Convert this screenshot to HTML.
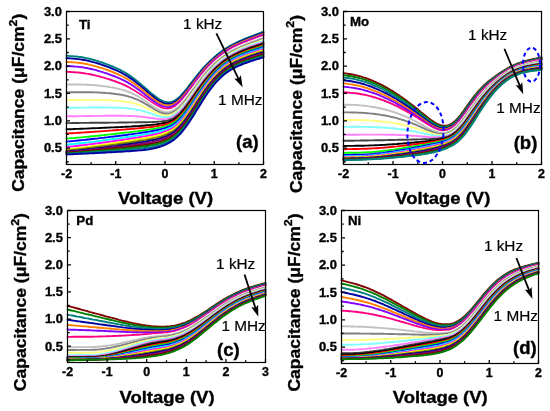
<!DOCTYPE html><html><head><meta charset="utf-8"><style>html,body{margin:0;padding:0;background:#fff;width:550px;height:411px;overflow:hidden}svg{display:block;filter:blur(0.3px)}text{font-family:"Liberation Sans",sans-serif;fill:#000;stroke:#000;stroke-width:0.35px}</style></head><body>
<svg width="550" height="411" viewBox="0 0 550 411">
<rect width="550" height="411" fill="#fff"/>
<g fill="none" stroke-width="1.9" stroke-linejoin="round" stroke-linecap="round">
<polyline points="66.5,55.8 68.5,55.9 70.4,56.1 72.4,56.2 74.4,56.4 76.3,56.5 78.3,56.8 80.3,57.0 82.3,57.3 84.2,57.7 86.2,58.1 88.2,58.5 90.1,59.0 92.1,59.5 94.1,60.0 96.1,60.6 98.0,61.2 100.0,61.8 102.0,62.5 103.9,63.2 105.9,63.9 107.9,64.6 109.8,65.4 111.8,66.2 113.8,67.0 115.8,67.9 117.7,68.8 119.7,69.7 121.7,70.7 123.6,71.8 125.6,72.9 127.6,74.1 129.5,75.4 131.5,76.8 133.5,78.2 135.4,79.7 137.4,81.3 139.4,82.9 141.4,84.6 143.3,86.3 145.3,88.0 147.3,89.7 149.2,91.4 151.2,93.1 153.2,94.8 155.2,96.3 157.1,97.7 159.1,99.0 161.1,100.2 163.0,101.1 165.0,101.8 167.0,102.1 168.9,102.2 170.9,101.9 172.9,101.3 174.9,100.3 176.8,99.0 178.8,97.4 180.8,95.6 182.7,93.5 184.7,91.2 186.7,88.8 188.6,86.2 190.6,83.7 192.6,81.1 194.6,78.5 196.5,76.0 198.5,73.5 200.5,71.2 202.4,68.9 204.4,66.7 206.4,64.6 208.3,62.6 210.3,60.7 212.3,58.9 214.2,57.1 216.2,55.4 218.2,53.8 220.2,52.3 222.1,50.9 224.1,49.5 226.1,48.2 228.0,47.0 230.0,45.9 232.0,44.8 233.9,43.8 235.9,42.8 237.9,41.8 239.9,40.9 241.8,40.1 243.8,39.2 245.8,38.4 247.7,37.6 249.7,36.8 251.7,36.1 253.7,35.3 255.6,34.6 257.6,33.8 259.6,33.1 261.5,32.4 263.5,31.7" stroke="#008080"/>
<polyline points="66.5,58.2 68.5,58.3 70.4,58.4 72.4,58.6 74.4,58.7 76.3,58.9 78.3,59.1 80.3,59.4 82.3,59.7 84.2,60.0 86.2,60.4 88.2,60.8 90.1,61.3 92.1,61.8 94.1,62.3 96.1,62.9 98.0,63.5 100.0,64.1 102.0,64.8 103.9,65.5 105.9,66.2 107.9,66.9 109.8,67.7 111.8,68.5 113.8,69.3 115.8,70.1 117.7,71.0 119.7,71.9 121.7,72.9 123.6,74.0 125.6,75.1 127.6,76.3 129.5,77.6 131.5,78.9 133.5,80.3 135.4,81.8 137.4,83.4 139.4,84.9 141.4,86.6 143.3,88.3 145.3,90.0 147.3,91.7 149.2,93.4 151.2,95.0 153.2,96.6 155.2,98.2 157.1,99.6 159.1,100.8 161.1,101.9 163.0,102.8 165.0,103.5 167.0,103.8 168.9,103.8 170.9,103.5 172.9,102.8 174.9,101.9 176.8,100.5 178.8,98.9 180.8,97.1 182.7,95.0 184.7,92.7 186.7,90.2 188.6,87.7 190.6,85.1 192.6,82.5 194.6,79.9 196.5,77.4 198.5,74.9 200.5,72.5 202.4,70.2 204.4,68.0 206.4,65.8 208.3,63.8 210.3,61.8 212.3,60.0 214.2,58.2 216.2,56.5 218.2,54.9 220.2,53.4 222.1,51.9 224.1,50.5 226.1,49.2 228.0,48.0 230.0,46.9 232.0,45.8 233.9,44.7 235.9,43.8 237.9,42.8 239.9,41.9 241.8,41.1 243.8,40.2 245.8,39.4 247.7,38.6 249.7,37.8 251.7,37.1 253.7,36.3 255.6,35.6 257.6,34.9 259.6,34.1 261.5,33.4 263.5,32.7" stroke="#0000A0"/>
<polyline points="66.5,61.9 68.5,62.0 70.4,62.1 72.4,62.3 74.4,62.4 76.3,62.6 78.3,62.8 80.3,63.0 82.3,63.3 84.2,63.6 86.2,64.0 88.2,64.4 90.1,64.9 92.1,65.3 94.1,65.8 96.1,66.4 98.0,67.0 100.0,67.6 102.0,68.2 103.9,68.9 105.9,69.5 107.9,70.2 109.8,71.0 111.8,71.7 113.8,72.5 115.8,73.3 117.7,74.2 119.7,75.1 121.7,76.0 123.6,77.0 125.6,78.1 127.6,79.2 129.5,80.5 131.5,81.8 133.5,83.1 135.4,84.5 137.4,86.0 139.4,87.5 141.4,89.1 143.3,90.7 145.3,92.4 147.3,94.0 149.2,95.6 151.2,97.2 153.2,98.7 155.2,100.2 157.1,101.5 159.1,102.7 161.1,103.8 163.0,104.6 165.0,105.2 167.0,105.5 168.9,105.5 170.9,105.1 172.9,104.4 174.9,103.4 176.8,102.1 178.8,100.5 180.8,98.6 182.7,96.5 184.7,94.2 186.7,91.7 188.6,89.2 190.6,86.6 192.6,84.0 194.6,81.3 196.5,78.8 198.5,76.3 200.5,73.8 202.4,71.5 204.4,69.2 206.4,67.0 208.3,65.0 210.3,63.0 212.3,61.1 214.2,59.3 216.2,57.6 218.2,55.9 220.2,54.4 222.1,52.9 224.1,51.5 226.1,50.2 228.0,49.0 230.0,47.8 232.0,46.7 233.9,45.7 235.9,44.7 237.9,43.8 239.9,42.9 241.8,42.0 243.8,41.2 245.8,40.4 247.7,39.6 249.7,38.8 251.7,38.1 253.7,37.3 255.6,36.6 257.6,35.9 259.6,35.1 261.5,34.4 263.5,33.7" stroke="#FF8000"/>
<polyline points="66.5,66.0 68.5,66.1 70.4,66.2 72.4,66.3 74.4,66.5 76.3,66.6 78.3,66.8 80.3,67.1 82.3,67.3 84.2,67.6 86.2,68.0 88.2,68.4 90.1,68.8 92.1,69.2 94.1,69.7 96.1,70.2 98.0,70.8 100.0,71.4 102.0,71.9 103.9,72.6 105.9,73.2 107.9,73.9 109.8,74.6 111.8,75.3 113.8,76.0 115.8,76.8 117.7,77.6 119.7,78.5 121.7,79.4 123.6,80.3 125.6,81.3 127.6,82.4 129.5,83.6 131.5,84.8 133.5,86.1 135.4,87.5 137.4,88.9 139.4,90.3 141.4,91.8 143.3,93.3 145.3,94.9 147.3,96.4 149.2,98.0 151.2,99.5 153.2,100.9 155.2,102.3 157.1,103.5 159.1,104.7 161.1,105.6 163.0,106.4 165.0,106.9 167.0,107.1 168.9,107.1 170.9,106.7 172.9,106.0 174.9,104.9 176.8,103.6 178.8,102.0 180.8,100.1 182.7,98.0 184.7,95.6 186.7,93.2 188.6,90.7 190.6,88.0 192.6,85.4 194.6,82.8 196.5,80.2 198.5,77.6 200.5,75.1 202.4,72.8 204.4,70.5 206.4,68.3 208.3,66.2 210.3,64.1 212.3,62.2 214.2,60.4 216.2,58.6 218.2,57.0 220.2,55.4 222.1,53.9 224.1,52.5 226.1,51.2 228.0,50.0 230.0,48.8 232.0,47.7 233.9,46.7 235.9,45.7 237.9,44.8 239.9,43.9 241.8,43.0 243.8,42.2 245.8,41.4 247.7,40.6 249.7,39.8 251.7,39.1 253.7,38.3 255.6,37.6 257.6,36.9 259.6,36.2 261.5,35.4 263.5,34.7" stroke="#8000FF"/>
<polyline points="66.5,71.8 68.5,71.9 70.4,72.0 72.4,72.1 74.4,72.2 76.3,72.4 78.3,72.5 80.3,72.7 82.3,73.0 84.2,73.2 86.2,73.6 88.2,73.9 90.1,74.3 92.1,74.7 94.1,75.1 96.1,75.6 98.0,76.1 100.0,76.6 102.0,77.2 103.9,77.7 105.9,78.3 107.9,78.9 109.8,79.5 111.8,80.2 113.8,80.8 115.8,81.5 117.7,82.3 119.7,83.0 121.7,83.9 123.6,84.7 125.6,85.7 127.6,86.7 129.5,87.7 131.5,88.8 133.5,90.0 135.4,91.2 137.4,92.5 139.4,93.8 141.4,95.1 143.3,96.5 145.3,97.9 147.3,99.3 149.2,100.7 151.2,102.1 153.2,103.3 155.2,104.6 157.1,105.7 159.1,106.7 161.1,107.6 163.0,108.2 165.0,108.6 167.0,108.8 168.9,108.7 170.9,108.3 172.9,107.5 174.9,106.5 176.8,105.1 178.8,103.5 180.8,101.6 182.7,99.5 184.7,97.1 186.7,94.7 188.6,92.1 190.6,89.5 192.6,86.8 194.6,84.2 196.5,81.5 198.5,79.0 200.5,76.5 202.4,74.0 204.4,71.7 206.4,69.5 208.3,67.3 210.3,65.3 212.3,63.3 214.2,61.5 216.2,59.7 218.2,58.0 220.2,56.5 222.1,55.0 224.1,53.6 226.1,52.2 228.0,51.0 230.0,49.8 232.0,48.7 233.9,47.7 235.9,46.7 237.9,45.7 239.9,44.8 241.8,44.0 243.8,43.2 245.8,42.4 247.7,41.6 249.7,40.8 251.7,40.1 253.7,39.3 255.6,38.6 257.6,37.9 259.6,37.2 261.5,36.5 263.5,35.8" stroke="#FF0080"/>
<polyline points="66.5,78.0 68.5,78.0 70.4,78.1 72.4,78.1 74.4,78.1 76.3,78.2 78.3,78.3 80.3,78.4 82.3,78.5 84.2,78.7 86.2,78.9 88.2,79.1 90.1,79.4 92.1,79.6 94.1,79.9 96.1,80.3 98.0,80.6 100.0,81.0 102.0,81.4 103.9,81.8 105.9,82.3 107.9,82.7 109.8,83.2 111.8,83.7 113.8,84.3 115.8,84.9 117.7,85.5 119.7,86.1 121.7,86.8 123.6,87.6 125.6,88.4 127.6,89.2 129.5,90.2 131.5,91.2 133.5,92.2 135.4,93.4 137.4,94.5 139.4,95.8 141.4,97.0 143.3,98.4 145.3,99.7 147.3,101.1 149.2,102.4 151.2,103.8 153.2,105.1 155.2,106.3 157.1,107.4 159.1,108.4 161.1,109.3 163.0,109.9 165.0,110.3 167.0,110.5 168.9,110.3 170.9,109.9 172.9,109.1 174.9,108.0 176.8,106.7 178.8,105.0 180.8,103.1 182.7,101.0 184.7,98.6 186.7,96.2 188.6,93.6 190.6,90.9 192.6,88.3 194.6,85.6 196.5,82.9 198.5,80.3 200.5,77.8 202.4,75.3 204.4,73.0 206.4,70.7 208.3,68.5 210.3,66.4 212.3,64.5 214.2,62.6 216.2,60.8 218.2,59.1 220.2,57.5 222.1,56.0 224.1,54.6 226.1,53.2 228.0,52.0 230.0,50.8 232.0,49.7 233.9,48.6 235.9,47.6 237.9,46.7 239.9,45.8 241.8,45.0 243.8,44.1 245.8,43.3 247.7,42.6 249.7,41.8 251.7,41.1 253.7,40.3 255.6,39.6 257.6,38.9 259.6,38.2 261.5,37.5 263.5,36.8" stroke="#FFFFFF"/>
<polyline points="66.5,84.5 68.5,84.5 70.4,84.5 72.4,84.5 74.4,84.5 76.3,84.5 78.3,84.5 80.3,84.5 82.3,84.6 84.2,84.6 86.2,84.7 88.2,84.8 90.1,84.9 92.1,85.0 94.1,85.1 96.1,85.3 98.0,85.5 100.0,85.7 102.0,85.9 103.9,86.2 105.9,86.4 107.9,86.7 109.8,87.1 111.8,87.4 113.8,87.8 115.8,88.2 117.7,88.6 119.7,89.1 121.7,89.6 123.6,90.2 125.6,90.8 127.6,91.5 129.5,92.3 131.5,93.1 133.5,94.1 135.4,95.0 137.4,96.1 139.4,97.2 141.4,98.4 143.3,99.7 145.3,101.0 147.3,102.3 149.2,103.7 151.2,105.1 153.2,106.4 155.2,107.7 157.1,108.8 159.1,109.9 161.1,110.8 163.0,111.5 165.0,112.0 167.0,112.1 168.9,112.0 170.9,111.5 172.9,110.7 174.9,109.6 176.8,108.2 178.8,106.5 180.8,104.6 182.7,102.5 184.7,100.1 186.7,97.6 188.6,95.1 190.6,92.4 192.6,89.7 194.6,87.0 196.5,84.3 198.5,81.7 200.5,79.1 202.4,76.6 204.4,74.2 206.4,71.9 208.3,69.7 210.3,67.6 212.3,65.6 214.2,63.7 216.2,61.9 218.2,60.1 220.2,58.5 222.1,57.0 224.1,55.6 226.1,54.2 228.0,52.9 230.0,51.8 232.0,50.6 233.9,49.6 235.9,48.6 237.9,47.7 239.9,46.8 241.8,45.9 243.8,45.1 245.8,44.3 247.7,43.5 249.7,42.8 251.7,42.0 253.7,41.3 255.6,40.6 257.6,39.9 259.6,39.2 261.5,38.5 263.5,37.8" stroke="#C0C0C0"/>
<polyline points="66.5,92.3 68.5,92.3 70.4,92.3 72.4,92.2 74.4,92.2 76.3,92.2 78.3,92.2 80.3,92.2 82.3,92.2 84.2,92.2 86.2,92.2 88.2,92.2 90.1,92.3 92.1,92.3 94.1,92.4 96.1,92.4 98.0,92.5 100.0,92.6 102.0,92.7 103.9,92.8 105.9,93.0 107.9,93.1 109.8,93.3 111.8,93.5 113.8,93.7 115.8,94.0 117.7,94.2 119.7,94.5 121.7,94.9 123.6,95.3 125.6,95.7 127.6,96.2 129.5,96.8 131.5,97.4 133.5,98.1 135.4,98.9 137.4,99.7 139.4,100.6 141.4,101.6 143.3,102.6 145.3,103.8 147.3,104.9 149.2,106.1 151.2,107.3 153.2,108.5 155.2,109.7 157.1,110.8 159.1,111.8 161.1,112.6 163.0,113.3 165.0,113.7 167.0,113.8 168.9,113.6 170.9,113.1 172.9,112.2 174.9,111.1 176.8,109.7 178.8,108.0 180.8,106.1 182.7,104.0 184.7,101.6 186.7,99.1 188.6,96.5 190.6,93.9 192.6,91.1 194.6,88.4 196.5,85.7 198.5,83.0 200.5,80.4 202.4,77.9 204.4,75.5 206.4,73.1 208.3,70.9 210.3,68.7 212.3,66.7 214.2,64.8 216.2,62.9 218.2,61.2 220.2,59.6 222.1,58.0 224.1,56.6 226.1,55.2 228.0,53.9 230.0,52.7 232.0,51.6 233.9,50.6 235.9,49.6 237.9,48.7 239.9,47.8 241.8,46.9 243.8,46.1 245.8,45.3 247.7,44.5 249.7,43.8 251.7,43.0 253.7,42.3 255.6,41.6 257.6,40.9 259.6,40.2 261.5,39.5 263.5,38.8" stroke="#808080"/>
<polyline points="66.5,100.1 68.5,100.1 70.4,100.1 72.4,100.0 74.4,100.0 76.3,100.0 78.3,100.0 80.3,100.0 82.3,99.9 84.2,99.9 86.2,99.9 88.2,99.9 90.1,99.9 92.1,99.9 94.1,99.9 96.1,99.9 98.0,100.0 100.0,100.0 102.0,100.0 103.9,100.1 105.9,100.1 107.9,100.2 109.8,100.3 111.8,100.4 113.8,100.5 115.8,100.6 117.7,100.8 119.7,101.0 121.7,101.2 123.6,101.4 125.6,101.7 127.6,102.0 129.5,102.3 131.5,102.7 133.5,103.2 135.4,103.7 137.4,104.3 139.4,105.0 141.4,105.7 143.3,106.5 145.3,107.4 147.3,108.3 149.2,109.3 151.2,110.2 153.2,111.2 155.2,112.2 157.1,113.1 159.1,113.9 161.1,114.6 163.0,115.1 165.0,115.4 167.0,115.5 168.9,115.2 170.9,114.7 172.9,113.8 174.9,112.7 176.8,111.3 178.8,109.6 180.8,107.6 182.7,105.5 184.7,103.1 186.7,100.6 188.6,98.0 190.6,95.3 192.6,92.6 194.6,89.8 196.5,87.1 198.5,84.4 200.5,81.7 202.4,79.2 204.4,76.7 206.4,74.3 208.3,72.1 210.3,69.9 212.3,67.8 214.2,65.9 216.2,64.0 218.2,62.2 220.2,60.6 222.1,59.0 224.1,57.6 226.1,56.2 228.0,54.9 230.0,53.7 232.0,52.6 233.9,51.5 235.9,50.6 237.9,49.6 239.9,48.7 241.8,47.9 243.8,47.1 245.8,46.3 247.7,45.5 249.7,44.8 251.7,44.0 253.7,43.3 255.6,42.6 257.6,41.9 259.6,41.2 261.5,40.5 263.5,39.9" stroke="#FFFF80"/>
<polyline points="66.5,107.8 68.5,107.8 70.4,107.8 72.4,107.7 74.4,107.7 76.3,107.7 78.3,107.7 80.3,107.6 82.3,107.6 84.2,107.6 86.2,107.6 88.2,107.6 90.1,107.5 92.1,107.5 94.1,107.5 96.1,107.5 98.0,107.5 100.0,107.5 102.0,107.5 103.9,107.5 105.9,107.5 107.9,107.5 109.8,107.6 111.8,107.6 113.8,107.6 115.8,107.7 117.7,107.7 119.7,107.8 121.7,107.9 123.6,108.0 125.6,108.2 127.6,108.3 129.5,108.5 131.5,108.8 133.5,109.0 135.4,109.4 137.4,109.7 139.4,110.1 141.4,110.6 143.3,111.1 145.3,111.7 147.3,112.3 149.2,113.0 151.2,113.7 153.2,114.3 155.2,115.0 157.1,115.7 159.1,116.3 161.1,116.7 163.0,117.1 165.0,117.2 167.0,117.2 168.9,116.8 170.9,116.3 172.9,115.4 174.9,114.2 176.8,112.8 178.8,111.1 180.8,109.1 182.7,107.0 184.7,104.6 186.7,102.1 188.6,99.5 190.6,96.8 192.6,94.0 194.6,91.2 196.5,88.5 198.5,85.7 200.5,83.1 202.4,80.5 204.4,78.0 206.4,75.5 208.3,73.2 210.3,71.0 212.3,68.9 214.2,66.9 216.2,65.1 218.2,63.3 220.2,61.6 222.1,60.1 224.1,58.6 226.1,57.2 228.0,55.9 230.0,54.7 232.0,53.6 233.9,52.5 235.9,51.5 237.9,50.6 239.9,49.7 241.8,48.9 243.8,48.1 245.8,47.3 247.7,46.5 249.7,45.8 251.7,45.0 253.7,44.3 255.6,43.6 257.6,42.9 259.6,42.2 261.5,41.6 263.5,40.9" stroke="#80FFFF"/>
<polyline points="66.5,116.3 68.5,116.3 70.4,116.2 72.4,116.2 74.4,116.2 76.3,116.2 78.3,116.1 80.3,116.1 82.3,116.1 84.2,116.1 86.2,116.0 88.2,116.0 90.1,116.0 92.1,116.0 94.1,115.9 96.1,115.9 98.0,115.9 100.0,115.9 102.0,115.9 103.9,115.8 105.9,115.8 107.9,115.8 109.8,115.8 111.8,115.8 113.8,115.8 115.8,115.8 117.7,115.8 119.7,115.8 121.7,115.8 123.6,115.8 125.6,115.9 127.6,115.9 129.5,116.0 131.5,116.0 133.5,116.1 135.4,116.2 137.4,116.4 139.4,116.5 141.4,116.7 143.3,116.9 145.3,117.2 147.3,117.4 149.2,117.7 151.2,118.0 153.2,118.2 155.2,118.5 157.1,118.8 159.1,119.0 161.1,119.1 163.0,119.2 165.0,119.1 167.0,118.9 168.9,118.5 170.9,117.8 172.9,116.9 174.9,115.8 176.8,114.3 178.8,112.6 180.8,110.6 182.7,108.5 184.7,106.1 186.7,103.6 188.6,100.9 190.6,98.2 192.6,95.4 194.6,92.6 196.5,89.8 198.5,87.1 200.5,84.4 202.4,81.7 204.4,79.2 206.4,76.8 208.3,74.4 210.3,72.2 212.3,70.1 214.2,68.0 216.2,66.1 218.2,64.3 220.2,62.7 222.1,61.1 224.1,59.6 226.1,58.2 228.0,56.9 230.0,55.7 232.0,54.5 233.9,53.5 235.9,52.5 237.9,51.6 239.9,50.7 241.8,49.8 243.8,49.0 245.8,48.3 247.7,47.5 249.7,46.7 251.7,46.0 253.7,45.3 255.6,44.6 257.6,43.9 259.6,43.3 261.5,42.6 263.5,41.9" stroke="#FF80FF"/>
<polyline points="66.5,123.1 68.5,123.1 70.4,123.1 72.4,123.0 74.4,123.0 76.3,123.0 78.3,123.0 80.3,122.9 82.3,122.9 84.2,122.9 86.2,122.9 88.2,122.9 90.1,122.8 92.1,122.8 94.1,122.8 96.1,122.8 98.0,122.8 100.0,122.7 102.0,122.7 103.9,122.7 105.9,122.7 107.9,122.7 109.8,122.6 111.8,122.6 113.8,122.6 115.8,122.6 117.7,122.6 119.7,122.5 121.7,122.5 123.6,122.5 125.6,122.5 127.6,122.5 129.5,122.4 131.5,122.4 133.5,122.4 135.4,122.4 137.4,122.3 139.4,122.3 141.4,122.3 143.3,122.2 145.3,122.2 147.3,122.2 149.2,122.1 151.2,122.1 153.2,122.0 155.2,121.9 157.1,121.8 159.1,121.6 161.1,121.5 163.0,121.2 165.0,120.9 167.0,120.6 168.9,120.1 170.9,119.4 172.9,118.5 174.9,117.3 176.8,115.8 178.8,114.1 180.8,112.1 182.7,110.0 184.7,107.6 186.7,105.1 188.6,102.4 190.6,99.7 192.6,96.9 194.6,94.1 196.5,91.2 198.5,88.4 200.5,85.7 202.4,83.0 204.4,80.5 206.4,78.0 208.3,75.6 210.3,73.3 212.3,71.2 214.2,69.1 216.2,67.2 218.2,65.4 220.2,63.7 222.1,62.1 224.1,60.6 226.1,59.2 228.0,57.9 230.0,56.7 232.0,55.5 233.9,54.5 235.9,53.5 237.9,52.5 239.9,51.7 241.8,50.8 243.8,50.0 245.8,49.2 247.7,48.5 249.7,47.7 251.7,47.0 253.7,46.3 255.6,45.6 257.6,44.9 259.6,44.3 261.5,43.6 263.5,42.9" stroke="#404040"/>
<polyline points="66.5,129.3 68.5,129.2 70.4,129.2 72.4,129.1 74.4,129.0 76.3,128.9 78.3,128.9 80.3,128.8 82.3,128.7 84.2,128.6 86.2,128.6 88.2,128.5 90.1,128.4 92.1,128.3 94.1,128.2 96.1,128.1 98.0,128.1 100.0,128.0 102.0,127.9 103.9,127.8 105.9,127.7 107.9,127.6 109.8,127.5 111.8,127.4 113.8,127.4 115.8,127.3 117.7,127.2 119.7,127.1 121.7,127.0 123.6,126.9 125.6,126.8 127.6,126.7 129.5,126.6 131.5,126.5 133.5,126.3 135.4,126.2 137.4,126.1 139.4,126.0 141.4,125.8 143.3,125.7 145.3,125.5 147.3,125.3 149.2,125.1 151.2,124.9 153.2,124.7 155.2,124.5 157.1,124.2 159.1,123.9 161.1,123.6 163.0,123.2 165.0,122.8 167.0,122.3 168.9,121.8 170.9,121.0 172.9,120.1 174.9,118.9 176.8,117.4 178.8,115.6 180.8,113.6 182.7,111.5 184.7,109.1 186.7,106.5 188.6,103.9 190.6,101.1 192.6,98.3 194.6,95.5 196.5,92.6 198.5,89.8 200.5,87.0 202.4,84.3 204.4,81.7 206.4,79.2 208.3,76.8 210.3,74.5 212.3,72.3 214.2,70.2 216.2,68.3 218.2,66.4 220.2,64.7 222.1,63.1 224.1,61.6 226.1,60.2 228.0,58.9 230.0,57.6 232.0,56.5 233.9,55.4 235.9,54.4 237.9,53.5 239.9,52.6 241.8,51.8 243.8,51.0 245.8,50.2 247.7,49.5 249.7,48.7 251.7,48.0 253.7,47.3 255.6,46.6 257.6,46.0 259.6,45.3 261.5,44.6 263.5,44.0" stroke="#000000"/>
<polyline points="66.5,133.5 68.5,133.4 70.4,133.3 72.4,133.2 74.4,133.1 76.3,132.9 78.3,132.8 80.3,132.7 82.3,132.6 84.2,132.4 86.2,132.3 88.2,132.2 90.1,132.0 92.1,131.9 94.1,131.8 96.1,131.6 98.0,131.5 100.0,131.4 102.0,131.2 103.9,131.1 105.9,130.9 107.9,130.8 109.8,130.6 111.8,130.5 113.8,130.3 115.8,130.2 117.7,130.0 119.7,129.9 121.7,129.7 123.6,129.6 125.6,129.4 127.6,129.2 129.5,129.1 131.5,128.9 133.5,128.7 135.4,128.6 137.4,128.4 139.4,128.2 141.4,128.0 143.3,127.8 145.3,127.6 147.3,127.4 149.2,127.2 151.2,127.0 153.2,126.7 155.2,126.4 157.1,126.1 159.1,125.8 161.1,125.4 163.0,125.0 165.0,124.6 167.0,124.0 168.9,123.4 170.9,122.6 172.9,121.6 174.9,120.4 176.8,118.9 178.8,117.1 180.8,115.2 182.7,113.0 184.7,110.6 186.7,108.0 188.6,105.4 190.6,102.6 192.6,99.8 194.6,96.9 196.5,94.0 198.5,91.2 200.5,88.3 202.4,85.6 204.4,82.9 206.4,80.4 208.3,78.0 210.3,75.6 212.3,73.4 214.2,71.3 216.2,69.4 218.2,67.5 220.2,65.8 222.1,64.1 224.1,62.6 226.1,61.2 228.0,59.8 230.0,58.6 232.0,57.5 233.9,56.4 235.9,55.4 237.9,54.5 239.9,53.6 241.8,52.8 243.8,52.0 245.8,51.2 247.7,50.4 249.7,49.7 251.7,49.0 253.7,48.3 255.6,47.6 257.6,47.0 259.6,46.3 261.5,45.6 263.5,45.0" stroke="#FF0000"/>
<polyline points="66.5,138.6 68.5,138.4 70.4,138.3 72.4,138.1 74.4,138.0 76.3,137.8 78.3,137.6 80.3,137.4 82.3,137.3 84.2,137.1 86.2,136.9 88.2,136.7 90.1,136.5 92.1,136.3 94.1,136.1 96.1,135.9 98.0,135.7 100.0,135.5 102.0,135.3 103.9,135.1 105.9,134.8 107.9,134.6 109.8,134.4 111.8,134.2 113.8,134.0 115.8,133.7 117.7,133.5 119.7,133.3 121.7,133.1 123.6,132.8 125.6,132.6 127.6,132.4 129.5,132.2 131.5,131.9 133.5,131.7 135.4,131.4 137.4,131.2 139.4,130.9 141.4,130.7 143.3,130.4 145.3,130.2 147.3,129.9 149.2,129.6 151.2,129.3 153.2,129.0 155.2,128.6 157.1,128.2 159.1,127.8 161.1,127.4 163.0,126.9 165.0,126.4 167.0,125.8 168.9,125.1 170.9,124.2 172.9,123.2 174.9,121.9 176.8,120.4 178.8,118.7 180.8,116.7 182.7,114.5 184.7,112.1 186.7,109.5 188.6,106.8 190.6,104.0 192.6,101.2 194.6,98.3 196.5,95.4 198.5,92.5 200.5,89.7 202.4,86.9 204.4,84.2 206.4,81.6 208.3,79.1 210.3,76.8 212.3,74.5 214.2,72.4 216.2,70.4 218.2,68.5 220.2,66.8 222.1,65.1 224.1,63.6 226.1,62.2 228.0,60.8 230.0,59.6 232.0,58.4 233.9,57.4 235.9,56.4 237.9,55.5 239.9,54.6 241.8,53.7 243.8,52.9 245.8,52.2 247.7,51.4 249.7,50.7 251.7,50.0 253.7,49.3 255.6,48.6 257.6,48.0 259.6,47.3 261.5,46.7 263.5,46.0" stroke="#00FF00"/>
<polyline points="66.5,141.6 68.5,141.4 70.4,141.3 72.4,141.1 74.4,140.9 76.3,140.7 78.3,140.5 80.3,140.3 82.3,140.1 84.2,139.9 86.2,139.7 88.2,139.5 90.1,139.3 92.1,139.0 94.1,138.8 96.1,138.6 98.0,138.4 100.0,138.1 102.0,137.9 103.9,137.7 105.9,137.4 107.9,137.2 109.8,136.9 111.8,136.7 113.8,136.5 115.8,136.2 117.7,136.0 119.7,135.7 121.7,135.5 123.6,135.2 125.6,135.0 127.6,134.7 129.5,134.4 131.5,134.2 133.5,133.9 135.4,133.6 137.4,133.4 139.4,133.1 141.4,132.8 143.3,132.5 145.3,132.2 147.3,131.9 149.2,131.6 151.2,131.3 153.2,130.9 155.2,130.5 157.1,130.1 159.1,129.7 161.1,129.2 163.0,128.7 165.0,128.1 167.0,127.4 168.9,126.7 170.9,125.8 172.9,124.8 174.9,123.5 176.8,122.0 178.8,120.2 180.8,118.2 182.7,116.0 184.7,113.6 186.7,111.0 188.6,108.3 190.6,105.5 192.6,102.6 194.6,99.7 196.5,96.8 198.5,93.9 200.5,91.0 202.4,88.2 204.4,85.4 206.4,82.8 208.3,80.3 210.3,77.9 212.3,75.7 214.2,73.5 216.2,71.5 218.2,69.6 220.2,67.8 222.1,66.2 224.1,64.6 226.1,63.2 228.0,61.8 230.0,60.6 232.0,59.4 233.9,58.4 235.9,57.4 237.9,56.4 239.9,55.6 241.8,54.7 243.8,53.9 245.8,53.2 247.7,52.4 249.7,51.7 251.7,51.0 253.7,50.3 255.6,49.6 257.6,49.0 259.6,48.3 261.5,47.7 263.5,47.0" stroke="#0000FF"/>
<polyline points="66.5,144.7 68.5,144.5 70.4,144.3 72.4,144.1 74.4,143.9 76.3,143.7 78.3,143.5 80.3,143.3 82.3,143.1 84.2,142.8 86.2,142.6 88.2,142.4 90.1,142.1 92.1,141.9 94.1,141.6 96.1,141.4 98.0,141.1 100.0,140.9 102.0,140.6 103.9,140.3 105.9,140.1 107.9,139.8 109.8,139.5 111.8,139.3 113.8,139.0 115.8,138.7 117.7,138.4 119.7,138.2 121.7,137.9 123.6,137.6 125.6,137.3 127.6,137.0 129.5,136.8 131.5,136.5 133.5,136.2 135.4,135.9 137.4,135.6 139.4,135.3 141.4,135.0 143.3,134.6 145.3,134.3 147.3,134.0 149.2,133.6 151.2,133.3 153.2,132.9 155.2,132.5 157.1,132.0 159.1,131.6 161.1,131.0 163.0,130.5 165.0,129.8 167.0,129.1 168.9,128.3 170.9,127.4 172.9,126.3 174.9,125.0 176.8,123.5 178.8,121.7 180.8,119.7 182.7,117.5 184.7,115.0 186.7,112.5 188.6,109.8 190.6,107.0 192.6,104.1 194.6,101.1 196.5,98.2 198.5,95.2 200.5,92.3 202.4,89.5 204.4,86.7 206.4,84.0 208.3,81.5 210.3,79.1 212.3,76.8 214.2,74.6 216.2,72.6 218.2,70.6 220.2,68.9 222.1,67.2 224.1,65.6 226.1,64.2 228.0,62.8 230.0,61.6 232.0,60.4 233.9,59.3 235.9,58.3 237.9,57.4 239.9,56.5 241.8,55.7 243.8,54.9 245.8,54.1 247.7,53.4 249.7,52.7 251.7,52.0 253.7,51.3 255.6,50.6 257.6,50.0 259.6,49.3 261.5,48.7 263.5,48.1" stroke="#00FFFF"/>
<polyline points="66.5,147.0 68.5,146.8 70.4,146.6 72.4,146.4 74.4,146.2 76.3,146.0 78.3,145.8 80.3,145.5 82.3,145.3 84.2,145.1 86.2,144.8 88.2,144.6 90.1,144.3 92.1,144.1 94.1,143.8 96.1,143.5 98.0,143.3 100.0,143.0 102.0,142.8 103.9,142.5 105.9,142.2 107.9,141.9 109.8,141.7 111.8,141.4 113.8,141.1 115.8,140.8 117.7,140.5 119.7,140.2 121.7,140.0 123.6,139.7 125.6,139.4 127.6,139.1 129.5,138.8 131.5,138.5 133.5,138.2 135.4,137.9 137.4,137.6 139.4,137.2 141.4,136.9 143.3,136.6 145.3,136.3 147.3,135.9 149.2,135.5 151.2,135.2 153.2,134.7 155.2,134.3 157.1,133.8 159.1,133.3 161.1,132.8 163.0,132.2 165.0,131.5 167.0,130.8 168.9,130.0 170.9,129.0 172.9,127.9 174.9,126.6 176.8,125.0 178.8,123.2 180.8,121.2 182.7,119.0 184.7,116.5 186.7,114.0 188.6,111.2 190.6,108.4 192.6,105.5 194.6,102.5 196.5,99.5 198.5,96.6 200.5,93.6 202.4,90.7 204.4,87.9 206.4,85.2 208.3,82.7 210.3,80.2 212.3,77.9 214.2,75.7 216.2,73.6 218.2,71.7 220.2,69.9 222.1,68.2 224.1,66.6 226.1,65.1 228.0,63.8 230.0,62.5 232.0,61.4 233.9,60.3 235.9,59.3 237.9,58.4 239.9,57.5 241.8,56.7 243.8,55.9 245.8,55.1 247.7,54.4 249.7,53.7 251.7,53.0 253.7,52.3 255.6,51.7 257.6,51.0 259.6,50.4 261.5,49.7 263.5,49.1" stroke="#FF00FF"/>
<polyline points="66.5,149.3 68.5,149.1 70.4,148.9 72.4,148.7 74.4,148.5 76.3,148.2 78.3,148.0 80.3,147.8 82.3,147.5 84.2,147.3 86.2,147.0 88.2,146.8 90.1,146.5 92.1,146.3 94.1,146.0 96.1,145.7 98.0,145.5 100.0,145.2 102.0,144.9 103.9,144.6 105.9,144.3 107.9,144.1 109.8,143.8 111.8,143.5 113.8,143.2 115.8,142.9 117.7,142.6 119.7,142.3 121.7,142.0 123.6,141.7 125.6,141.4 127.6,141.1 129.5,140.8 131.5,140.5 133.5,140.2 135.4,139.9 137.4,139.5 139.4,139.2 141.4,138.9 143.3,138.5 145.3,138.2 147.3,137.8 149.2,137.4 151.2,137.0 153.2,136.6 155.2,136.2 157.1,135.7 159.1,135.1 161.1,134.6 163.0,133.9 165.0,133.2 167.0,132.5 168.9,131.6 170.9,130.6 172.9,129.5 174.9,128.1 176.8,126.5 178.8,124.7 180.8,122.7 182.7,120.5 184.7,118.0 186.7,115.4 188.6,112.7 190.6,109.9 192.6,106.9 194.6,103.9 196.5,100.9 198.5,97.9 200.5,94.9 202.4,92.0 204.4,89.2 206.4,86.5 208.3,83.9 210.3,81.4 212.3,79.0 214.2,76.8 216.2,74.7 218.2,72.7 220.2,70.9 222.1,69.2 224.1,67.6 226.1,66.1 228.0,64.8 230.0,63.5 232.0,62.4 233.9,61.3 235.9,60.3 237.9,59.3 239.9,58.5 241.8,57.6 243.8,56.9 245.8,56.1 247.7,55.4 249.7,54.7 251.7,54.0 253.7,53.3 255.6,52.7 257.6,52.0 259.6,51.4 261.5,50.7 263.5,50.1" stroke="#FFFF00"/>
<polyline points="66.5,150.4 68.5,150.2 70.4,150.0 72.4,149.8 74.4,149.6 76.3,149.4 78.3,149.2 80.3,149.0 82.3,148.7 84.2,148.5 86.2,148.3 88.2,148.0 90.1,147.8 92.1,147.5 94.1,147.3 96.1,147.0 98.0,146.8 100.0,146.5 102.0,146.2 103.9,146.0 105.9,145.7 107.9,145.5 109.8,145.2 111.8,144.9 113.8,144.6 115.8,144.4 117.7,144.1 119.7,143.8 121.7,143.5 123.6,143.2 125.6,143.0 127.6,142.7 129.5,142.4 131.5,142.1 133.5,141.8 135.4,141.5 137.4,141.2 139.4,140.8 141.4,140.5 143.3,140.2 145.3,139.9 147.3,139.5 149.2,139.1 151.2,138.7 153.2,138.3 155.2,137.9 157.1,137.4 159.1,136.8 161.1,136.3 163.0,135.6 165.0,134.9 167.0,134.1 168.9,133.2 170.9,132.2 172.9,131.0 174.9,129.7 176.8,128.1 178.8,126.2 180.8,124.2 182.7,122.0 184.7,119.5 186.7,116.9 188.6,114.2 190.6,111.3 192.6,108.4 194.6,105.4 196.5,102.3 198.5,99.3 200.5,96.3 202.4,93.3 204.4,90.4 206.4,87.7 208.3,85.0 210.3,82.5 212.3,80.1 214.2,77.9 216.2,75.8 218.2,73.8 220.2,71.9 222.1,70.2 224.1,68.6 226.1,67.1 228.0,65.8 230.0,64.5 232.0,63.3 233.9,62.3 235.9,61.3 237.9,60.3 239.9,59.4 241.8,58.6 243.8,57.8 245.8,57.1 247.7,56.4 249.7,55.7 251.7,55.0 253.7,54.3 255.6,53.7 257.6,53.0 259.6,52.4 261.5,51.8 263.5,51.1" stroke="#808000"/>
<polyline points="66.5,151.6 68.5,151.4 70.4,151.2 72.4,151.0 74.4,150.8 76.3,150.6 78.3,150.4 80.3,150.2 82.3,150.0 84.2,149.8 86.2,149.6 88.2,149.3 90.1,149.1 92.1,148.9 94.1,148.6 96.1,148.4 98.0,148.1 100.0,147.9 102.0,147.7 103.9,147.4 105.9,147.2 107.9,146.9 109.8,146.7 111.8,146.4 113.8,146.1 115.8,145.9 117.7,145.6 119.7,145.3 121.7,145.1 123.6,144.8 125.6,144.5 127.6,144.3 129.5,144.0 131.5,143.7 133.5,143.4 135.4,143.1 137.4,142.8 139.4,142.5 141.4,142.2 143.3,141.9 145.3,141.6 147.3,141.2 149.2,140.8 151.2,140.4 153.2,140.0 155.2,139.6 157.1,139.1 159.1,138.6 161.1,138.0 163.0,137.3 165.0,136.6 167.0,135.8 168.9,134.8 170.9,133.8 172.9,132.6 174.9,131.2 176.8,129.6 178.8,127.8 180.8,125.7 182.7,123.5 184.7,121.0 186.7,118.4 188.6,115.6 190.6,112.8 192.6,109.8 194.6,106.8 196.5,103.7 198.5,100.6 200.5,97.6 202.4,94.6 204.4,91.7 206.4,88.9 208.3,86.2 210.3,83.7 212.3,81.3 214.2,79.0 216.2,76.8 218.2,74.8 220.2,73.0 222.1,71.2 224.1,69.6 226.1,68.1 228.0,66.7 230.0,65.5 232.0,64.3 233.9,63.2 235.9,62.2 237.9,61.3 239.9,60.4 241.8,59.6 243.8,58.8 245.8,58.1 247.7,57.3 249.7,56.7 251.7,56.0 253.7,55.3 255.6,54.7 257.6,54.0 259.6,53.4 261.5,52.8 263.5,52.2" stroke="#000080"/>
<polyline points="66.5,152.2 68.5,152.0 70.4,151.9 72.4,151.7 74.4,151.5 76.3,151.3 78.3,151.1 80.3,151.0 82.3,150.8 84.2,150.6 86.2,150.4 88.2,150.2 90.1,149.9 92.1,149.7 94.1,149.5 96.1,149.3 98.0,149.1 100.0,148.9 102.0,148.7 103.9,148.4 105.9,148.2 107.9,148.0 109.8,147.8 111.8,147.5 113.8,147.3 115.8,147.1 117.7,146.8 119.7,146.6 121.7,146.4 123.6,146.1 125.6,145.9 127.6,145.6 129.5,145.4 131.5,145.1 133.5,144.8 135.4,144.6 137.4,144.3 139.4,144.0 141.4,143.7 143.3,143.4 145.3,143.1 147.3,142.8 149.2,142.4 151.2,142.1 153.2,141.7 155.2,141.2 157.1,140.7 159.1,140.2 161.1,139.6 163.0,139.0 165.0,138.2 167.0,137.4 168.9,136.4 170.9,135.4 172.9,134.2 174.9,132.8 176.8,131.1 178.8,129.3 180.8,127.2 182.7,125.0 184.7,122.5 186.7,119.9 188.6,117.1 190.6,114.2 192.6,111.2 194.6,108.2 196.5,105.1 198.5,102.0 200.5,98.9 202.4,95.9 204.4,92.9 206.4,90.1 208.3,87.4 210.3,84.8 212.3,82.4 214.2,80.1 216.2,77.9 218.2,75.9 220.2,74.0 222.1,72.3 224.1,70.6 226.1,69.1 228.0,67.7 230.0,66.5 232.0,65.3 233.9,64.2 235.9,63.2 237.9,62.3 239.9,61.4 241.8,60.6 243.8,59.8 245.8,59.1 247.7,58.3 249.7,57.6 251.7,57.0 253.7,56.3 255.6,55.7 257.6,55.0 259.6,54.4 261.5,53.8 263.5,53.2" stroke="#800080"/>
<polyline points="66.5,152.7 68.5,152.6 70.4,152.4 72.4,152.2 74.4,152.1 76.3,151.9 78.3,151.8 80.3,151.6 82.3,151.4 84.2,151.3 86.2,151.1 88.2,150.9 90.1,150.7 92.1,150.5 94.1,150.4 96.1,150.2 98.0,150.0 100.0,149.8 102.0,149.6 103.9,149.4 105.9,149.2 107.9,149.0 109.8,148.8 111.8,148.6 113.8,148.4 115.8,148.2 117.7,148.0 119.7,147.8 121.7,147.6 123.6,147.4 125.6,147.2 127.6,146.9 129.5,146.7 131.5,146.5 133.5,146.3 135.4,146.0 137.4,145.8 139.4,145.5 141.4,145.2 143.3,145.0 145.3,144.7 147.3,144.4 149.2,144.0 151.2,143.7 153.2,143.3 155.2,142.9 157.1,142.4 159.1,141.9 161.1,141.3 163.0,140.6 165.0,139.9 167.0,139.0 168.9,138.1 170.9,137.0 172.9,135.7 174.9,134.3 176.8,132.7 178.8,130.8 180.8,128.7 182.7,126.5 184.7,124.0 186.7,121.4 188.6,118.6 190.6,115.7 192.6,112.7 194.6,109.6 196.5,106.5 198.5,103.3 200.5,100.2 202.4,97.2 204.4,94.2 206.4,91.3 208.3,88.6 210.3,86.0 212.3,83.5 214.2,81.2 216.2,79.0 218.2,76.9 220.2,75.0 222.1,73.3 224.1,71.6 226.1,70.1 228.0,68.7 230.0,67.4 232.0,66.3 233.9,65.2 235.9,64.2 237.9,63.2 239.9,62.4 241.8,61.6 243.8,60.8 245.8,60.0 247.7,59.3 249.7,58.6 251.7,58.0 253.7,57.3 255.6,56.7 257.6,56.1 259.6,55.4 261.5,54.8 263.5,54.2" stroke="#800000"/>
<polyline points="66.5,153.3 68.5,153.2 70.4,153.0 72.4,152.9 74.4,152.8 76.3,152.6 78.3,152.5 80.3,152.3 82.3,152.2 84.2,152.0 86.2,151.9 88.2,151.7 90.1,151.6 92.1,151.4 94.1,151.3 96.1,151.1 98.0,150.9 100.0,150.8 102.0,150.6 103.9,150.4 105.9,150.3 107.9,150.1 109.8,149.9 111.8,149.8 113.8,149.6 115.8,149.4 117.7,149.2 119.7,149.1 121.7,148.9 123.6,148.7 125.6,148.5 127.6,148.3 129.5,148.1 131.5,147.9 133.5,147.7 135.4,147.5 137.4,147.3 139.4,147.0 141.4,146.8 143.3,146.5 145.3,146.3 147.3,146.0 149.2,145.7 151.2,145.3 153.2,144.9 155.2,144.5 157.1,144.0 159.1,143.5 161.1,142.9 163.0,142.3 165.0,141.5 167.0,140.7 168.9,139.7 170.9,138.6 172.9,137.3 174.9,135.8 176.8,134.2 178.8,132.3 180.8,130.2 182.7,128.0 184.7,125.5 186.7,122.8 188.6,120.1 190.6,117.1 192.6,114.1 194.6,111.0 196.5,107.9 198.5,104.7 200.5,101.6 202.4,98.5 204.4,95.4 206.4,92.5 208.3,89.7 210.3,87.1 212.3,84.6 214.2,82.3 216.2,80.1 218.2,78.0 220.2,76.1 222.1,74.3 224.1,72.6 226.1,71.1 228.0,69.7 230.0,68.4 232.0,67.2 233.9,66.1 235.9,65.1 237.9,64.2 239.9,63.3 241.8,62.5 243.8,61.8 245.8,61.0 247.7,60.3 249.7,59.6 251.7,59.0 253.7,58.3 255.6,57.7 257.6,57.1 259.6,56.5 261.5,55.8 263.5,55.2" stroke="#008000"/>
<polyline points="66.5,153.9 68.5,153.8 70.4,153.7 72.4,153.6 74.4,153.4 76.3,153.3 78.3,153.2 80.3,153.1 82.3,153.0 84.2,152.8 86.2,152.7 88.2,152.6 90.1,152.5 92.1,152.3 94.1,152.2 96.1,152.1 98.0,151.9 100.0,151.8 102.0,151.7 103.9,151.6 105.9,151.4 107.9,151.3 109.8,151.1 111.8,151.0 113.8,150.9 115.8,150.7 117.7,150.6 119.7,150.4 121.7,150.3 123.6,150.1 125.6,150.0 127.6,149.8 129.5,149.6 131.5,149.5 133.5,149.3 135.4,149.1 137.4,148.9 139.4,148.7 141.4,148.5 143.3,148.3 145.3,148.0 147.3,147.7 149.2,147.4 151.2,147.1 153.2,146.7 155.2,146.3 157.1,145.8 159.1,145.3 161.1,144.6 163.0,144.0 165.0,143.2 167.0,142.3 168.9,141.3 170.9,140.2 172.9,138.9 174.9,137.4 176.8,135.7 178.8,133.8 180.8,131.7 182.7,129.5 184.7,127.0 186.7,124.3 188.6,121.5 190.6,118.6 192.6,115.5 194.6,112.4 196.5,109.2 198.5,106.1 200.5,102.9 202.4,99.7 204.4,96.7 206.4,93.7 208.3,90.9 210.3,88.3 212.3,85.7 214.2,83.4 216.2,81.1 218.2,79.0 220.2,77.1 222.1,75.3 224.1,73.6 226.1,72.1 228.0,70.7 230.0,69.4 232.0,68.2 233.9,67.1 235.9,66.1 237.9,65.2 239.9,64.3 241.8,63.5 243.8,62.7 245.8,62.0 247.7,61.3 249.7,60.6 251.7,60.0 253.7,59.3 255.6,58.7 257.6,58.1 259.6,57.5 261.5,56.9 263.5,56.3" stroke="#008080"/>
<polyline points="66.5,154.5 68.5,154.4 70.4,154.3 72.4,154.2 74.4,154.1 76.3,154.0 78.3,153.9 80.3,153.8 82.3,153.7 84.2,153.6 86.2,153.6 88.2,153.5 90.1,153.4 92.1,153.3 94.1,153.2 96.1,153.1 98.0,153.0 100.0,152.9 102.0,152.8 103.9,152.7 105.9,152.5 107.9,152.4 109.8,152.3 111.8,152.2 113.8,152.1 115.8,152.0 117.7,151.9 119.7,151.8 121.7,151.7 123.6,151.6 125.6,151.4 127.6,151.3 129.5,151.2 131.5,151.0 133.5,150.9 135.4,150.7 137.4,150.5 139.4,150.4 141.4,150.2 143.3,150.0 145.3,149.7 147.3,149.5 149.2,149.2 151.2,148.8 153.2,148.5 155.2,148.0 157.1,147.5 159.1,147.0 161.1,146.4 163.0,145.6 165.0,144.8 167.0,143.9 168.9,142.9 170.9,141.8 172.9,140.4 174.9,138.9 176.8,137.2 178.8,135.4 180.8,133.3 182.7,131.0 184.7,128.5 186.7,125.8 188.6,123.0 190.6,120.0 192.6,117.0 194.6,113.8 196.5,110.6 198.5,107.4 200.5,104.2 202.4,101.0 204.4,97.9 206.4,95.0 208.3,92.1 210.3,89.4 212.3,86.9 214.2,84.5 216.2,82.2 218.2,80.1 220.2,78.1 222.1,76.3 224.1,74.6 226.1,73.1 228.0,71.7 230.0,70.4 232.0,69.2 233.9,68.1 235.9,67.1 237.9,66.2 239.9,65.3 241.8,64.5 243.8,63.7 245.8,63.0 247.7,62.3 249.7,61.6 251.7,60.9 253.7,60.3 255.6,59.7 257.6,59.1 259.6,58.5 261.5,57.9 263.5,57.3" stroke="#0000A0"/>
</g>
<rect x="66.5" y="11.5" width="197.0" height="153.0" fill="none" stroke="#000" stroke-width="1.2"/>
<path d="M66.50,164.5v-3.5 M91.12,164.5v-2.2 M115.75,164.5v-3.5 M140.38,164.5v-2.2 M165.00,164.5v-3.5 M189.62,164.5v-2.2 M214.25,164.5v-3.5 M238.88,164.5v-2.2 M263.50,164.5v-3.5 M66.5,161.77h2.2 M66.5,148.11h3.5 M66.5,134.45h2.2 M66.5,120.79h3.5 M66.5,107.12h2.2 M66.5,93.46h3.5 M66.5,79.80h2.2 M66.5,66.14h3.5 M66.5,52.48h2.2 M66.5,38.82h3.5 M66.5,25.16h2.2 M66.5,11.50h3.5" stroke="#000" stroke-width="1.3" fill="none"/>
<text transform="translate(66.50,177.90) scale(1.03,1)" font-size="12" font-weight="bold" text-anchor="middle">-2</text>
<text transform="translate(115.75,177.90) scale(1.03,1)" font-size="12" font-weight="bold" text-anchor="middle">-1</text>
<text transform="translate(165.00,177.90) scale(1.03,1)" font-size="12" font-weight="bold" text-anchor="middle">0</text>
<text transform="translate(214.25,177.90) scale(1.03,1)" font-size="12" font-weight="bold" text-anchor="middle">1</text>
<text transform="translate(263.50,177.90) scale(1.03,1)" font-size="12" font-weight="bold" text-anchor="middle">2</text>
<text transform="translate(61.90,152.41) scale(1.08,1)" font-size="12" font-weight="bold" text-anchor="end">0.5</text>
<text transform="translate(61.90,125.09) scale(1.08,1)" font-size="12" font-weight="bold" text-anchor="end">1.0</text>
<text transform="translate(61.90,97.76) scale(1.08,1)" font-size="12" font-weight="bold" text-anchor="end">1.5</text>
<text transform="translate(61.90,70.44) scale(1.08,1)" font-size="12" font-weight="bold" text-anchor="end">2.0</text>
<text transform="translate(61.90,43.12) scale(1.08,1)" font-size="12" font-weight="bold" text-anchor="end">2.5</text>
<text transform="translate(61.90,15.80) scale(1.08,1)" font-size="12" font-weight="bold" text-anchor="end">3.0</text>
<g fill="none" stroke-width="1.9" stroke-linejoin="round" stroke-linecap="round">
<polyline points="343.5,73.1 345.5,73.4 347.5,73.7 349.4,74.0 351.4,74.3 353.4,74.7 355.4,75.1 357.4,75.6 359.3,76.1 361.3,76.6 363.3,77.3 365.3,77.9 367.3,78.6 369.2,79.4 371.2,80.2 373.2,81.0 375.2,81.9 377.2,82.8 379.1,83.7 381.1,84.7 383.1,85.7 385.1,86.8 387.1,87.9 389.0,89.0 391.0,90.2 393.0,91.4 395.0,92.7 397.0,94.0 398.9,95.3 400.9,96.7 402.9,98.1 404.9,99.5 406.9,100.9 408.8,102.4 410.8,103.9 412.8,105.4 414.8,107.0 416.8,108.6 418.7,110.2 420.7,111.9 422.7,113.5 424.7,115.1 426.7,116.7 428.6,118.3 430.6,119.8 432.6,121.1 434.6,122.4 436.6,123.5 438.5,124.4 440.5,125.1 442.5,125.6 444.5,125.7 446.5,125.6 448.4,125.1 450.4,124.3 452.4,123.1 454.4,121.6 456.4,119.8 458.3,117.7 460.3,115.3 462.3,112.7 464.3,109.9 466.3,107.1 468.2,104.3 470.2,101.5 472.2,98.8 474.2,96.2 476.2,93.8 478.1,91.4 480.1,89.3 482.1,87.2 484.1,85.3 486.1,83.5 488.0,81.8 490.0,80.2 492.0,78.7 494.0,77.2 496.0,75.8 497.9,74.4 499.9,73.1 501.9,71.8 503.9,70.5 505.9,69.3 507.8,68.1 509.8,67.1 511.8,66.1 513.8,65.2 515.8,64.3 517.7,63.5 519.7,62.8 521.7,62.2 523.7,61.5 525.7,61.0 527.6,60.4 529.6,59.9 531.6,59.5 533.6,59.0 535.6,58.6 537.5,58.2 539.5,57.7 541.5,57.3" stroke="#800000"/>
<polyline points="343.5,75.1 345.5,75.4 347.5,75.7 349.4,76.0 351.4,76.3 353.4,76.7 355.4,77.1 357.4,77.5 359.3,78.0 361.3,78.6 363.3,79.2 365.3,79.8 367.3,80.5 369.2,81.3 371.2,82.1 373.2,82.9 375.2,83.7 377.2,84.6 379.1,85.5 381.1,86.5 383.1,87.5 385.1,88.6 387.1,89.6 389.0,90.8 391.0,91.9 393.0,93.1 395.0,94.3 397.0,95.6 398.9,96.9 400.9,98.2 402.9,99.6 404.9,101.0 406.9,102.4 408.8,103.9 410.8,105.3 412.8,106.9 414.8,108.4 416.8,110.0 418.7,111.5 420.7,113.2 422.7,114.8 424.7,116.4 426.7,117.9 428.6,119.4 430.6,120.9 432.6,122.2 434.6,123.4 436.6,124.5 438.5,125.4 440.5,126.1 442.5,126.5 444.5,126.6 446.5,126.4 448.4,126.0 450.4,125.1 452.4,124.0 454.4,122.5 456.4,120.7 458.3,118.6 460.3,116.2 462.3,113.6 464.3,110.9 466.3,108.1 468.2,105.3 470.2,102.5 472.2,99.8 474.2,97.2 476.2,94.7 478.1,92.3 480.1,90.1 482.1,88.0 484.1,86.1 486.1,84.2 488.0,82.5 490.0,80.9 492.0,79.3 494.0,77.8 496.0,76.4 497.9,75.0 499.9,73.6 501.9,72.2 503.9,71.0 505.9,69.7 507.8,68.6 509.8,67.5 511.8,66.5 513.8,65.6 515.8,64.7 517.7,64.0 519.7,63.2 521.7,62.6 523.7,62.0 525.7,61.4 527.6,60.9 529.6,60.4 531.6,59.9 533.6,59.5 535.6,59.0 537.5,58.6 539.5,58.2 541.5,57.8" stroke="#008000"/>
<polyline points="343.5,77.4 345.5,77.7 347.5,78.0 349.4,78.3 351.4,78.6 353.4,78.9 355.4,79.3 357.4,79.8 359.3,80.3 361.3,80.8 363.3,81.4 365.3,82.0 367.3,82.7 369.2,83.4 371.2,84.2 373.2,85.0 375.2,85.8 377.2,86.7 379.1,87.6 381.1,88.5 383.1,89.5 385.1,90.5 387.1,91.6 389.0,92.7 391.0,93.8 393.0,95.0 395.0,96.2 397.0,97.4 398.9,98.7 400.9,100.0 402.9,101.3 404.9,102.7 406.9,104.0 408.8,105.5 410.8,106.9 412.8,108.4 414.8,109.9 416.8,111.4 418.7,113.0 420.7,114.5 422.7,116.1 424.7,117.7 426.7,119.2 428.6,120.7 430.6,122.0 432.6,123.3 434.6,124.5 436.6,125.6 438.5,126.4 440.5,127.0 442.5,127.4 444.5,127.5 446.5,127.3 448.4,126.8 450.4,126.0 452.4,124.8 454.4,123.4 456.4,121.6 458.3,119.5 460.3,117.1 462.3,114.6 464.3,111.9 466.3,109.1 468.2,106.3 470.2,103.5 472.2,100.8 474.2,98.1 476.2,95.6 478.1,93.2 480.1,91.0 482.1,88.9 484.1,86.9 486.1,85.0 488.0,83.2 490.0,81.5 492.0,79.9 494.0,78.4 496.0,76.9 497.9,75.5 499.9,74.1 501.9,72.7 503.9,71.4 505.9,70.2 507.8,69.0 509.8,67.9 511.8,66.9 513.8,66.0 515.8,65.2 517.7,64.4 519.7,63.7 521.7,63.0 523.7,62.4 525.7,61.8 527.6,61.3 529.6,60.8 531.6,60.3 533.6,59.9 535.6,59.5 537.5,59.1 539.5,58.7 541.5,58.3" stroke="#008080"/>
<polyline points="343.5,80.2 345.5,80.5 347.5,80.7 349.4,81.0 351.4,81.3 353.4,81.7 355.4,82.1 357.4,82.5 359.3,82.9 361.3,83.5 363.3,84.0 365.3,84.7 367.3,85.3 369.2,86.0 371.2,86.7 373.2,87.5 375.2,88.3 377.2,89.2 379.1,90.0 381.1,91.0 383.1,91.9 385.1,92.9 387.1,93.9 389.0,94.9 391.0,96.0 393.0,97.2 395.0,98.3 397.0,99.5 398.9,100.7 400.9,102.0 402.9,103.3 404.9,104.6 406.9,105.9 408.8,107.3 410.8,108.7 412.8,110.1 414.8,111.5 416.8,113.0 418.7,114.5 420.7,116.0 422.7,117.5 424.7,119.0 426.7,120.5 428.6,121.9 430.6,123.3 432.6,124.5 434.6,125.6 436.6,126.6 438.5,127.4 440.5,128.0 442.5,128.4 444.5,128.4 446.5,128.2 448.4,127.7 450.4,126.8 452.4,125.7 454.4,124.2 456.4,122.5 458.3,120.4 460.3,118.1 462.3,115.5 464.3,112.8 466.3,110.1 468.2,107.3 470.2,104.5 472.2,101.7 474.2,99.1 476.2,96.5 478.1,94.1 480.1,91.8 482.1,89.7 484.1,87.6 486.1,85.7 488.0,83.9 490.0,82.2 492.0,80.6 494.0,79.0 496.0,77.5 497.9,76.0 499.9,74.6 501.9,73.2 503.9,71.9 505.9,70.6 507.8,69.5 509.8,68.4 511.8,67.4 513.8,66.4 515.8,65.6 517.7,64.8 519.7,64.1 521.7,63.4 523.7,62.8 525.7,62.2 527.6,61.7 529.6,61.2 531.6,60.8 533.6,60.4 535.6,59.9 537.5,59.5 539.5,59.2 541.5,58.8" stroke="#0000A0"/>
<polyline points="343.5,83.3 345.5,83.6 347.5,83.8 349.4,84.1 351.4,84.4 353.4,84.7 355.4,85.1 357.4,85.5 359.3,85.9 361.3,86.4 363.3,87.0 365.3,87.6 367.3,88.2 369.2,88.9 371.2,89.6 373.2,90.3 375.2,91.1 377.2,91.9 379.1,92.7 381.1,93.6 383.1,94.5 385.1,95.4 387.1,96.4 389.0,97.4 391.0,98.5 393.0,99.5 395.0,100.7 397.0,101.8 398.9,103.0 400.9,104.2 402.9,105.4 404.9,106.7 406.9,107.9 408.8,109.2 410.8,110.6 412.8,111.9 414.8,113.3 416.8,114.7 418.7,116.2 420.7,117.6 422.7,119.1 424.7,120.5 426.7,121.9 428.6,123.2 430.6,124.5 432.6,125.7 434.6,126.8 436.6,127.7 438.5,128.4 440.5,129.0 442.5,129.3 444.5,129.3 446.5,129.1 448.4,128.5 450.4,127.7 452.4,126.5 454.4,125.1 456.4,123.3 458.3,121.3 460.3,119.0 462.3,116.5 464.3,113.8 466.3,111.0 468.2,108.2 470.2,105.5 472.2,102.7 474.2,100.0 476.2,97.5 478.1,95.0 480.1,92.7 482.1,90.5 484.1,88.4 486.1,86.5 488.0,84.6 490.0,82.8 492.0,81.2 494.0,79.6 496.0,78.0 497.9,76.5 499.9,75.1 501.9,73.7 503.9,72.4 505.9,71.1 507.8,69.9 509.8,68.8 511.8,67.8 513.8,66.9 515.8,66.0 517.7,65.2 519.7,64.5 521.7,63.8 523.7,63.2 525.7,62.7 527.6,62.2 529.6,61.7 531.6,61.2 533.6,60.8 535.6,60.4 537.5,60.0 539.5,59.6 541.5,59.3" stroke="#FF8000"/>
<polyline points="343.5,86.7 345.5,86.9 347.5,87.1 349.4,87.4 351.4,87.6 353.4,87.9 355.4,88.2 357.4,88.6 359.3,89.0 361.3,89.4 363.3,89.9 365.3,90.5 367.3,91.0 369.2,91.6 371.2,92.3 373.2,93.0 375.2,93.7 377.2,94.4 379.1,95.2 381.1,96.0 383.1,96.9 385.1,97.8 387.1,98.7 389.0,99.6 391.0,100.6 393.0,101.6 395.0,102.7 397.0,103.8 398.9,104.9 400.9,106.0 402.9,107.2 404.9,108.4 406.9,109.6 408.8,110.9 410.8,112.2 412.8,113.5 414.8,114.8 416.8,116.2 418.7,117.5 420.7,119.0 422.7,120.4 424.7,121.7 426.7,123.1 428.6,124.4 430.6,125.6 432.6,126.8 434.6,127.8 436.6,128.7 438.5,129.4 440.5,129.9 442.5,130.2 444.5,130.2 446.5,130.0 448.4,129.4 450.4,128.5 452.4,127.4 454.4,126.0 456.4,124.2 458.3,122.2 460.3,119.9 462.3,117.4 464.3,114.8 466.3,112.0 468.2,109.2 470.2,106.4 472.2,103.7 474.2,101.0 476.2,98.4 478.1,95.9 480.1,93.5 482.1,91.3 484.1,89.2 486.1,87.2 488.0,85.3 490.0,83.5 492.0,81.8 494.0,80.2 496.0,78.6 497.9,77.1 499.9,75.6 501.9,74.2 503.9,72.8 505.9,71.6 507.8,70.4 509.8,69.2 511.8,68.2 513.8,67.3 515.8,66.4 517.7,65.6 519.7,64.9 521.7,64.3 523.7,63.7 525.7,63.1 527.6,62.6 529.6,62.1 531.6,61.7 533.6,61.3 535.6,60.9 537.5,60.5 539.5,60.1 541.5,59.7" stroke="#8000FF"/>
<polyline points="343.5,92.3 345.5,92.4 347.5,92.5 349.4,92.7 351.4,92.9 353.4,93.1 355.4,93.3 357.4,93.5 359.3,93.8 361.3,94.2 363.3,94.5 365.3,94.9 367.3,95.4 369.2,95.9 371.2,96.4 373.2,97.0 375.2,97.5 377.2,98.2 379.1,98.8 381.1,99.5 383.1,100.2 385.1,101.0 387.1,101.8 389.0,102.6 391.0,103.4 393.0,104.3 395.0,105.3 397.0,106.2 398.9,107.2 400.9,108.3 402.9,109.3 404.9,110.4 406.9,111.6 408.8,112.7 410.8,113.9 412.8,115.2 414.8,116.4 416.8,117.7 418.7,119.0 420.7,120.3 422.7,121.7 424.7,123.0 426.7,124.3 428.6,125.6 430.6,126.8 432.6,127.9 434.6,128.9 436.6,129.7 438.5,130.4 440.5,130.9 442.5,131.2 444.5,131.1 446.5,130.8 448.4,130.3 450.4,129.4 452.4,128.3 454.4,126.8 456.4,125.1 458.3,123.1 460.3,120.8 462.3,118.4 464.3,115.7 466.3,113.0 468.2,110.2 470.2,107.4 472.2,104.6 474.2,101.9 476.2,99.3 478.1,96.8 480.1,94.4 482.1,92.1 484.1,90.0 486.1,87.9 488.0,86.0 490.0,84.2 492.0,82.4 494.0,80.7 496.0,79.1 497.9,77.6 499.9,76.1 501.9,74.7 503.9,73.3 505.9,72.0 507.8,70.8 509.8,69.7 511.8,68.7 513.8,67.7 515.8,66.8 517.7,66.1 519.7,65.3 521.7,64.7 523.7,64.1 525.7,63.5 527.6,63.0 529.6,62.6 531.6,62.1 533.6,61.7 535.6,61.3 537.5,60.9 539.5,60.6 541.5,60.2" stroke="#FF0080"/>
<polyline points="343.5,98.0 345.5,98.1 347.5,98.1 349.4,98.2 351.4,98.3 353.4,98.4 355.4,98.6 357.4,98.8 359.3,99.0 361.3,99.2 363.3,99.5 365.3,99.8 367.3,100.1 369.2,100.5 371.2,100.9 373.2,101.4 375.2,101.8 377.2,102.3 379.1,102.9 381.1,103.4 383.1,104.0 385.1,104.7 387.1,105.3 389.0,106.0 391.0,106.8 393.0,107.5 395.0,108.3 397.0,109.2 398.9,110.1 400.9,111.0 402.9,111.9 404.9,112.9 406.9,113.9 408.8,115.0 410.8,116.1 412.8,117.2 414.8,118.3 416.8,119.5 418.7,120.7 420.7,122.0 422.7,123.2 424.7,124.5 426.7,125.7 428.6,126.9 430.6,128.0 432.6,129.1 434.6,130.0 436.6,130.8 438.5,131.4 440.5,131.9 442.5,132.1 444.5,132.0 446.5,131.7 448.4,131.1 450.4,130.3 452.4,129.1 454.4,127.7 456.4,126.0 458.3,124.0 460.3,121.8 462.3,119.3 464.3,116.7 466.3,114.0 468.2,111.2 470.2,108.4 472.2,105.6 474.2,102.9 476.2,100.2 478.1,97.7 480.1,95.3 482.1,92.9 484.1,90.7 486.1,88.7 488.0,86.7 490.0,84.8 492.0,83.0 494.0,81.3 496.0,79.7 497.9,78.1 499.9,76.6 501.9,75.1 503.9,73.8 505.9,72.5 507.8,71.2 509.8,70.1 511.8,69.1 513.8,68.1 515.8,67.3 517.7,66.5 519.7,65.8 521.7,65.1 523.7,64.5 525.7,64.0 527.6,63.5 529.6,63.0 531.6,62.6 533.6,62.2 535.6,61.8 537.5,61.4 539.5,61.1 541.5,60.7" stroke="#FFFFFF"/>
<polyline points="343.5,104.7 345.5,104.7 347.5,104.8 349.4,104.8 351.4,104.9 353.4,104.9 355.4,105.0 357.4,105.1 359.3,105.3 361.3,105.4 363.3,105.6 365.3,105.8 367.3,106.1 369.2,106.4 371.2,106.7 373.2,107.0 375.2,107.3 377.2,107.7 379.1,108.1 381.1,108.5 383.1,109.0 385.1,109.5 387.1,110.0 389.0,110.6 391.0,111.2 393.0,111.8 395.0,112.5 397.0,113.2 398.9,113.9 400.9,114.7 402.9,115.5 404.9,116.3 406.9,117.2 408.8,118.1 410.8,119.0 412.8,120.0 414.8,121.0 416.8,122.0 418.7,123.0 420.7,124.1 422.7,125.2 424.7,126.3 426.7,127.4 428.6,128.5 430.6,129.5 432.6,130.4 434.6,131.2 436.6,131.9 438.5,132.5 440.5,132.9 442.5,133.0 444.5,132.9 446.5,132.6 448.4,132.0 450.4,131.1 452.4,130.0 454.4,128.6 456.4,126.9 458.3,124.9 460.3,122.7 462.3,120.3 464.3,117.7 466.3,115.0 468.2,112.2 470.2,109.4 472.2,106.6 474.2,103.8 476.2,101.2 478.1,98.6 480.1,96.1 482.1,93.8 484.1,91.5 486.1,89.4 488.0,87.4 490.0,85.5 492.0,83.7 494.0,81.9 496.0,80.2 497.9,78.6 499.9,77.1 501.9,75.6 503.9,74.2 505.9,72.9 507.8,71.7 509.8,70.6 511.8,69.5 513.8,68.6 515.8,67.7 517.7,66.9 519.7,66.2 521.7,65.5 523.7,64.9 525.7,64.4 527.6,63.9 529.6,63.4 531.6,63.0 533.6,62.6 535.6,62.2 537.5,61.9 539.5,61.5 541.5,61.2" stroke="#C0C0C0"/>
<polyline points="343.5,112.4 345.5,112.4 347.5,112.4 349.4,112.4 351.4,112.5 353.4,112.5 355.4,112.5 357.4,112.6 359.3,112.7 361.3,112.8 363.3,112.9 365.3,113.0 367.3,113.2 369.2,113.4 371.2,113.6 373.2,113.8 375.2,114.0 377.2,114.3 379.1,114.5 381.1,114.9 383.1,115.2 385.1,115.5 387.1,115.9 389.0,116.3 391.0,116.8 393.0,117.2 395.0,117.7 397.0,118.2 398.9,118.8 400.9,119.4 402.9,120.0 404.9,120.6 406.9,121.3 408.8,122.0 410.8,122.8 412.8,123.5 414.8,124.3 416.8,125.1 418.7,126.0 420.7,126.9 422.7,127.8 424.7,128.7 426.7,129.6 428.6,130.4 430.6,131.2 432.6,132.0 434.6,132.6 436.6,133.2 438.5,133.6 440.5,133.9 442.5,134.0 444.5,133.8 446.5,133.5 448.4,132.8 450.4,132.0 452.4,130.8 454.4,129.4 456.4,127.8 458.3,125.8 460.3,123.6 462.3,121.2 464.3,118.6 466.3,115.9 468.2,113.2 470.2,110.3 472.2,107.5 474.2,104.8 476.2,102.1 478.1,99.5 480.1,97.0 482.1,94.6 484.1,92.3 486.1,90.1 488.0,88.1 490.0,86.1 492.0,84.3 494.0,82.5 496.0,80.8 497.9,79.2 499.9,77.6 501.9,76.1 503.9,74.7 505.9,73.4 507.8,72.1 509.8,71.0 511.8,69.9 513.8,69.0 515.8,68.1 517.7,67.3 519.7,66.6 521.7,65.9 523.7,65.4 525.7,64.8 527.6,64.3 529.6,63.9 531.6,63.4 533.6,63.1 535.6,62.7 537.5,62.3 539.5,62.0 541.5,61.7" stroke="#808080"/>
<polyline points="343.5,120.0 345.5,120.0 347.5,120.0 349.4,120.0 351.4,120.0 353.4,120.0 355.4,120.0 357.4,120.0 359.3,120.1 361.3,120.1 363.3,120.2 365.3,120.3 367.3,120.3 369.2,120.4 371.2,120.6 373.2,120.7 375.2,120.8 377.2,121.0 379.1,121.2 381.1,121.4 383.1,121.6 385.1,121.8 387.1,122.0 389.0,122.3 391.0,122.6 393.0,122.9 395.0,123.2 397.0,123.6 398.9,124.0 400.9,124.4 402.9,124.8 404.9,125.3 406.9,125.8 408.8,126.3 410.8,126.8 412.8,127.4 414.8,128.0 416.8,128.6 418.7,129.2 420.7,129.8 422.7,130.5 424.7,131.2 426.7,131.8 428.6,132.5 430.6,133.1 432.6,133.6 434.6,134.1 436.6,134.5 438.5,134.8 440.5,134.9 442.5,134.9 444.5,134.7 446.5,134.3 448.4,133.7 450.4,132.8 452.4,131.7 454.4,130.3 456.4,128.7 458.3,126.7 460.3,124.6 462.3,122.2 464.3,119.6 466.3,116.9 468.2,114.1 470.2,111.3 472.2,108.5 474.2,105.7 476.2,103.0 478.1,100.4 480.1,97.8 482.1,95.4 484.1,93.1 486.1,90.9 488.0,88.8 490.0,86.8 492.0,84.9 494.0,83.1 496.0,81.4 497.9,79.7 499.9,78.1 501.9,76.6 503.9,75.2 505.9,73.8 507.8,72.6 509.8,71.4 511.8,70.4 513.8,69.4 515.8,68.5 517.7,67.7 519.7,67.0 521.7,66.4 523.7,65.8 525.7,65.2 527.6,64.7 529.6,64.3 531.6,63.9 533.6,63.5 535.6,63.1 537.5,62.8 539.5,62.5 541.5,62.2" stroke="#FFFF80"/>
<polyline points="343.5,126.9 345.5,126.9 347.5,126.9 349.4,126.9 351.4,126.8 353.4,126.8 355.4,126.8 357.4,126.8 359.3,126.8 361.3,126.9 363.3,126.9 365.3,126.9 367.3,126.9 369.2,127.0 371.2,127.0 373.2,127.1 375.2,127.2 377.2,127.2 379.1,127.3 381.1,127.4 383.1,127.6 385.1,127.7 387.1,127.8 389.0,128.0 391.0,128.1 393.0,128.3 395.0,128.5 397.0,128.7 398.9,129.0 400.9,129.2 402.9,129.5 404.9,129.8 406.9,130.1 408.8,130.4 410.8,130.8 412.8,131.1 414.8,131.5 416.8,131.9 418.7,132.3 420.7,132.8 422.7,133.2 424.7,133.7 426.7,134.1 428.6,134.5 430.6,134.9 432.6,135.3 434.6,135.6 436.6,135.8 438.5,136.0 440.5,136.0 442.5,135.9 444.5,135.6 446.5,135.2 448.4,134.6 450.4,133.7 452.4,132.6 454.4,131.2 456.4,129.6 458.3,127.6 460.3,125.5 462.3,123.1 464.3,120.6 466.3,117.9 468.2,115.1 470.2,112.3 472.2,109.5 474.2,106.7 476.2,103.9 478.1,101.3 480.1,98.7 482.1,96.2 484.1,93.9 486.1,91.6 488.0,89.5 490.0,87.4 492.0,85.5 494.0,83.7 496.0,81.9 497.9,80.2 499.9,78.6 501.9,77.1 503.9,75.6 505.9,74.3 507.8,73.0 509.8,71.9 511.8,70.8 513.8,69.8 515.8,69.0 517.7,68.2 519.7,67.4 521.7,66.8 523.7,66.2 525.7,65.7 527.6,65.2 529.6,64.7 531.6,64.3 533.6,64.0 535.6,63.6 537.5,63.3 539.5,63.0 541.5,62.6" stroke="#80FFFF"/>
<polyline points="343.5,134.8 345.5,134.8 347.5,134.8 349.4,134.7 351.4,134.7 353.4,134.7 355.4,134.7 357.4,134.7 359.3,134.6 361.3,134.6 363.3,134.6 365.3,134.6 367.3,134.6 369.2,134.6 371.2,134.6 373.2,134.6 375.2,134.6 377.2,134.6 379.1,134.6 381.1,134.6 383.1,134.6 385.1,134.7 387.1,134.7 389.0,134.7 391.0,134.7 393.0,134.8 395.0,134.8 397.0,134.9 398.9,135.0 400.9,135.0 402.9,135.1 404.9,135.2 406.9,135.3 408.8,135.5 410.8,135.6 412.8,135.7 414.8,135.9 416.8,136.0 418.7,136.2 420.7,136.3 422.7,136.5 424.7,136.7 426.7,136.8 428.6,137.0 430.6,137.1 432.6,137.2 434.6,137.2 436.6,137.2 438.5,137.2 440.5,137.1 442.5,136.9 444.5,136.6 446.5,136.1 448.4,135.4 450.4,134.5 452.4,133.4 454.4,132.1 456.4,130.4 458.3,128.6 460.3,126.4 462.3,124.1 464.3,121.5 466.3,118.9 468.2,116.1 470.2,113.3 472.2,110.4 474.2,107.6 476.2,104.8 478.1,102.2 480.1,99.5 482.1,97.0 484.1,94.6 486.1,92.3 488.0,90.2 490.0,88.1 492.0,86.1 494.0,84.3 496.0,82.5 497.9,80.8 499.9,79.1 501.9,77.6 503.9,76.1 505.9,74.7 507.8,73.5 509.8,72.3 511.8,71.2 513.8,70.3 515.8,69.4 517.7,68.6 519.7,67.9 521.7,67.2 523.7,66.6 525.7,66.1 527.6,65.6 529.6,65.2 531.6,64.8 533.6,64.4 535.6,64.1 537.5,63.7 539.5,63.4 541.5,63.1" stroke="#FF80FF"/>
<polyline points="343.5,140.8 345.5,140.8 347.5,140.7 349.4,140.7 351.4,140.7 353.4,140.7 355.4,140.6 357.4,140.6 359.3,140.6 361.3,140.5 363.3,140.5 365.3,140.5 367.3,140.5 369.2,140.4 371.2,140.4 373.2,140.4 375.2,140.3 377.2,140.3 379.1,140.3 381.1,140.2 383.1,140.2 385.1,140.1 387.1,140.1 389.0,140.0 391.0,140.0 393.0,140.0 395.0,139.9 397.0,139.9 398.9,139.8 400.9,139.8 402.9,139.7 404.9,139.7 406.9,139.7 408.8,139.6 410.8,139.6 412.8,139.5 414.8,139.5 416.8,139.5 418.7,139.4 420.7,139.4 422.7,139.3 424.7,139.3 426.7,139.2 428.6,139.1 430.6,139.0 432.6,138.9 434.6,138.7 436.6,138.6 438.5,138.4 440.5,138.1 442.5,137.8 444.5,137.4 446.5,137.0 448.4,136.3 450.4,135.4 452.4,134.3 454.4,132.9 456.4,131.3 458.3,129.5 460.3,127.3 462.3,125.0 464.3,122.5 466.3,119.8 468.2,117.1 470.2,114.2 472.2,111.4 474.2,108.6 476.2,105.8 478.1,103.0 480.1,100.4 482.1,97.9 484.1,95.4 486.1,93.1 488.0,90.9 490.0,88.8 492.0,86.8 494.0,84.8 496.0,83.0 497.9,81.3 499.9,79.6 501.9,78.1 503.9,76.6 505.9,75.2 507.8,73.9 509.8,72.7 511.8,71.7 513.8,70.7 515.8,69.8 517.7,69.0 519.7,68.3 521.7,67.6 523.7,67.0 525.7,66.5 527.6,66.0 529.6,65.6 531.6,65.2 533.6,64.9 535.6,64.5 537.5,64.2 539.5,63.9 541.5,63.6" stroke="#404040"/>
<polyline points="343.5,146.0 345.5,146.0 347.5,145.9 349.4,145.9 351.4,145.9 353.4,145.9 355.4,145.8 357.4,145.8 359.3,145.7 361.3,145.7 363.3,145.7 365.3,145.6 367.3,145.6 369.2,145.5 371.2,145.4 373.2,145.4 375.2,145.3 377.2,145.2 379.1,145.1 381.1,145.0 383.1,144.9 385.1,144.8 387.1,144.6 389.0,144.5 391.0,144.4 393.0,144.2 395.0,144.1 397.0,144.0 398.9,143.8 400.9,143.6 402.9,143.5 404.9,143.3 406.9,143.2 408.8,143.0 410.8,142.8 412.8,142.7 414.8,142.5 416.8,142.3 418.7,142.1 420.7,141.9 422.7,141.7 424.7,141.5 426.7,141.2 428.6,141.0 430.6,140.7 432.6,140.5 434.6,140.2 436.6,139.9 438.5,139.5 440.5,139.2 442.5,138.8 444.5,138.4 446.5,137.9 448.4,137.2 450.4,136.3 452.4,135.1 454.4,133.8 456.4,132.2 458.3,130.4 460.3,128.3 462.3,126.0 464.3,123.5 466.3,120.8 468.2,118.1 470.2,115.2 472.2,112.4 474.2,109.5 476.2,106.7 478.1,103.9 480.1,101.3 482.1,98.7 484.1,96.2 486.1,93.8 488.0,91.6 490.0,89.4 492.0,87.4 494.0,85.4 496.0,83.6 497.9,81.8 499.9,80.1 501.9,78.5 503.9,77.0 505.9,75.6 507.8,74.3 509.8,73.2 511.8,72.1 513.8,71.1 515.8,70.2 517.7,69.4 519.7,68.7 521.7,68.1 523.7,67.5 525.7,67.0 527.6,66.5 529.6,66.1 531.6,65.7 533.6,65.3 535.6,65.0 537.5,64.7 539.5,64.4 541.5,64.1" stroke="#000000"/>
<polyline points="343.5,149.2 345.5,149.2 347.5,149.1 349.4,149.1 351.4,149.1 353.4,149.0 355.4,149.0 357.4,149.0 359.3,148.9 361.3,148.9 363.3,148.8 365.3,148.8 367.3,148.7 369.2,148.6 371.2,148.5 373.2,148.4 375.2,148.3 377.2,148.2 379.1,148.0 381.1,147.9 383.1,147.7 385.1,147.5 387.1,147.4 389.0,147.2 391.0,147.0 393.0,146.8 395.0,146.6 397.0,146.4 398.9,146.1 400.9,145.9 402.9,145.7 404.9,145.5 406.9,145.2 408.8,145.0 410.8,144.8 412.8,144.5 414.8,144.3 416.8,144.0 418.7,143.8 420.7,143.5 422.7,143.2 424.7,143.0 426.7,142.7 428.6,142.4 430.6,142.1 432.6,141.7 434.6,141.4 436.6,141.0 438.5,140.7 440.5,140.3 442.5,139.8 444.5,139.3 446.5,138.8 448.4,138.0 450.4,137.1 452.4,136.0 454.4,134.7 456.4,133.1 458.3,131.3 460.3,129.2 462.3,126.9 464.3,124.4 466.3,121.8 468.2,119.0 470.2,116.2 472.2,113.3 474.2,110.5 476.2,107.6 478.1,104.8 480.1,102.1 482.1,99.5 484.1,97.0 486.1,94.6 488.0,92.3 490.0,90.1 492.0,88.0 494.0,86.0 496.0,84.1 497.9,82.3 499.9,80.6 501.9,79.0 503.9,77.5 505.9,76.1 507.8,74.8 509.8,73.6 511.8,72.5 513.8,71.5 515.8,70.6 517.7,69.8 519.7,69.1 521.7,68.5 523.7,67.9 525.7,67.4 527.6,66.9 529.6,66.5 531.6,66.1 533.6,65.8 535.6,65.4 537.5,65.1 539.5,64.8 541.5,64.6" stroke="#FF0000"/>
<polyline points="343.5,152.9 345.5,152.9 347.5,152.8 349.4,152.8 351.4,152.8 353.4,152.7 355.4,152.7 357.4,152.7 359.3,152.6 361.3,152.6 363.3,152.5 365.3,152.4 367.3,152.3 369.2,152.2 371.2,152.1 373.2,151.9 375.2,151.8 377.2,151.6 379.1,151.4 381.1,151.2 383.1,150.9 385.1,150.7 387.1,150.5 389.0,150.2 391.0,149.9 393.0,149.6 395.0,149.4 397.0,149.1 398.9,148.8 400.9,148.5 402.9,148.2 404.9,147.8 406.9,147.5 408.8,147.2 410.8,146.9 412.8,146.6 414.8,146.2 416.8,145.9 418.7,145.6 420.7,145.2 422.7,144.9 424.7,144.6 426.7,144.2 428.6,143.8 430.6,143.5 432.6,143.1 434.6,142.7 436.6,142.2 438.5,141.8 440.5,141.3 442.5,140.8 444.5,140.3 446.5,139.7 448.4,138.9 450.4,138.0 452.4,136.9 454.4,135.5 456.4,134.0 458.3,132.2 460.3,130.1 462.3,127.9 464.3,125.4 466.3,122.8 468.2,120.0 470.2,117.2 472.2,114.3 474.2,111.4 476.2,108.5 478.1,105.7 480.1,103.0 482.1,100.3 484.1,97.7 486.1,95.3 488.0,93.0 490.0,90.7 492.0,88.6 494.0,86.6 496.0,84.7 497.9,82.9 499.9,81.1 501.9,79.5 503.9,78.0 505.9,76.6 507.8,75.2 509.8,74.0 511.8,72.9 513.8,72.0 515.8,71.1 517.7,70.3 519.7,69.5 521.7,68.9 523.7,68.3 525.7,67.8 527.6,67.3 529.6,66.9 531.6,66.6 533.6,66.2 535.6,65.9 537.5,65.6 539.5,65.3 541.5,65.0" stroke="#00FF00"/>
<polyline points="343.5,155.0 345.5,155.0 347.5,154.9 349.4,154.9 351.4,154.9 353.4,154.8 355.4,154.8 357.4,154.7 359.3,154.7 361.3,154.7 363.3,154.6 365.3,154.5 367.3,154.4 369.2,154.3 371.2,154.1 373.2,153.9 375.2,153.7 377.2,153.5 379.1,153.3 381.1,153.1 383.1,152.9 385.1,152.6 387.1,152.3 389.0,152.0 391.0,151.7 393.0,151.4 395.0,151.1 397.0,150.8 398.9,150.5 400.9,150.1 402.9,149.8 404.9,149.4 406.9,149.1 408.8,148.7 410.8,148.4 412.8,148.0 414.8,147.7 416.8,147.3 418.7,146.9 420.7,146.6 422.7,146.2 424.7,145.8 426.7,145.4 428.6,145.0 430.6,144.6 432.6,144.2 434.6,143.8 436.6,143.3 438.5,142.8 440.5,142.3 442.5,141.8 444.5,141.2 446.5,140.6 448.4,139.8 450.4,138.8 452.4,137.7 454.4,136.4 456.4,134.9 458.3,133.1 460.3,131.1 462.3,128.8 464.3,126.4 466.3,123.7 468.2,121.0 470.2,118.2 472.2,115.3 474.2,112.4 476.2,109.5 478.1,106.6 480.1,103.8 482.1,101.1 484.1,98.5 486.1,96.0 488.0,93.6 490.0,91.4 492.0,89.2 494.0,87.2 496.0,85.2 497.9,83.4 499.9,81.6 501.9,80.0 503.9,78.4 505.9,77.0 507.8,75.7 509.8,74.5 511.8,73.4 513.8,72.4 515.8,71.5 517.7,70.7 519.7,70.0 521.7,69.3 523.7,68.7 525.7,68.2 527.6,67.8 529.6,67.4 531.6,67.0 533.6,66.7 535.6,66.4 537.5,66.1 539.5,65.8 541.5,65.5" stroke="#0000FF"/>
<polyline points="343.5,156.3 345.5,156.3 347.5,156.2 349.4,156.2 351.4,156.1 353.4,156.1 355.4,156.1 357.4,156.0 359.3,156.0 361.3,155.9 363.3,155.9 365.3,155.8 367.3,155.7 369.2,155.5 371.2,155.4 373.2,155.2 375.2,155.0 377.2,154.8 379.1,154.6 381.1,154.3 383.1,154.1 385.1,153.8 387.1,153.5 389.0,153.3 391.0,152.9 393.0,152.6 395.0,152.3 397.0,152.0 398.9,151.6 400.9,151.3 402.9,151.0 404.9,150.6 406.9,150.3 408.8,149.9 410.8,149.5 412.8,149.2 414.8,148.8 416.8,148.4 418.7,148.1 420.7,147.7 422.7,147.3 424.7,146.9 426.7,146.5 428.6,146.1 430.6,145.7 432.6,145.2 434.6,144.8 436.6,144.3 438.5,143.8 440.5,143.3 442.5,142.7 444.5,142.1 446.5,141.5 448.4,140.6 450.4,139.7 452.4,138.6 454.4,137.3 456.4,135.8 458.3,134.0 460.3,132.0 462.3,129.8 464.3,127.3 466.3,124.7 468.2,122.0 470.2,119.1 472.2,116.2 474.2,113.3 476.2,110.4 478.1,107.5 480.1,104.7 482.1,101.9 484.1,99.3 486.1,96.8 488.0,94.3 490.0,92.0 492.0,89.8 494.0,87.8 496.0,85.8 497.9,83.9 499.9,82.1 501.9,80.5 503.9,78.9 505.9,77.5 507.8,76.1 509.8,74.9 511.8,73.8 513.8,72.8 515.8,71.9 517.7,71.1 519.7,70.4 521.7,69.7 523.7,69.2 525.7,68.7 527.6,68.2 529.6,67.8 531.6,67.4 533.6,67.1 535.6,66.8 537.5,66.5 539.5,66.3 541.5,66.0" stroke="#00FFFF"/>
<polyline points="343.5,157.0 345.5,157.0 347.5,156.9 349.4,156.9 351.4,156.8 353.4,156.8 355.4,156.8 357.4,156.7 359.3,156.7 361.3,156.6 363.3,156.5 365.3,156.5 367.3,156.3 369.2,156.2 371.2,156.1 373.2,155.9 375.2,155.7 377.2,155.5 379.1,155.3 381.1,155.1 383.1,154.8 385.1,154.6 387.1,154.3 389.0,154.0 391.0,153.7 393.0,153.4 395.0,153.1 397.0,152.8 398.9,152.5 400.9,152.1 402.9,151.8 404.9,151.5 406.9,151.1 408.8,150.8 410.8,150.4 412.8,150.1 414.8,149.7 416.8,149.4 418.7,149.0 420.7,148.6 422.7,148.2 424.7,147.8 426.7,147.5 428.6,147.0 430.6,146.6 432.6,146.2 434.6,145.7 436.6,145.2 438.5,144.7 440.5,144.2 442.5,143.6 444.5,143.0 446.5,142.3 448.4,141.5 450.4,140.5 452.4,139.4 454.4,138.1 456.4,136.6 458.3,134.9 460.3,132.9 462.3,130.7 464.3,128.3 466.3,125.7 468.2,123.0 470.2,120.1 472.2,117.2 474.2,114.2 476.2,111.3 478.1,108.4 480.1,105.5 482.1,102.8 484.1,100.1 486.1,97.5 488.0,95.0 490.0,92.7 492.0,90.5 494.0,88.4 496.0,86.3 497.9,84.4 499.9,82.6 501.9,81.0 503.9,79.4 505.9,77.9 507.8,76.6 509.8,75.3 511.8,74.2 513.8,73.2 515.8,72.3 517.7,71.5 519.7,70.8 521.7,70.2 523.7,69.6 525.7,69.1 527.6,68.6 529.6,68.2 531.6,67.9 533.6,67.6 535.6,67.3 537.5,67.0 539.5,66.7 541.5,66.5" stroke="#FF00FF"/>
<polyline points="343.5,157.6 345.5,157.6 347.5,157.5 349.4,157.5 351.4,157.4 353.4,157.4 355.4,157.3 357.4,157.3 359.3,157.2 361.3,157.2 363.3,157.1 365.3,157.0 367.3,156.9 369.2,156.8 371.2,156.6 373.2,156.5 375.2,156.3 377.2,156.1 379.1,155.9 381.1,155.7 383.1,155.5 385.1,155.2 387.1,155.0 389.0,154.7 391.0,154.4 393.0,154.1 395.0,153.8 397.0,153.5 398.9,153.2 400.9,152.9 402.9,152.6 404.9,152.3 406.9,151.9 408.8,151.6 410.8,151.3 412.8,150.9 414.8,150.6 416.8,150.2 418.7,149.9 420.7,149.5 422.7,149.2 424.7,148.8 426.7,148.4 428.6,148.0 430.6,147.6 432.6,147.1 434.6,146.7 436.6,146.2 438.5,145.7 440.5,145.1 442.5,144.5 444.5,143.9 446.5,143.2 448.4,142.4 450.4,141.4 452.4,140.3 454.4,139.0 456.4,137.5 458.3,135.8 460.3,133.8 462.3,131.7 464.3,129.3 466.3,126.7 468.2,123.9 470.2,121.1 472.2,118.2 474.2,115.2 476.2,112.2 478.1,109.3 480.1,106.4 482.1,103.6 484.1,100.8 486.1,98.2 488.0,95.7 490.0,93.4 492.0,91.1 494.0,88.9 496.0,86.9 497.9,85.0 499.9,83.1 501.9,81.4 503.9,79.8 505.9,78.4 507.8,77.0 509.8,75.8 511.8,74.7 513.8,73.7 515.8,72.7 517.7,71.9 519.7,71.2 521.7,70.6 523.7,70.0 525.7,69.5 527.6,69.1 529.6,68.7 531.6,68.3 533.6,68.0 535.6,67.7 537.5,67.5 539.5,67.2 541.5,67.0" stroke="#FFFF00"/>
<polyline points="343.5,158.2 345.5,158.2 347.5,158.1 349.4,158.1 351.4,158.0 353.4,158.0 355.4,157.9 357.4,157.9 359.3,157.8 361.3,157.8 363.3,157.7 365.3,157.6 367.3,157.5 369.2,157.4 371.2,157.2 373.2,157.1 375.2,156.9 377.2,156.8 379.1,156.6 381.1,156.4 383.1,156.1 385.1,155.9 387.1,155.7 389.0,155.4 391.0,155.1 393.0,154.9 395.0,154.6 397.0,154.3 398.9,154.0 400.9,153.7 402.9,153.4 404.9,153.1 406.9,152.8 408.8,152.5 410.8,152.1 412.8,151.8 414.8,151.5 416.8,151.1 418.7,150.8 420.7,150.4 422.7,150.1 424.7,149.7 426.7,149.3 428.6,148.9 430.6,148.5 432.6,148.1 434.6,147.6 436.6,147.1 438.5,146.6 440.5,146.0 442.5,145.4 444.5,144.8 446.5,144.1 448.4,143.2 450.4,142.3 452.4,141.2 454.4,139.9 456.4,138.4 458.3,136.7 460.3,134.8 462.3,132.6 464.3,130.2 466.3,127.7 468.2,124.9 470.2,122.1 472.2,119.1 474.2,116.1 476.2,113.2 478.1,110.2 480.1,107.3 482.1,104.4 484.1,101.6 486.1,99.0 488.0,96.4 490.0,94.0 492.0,91.7 494.0,89.5 496.0,87.4 497.9,85.5 499.9,83.6 501.9,81.9 503.9,80.3 505.9,78.8 507.8,77.5 509.8,76.2 511.8,75.1 513.8,74.1 515.8,73.2 517.7,72.4 519.7,71.6 521.7,71.0 523.7,70.4 525.7,69.9 527.6,69.5 529.6,69.1 531.6,68.8 533.6,68.5 535.6,68.2 537.5,67.9 539.5,67.7 541.5,67.5" stroke="#808000"/>
<polyline points="343.5,158.7 345.5,158.7 347.5,158.6 349.4,158.6 351.4,158.5 353.4,158.5 355.4,158.4 357.4,158.4 359.3,158.3 361.3,158.2 363.3,158.2 365.3,158.1 367.3,158.0 369.2,157.9 371.2,157.7 373.2,157.6 375.2,157.5 377.2,157.3 379.1,157.1 381.1,156.9 383.1,156.7 385.1,156.5 387.1,156.3 389.0,156.0 391.0,155.8 393.0,155.5 395.0,155.3 397.0,155.0 398.9,154.7 400.9,154.5 402.9,154.2 404.9,153.9 406.9,153.6 408.8,153.3 410.8,153.0 412.8,152.7 414.8,152.4 416.8,152.0 418.7,151.7 420.7,151.4 422.7,151.0 424.7,150.7 426.7,150.3 428.6,149.9 430.6,149.5 432.6,149.0 434.6,148.5 436.6,148.0 438.5,147.5 440.5,146.9 442.5,146.3 444.5,145.7 446.5,144.9 448.4,144.1 450.4,143.1 452.4,142.0 454.4,140.8 456.4,139.3 458.3,137.6 460.3,135.7 462.3,133.6 464.3,131.2 466.3,128.6 468.2,125.9 470.2,123.0 472.2,120.1 474.2,117.1 476.2,114.1 478.1,111.1 480.1,108.1 482.1,105.2 484.1,102.4 486.1,99.7 488.0,97.1 490.0,94.7 492.0,92.3 494.0,90.1 496.0,88.0 497.9,86.0 499.9,84.2 501.9,82.4 503.9,80.8 505.9,79.3 507.8,77.9 509.8,76.6 511.8,75.5 513.8,74.5 515.8,73.6 517.7,72.8 519.7,72.1 521.7,71.4 523.7,70.9 525.7,70.4 527.6,69.9 529.6,69.6 531.6,69.2 533.6,68.9 535.6,68.6 537.5,68.4 539.5,68.2 541.5,67.9" stroke="#000080"/>
<polyline points="343.5,159.1 345.5,159.1 347.5,159.0 349.4,159.0 351.4,158.9 353.4,158.9 355.4,158.8 357.4,158.7 359.3,158.7 361.3,158.6 363.3,158.6 365.3,158.5 367.3,158.4 369.2,158.3 371.2,158.2 373.2,158.0 375.2,157.9 377.2,157.7 379.1,157.6 381.1,157.4 383.1,157.2 385.1,157.0 387.1,156.8 389.0,156.6 391.0,156.4 393.0,156.2 395.0,155.9 397.0,155.7 398.9,155.4 400.9,155.2 402.9,154.9 404.9,154.6 406.9,154.4 408.8,154.1 410.8,153.8 412.8,153.5 414.8,153.2 416.8,152.9 418.7,152.6 420.7,152.3 422.7,151.9 424.7,151.6 426.7,151.2 428.6,150.8 430.6,150.4 432.6,149.9 434.6,149.5 436.6,149.0 438.5,148.4 440.5,147.8 442.5,147.2 444.5,146.5 446.5,145.8 448.4,144.9 450.4,144.0 452.4,142.9 454.4,141.6 456.4,140.2 458.3,138.5 460.3,136.6 462.3,134.5 464.3,132.2 466.3,129.6 468.2,126.9 470.2,124.0 472.2,121.1 474.2,118.0 476.2,115.0 478.1,112.0 480.1,109.0 482.1,106.0 484.1,103.2 486.1,100.4 488.0,97.8 490.0,95.3 492.0,92.9 494.0,90.7 496.0,88.6 497.9,86.5 499.9,84.7 501.9,82.9 503.9,81.2 505.9,79.7 507.8,78.3 509.8,77.1 511.8,75.9 513.8,74.9 515.8,74.0 517.7,73.2 519.7,72.5 521.7,71.8 523.7,71.3 525.7,70.8 527.6,70.4 529.6,70.0 531.6,69.7 533.6,69.4 535.6,69.1 537.5,68.9 539.5,68.6 541.5,68.4" stroke="#800080"/>
<polyline points="343.5,159.5 345.5,159.5 347.5,159.4 349.4,159.4 351.4,159.3 353.4,159.2 355.4,159.2 357.4,159.1 359.3,159.1 361.3,159.0 363.3,158.9 365.3,158.9 367.3,158.8 369.2,158.7 371.2,158.6 373.2,158.4 375.2,158.3 377.2,158.2 379.1,158.0 381.1,157.9 383.1,157.7 385.1,157.5 387.1,157.4 389.0,157.2 391.0,157.0 393.0,156.7 395.0,156.5 397.0,156.3 398.9,156.1 400.9,155.8 402.9,155.6 404.9,155.4 406.9,155.1 408.8,154.9 410.8,154.6 412.8,154.3 414.8,154.1 416.8,153.8 418.7,153.5 420.7,153.2 422.7,152.8 424.7,152.5 426.7,152.1 428.6,151.7 430.6,151.3 432.6,150.9 434.6,150.4 436.6,149.9 438.5,149.3 440.5,148.7 442.5,148.1 444.5,147.4 446.5,146.6 448.4,145.8 450.4,144.8 452.4,143.7 454.4,142.5 456.4,141.1 458.3,139.4 460.3,137.6 462.3,135.4 464.3,133.1 466.3,130.6 468.2,127.9 470.2,125.0 472.2,122.0 474.2,119.0 476.2,115.9 478.1,112.9 480.1,109.8 482.1,106.8 484.1,104.0 486.1,101.2 488.0,98.5 490.0,96.0 492.0,93.6 494.0,91.3 496.0,89.1 497.9,87.1 499.9,85.2 501.9,83.4 503.9,81.7 505.9,80.2 507.8,78.8 509.8,77.5 511.8,76.4 513.8,75.3 515.8,74.4 517.7,73.6 519.7,72.9 521.7,72.3 523.7,71.7 525.7,71.2 527.6,70.8 529.6,70.4 531.6,70.1 533.6,69.8 535.6,69.6 537.5,69.3 539.5,69.1 541.5,68.9" stroke="#800000"/>
<polyline points="343.5,159.9 345.5,159.8 347.5,159.8 349.4,159.7 351.4,159.7 353.4,159.6 355.4,159.6 357.4,159.5 359.3,159.5 361.3,159.4 363.3,159.3 365.3,159.2 367.3,159.2 369.2,159.1 371.2,159.0 373.2,158.9 375.2,158.7 377.2,158.6 379.1,158.5 381.1,158.3 383.1,158.2 385.1,158.0 387.1,157.9 389.0,157.7 391.0,157.5 393.0,157.3 395.0,157.1 397.0,156.9 398.9,156.7 400.9,156.5 402.9,156.2 404.9,156.0 406.9,155.8 408.8,155.6 410.8,155.3 412.8,155.1 414.8,154.8 416.8,154.6 418.7,154.3 420.7,154.0 422.7,153.7 424.7,153.3 426.7,153.0 428.6,152.6 430.6,152.2 432.6,151.8 434.6,151.3 436.6,150.8 438.5,150.2 440.5,149.6 442.5,149.0 444.5,148.3 446.5,147.5 448.4,146.6 450.4,145.7 452.4,144.6 454.4,143.4 456.4,142.0 458.3,140.3 460.3,138.5 462.3,136.4 464.3,134.1 466.3,131.6 468.2,128.8 470.2,126.0 472.2,123.0 474.2,119.9 476.2,116.8 478.1,113.8 480.1,110.7 482.1,107.7 484.1,104.7 486.1,101.9 488.0,99.2 490.0,96.6 492.0,94.2 494.0,91.9 496.0,89.7 497.9,87.6 499.9,85.7 501.9,83.9 503.9,82.2 505.9,80.6 507.8,79.2 509.8,78.0 511.8,76.8 513.8,75.8 515.8,74.9 517.7,74.0 519.7,73.3 521.7,72.7 523.7,72.1 525.7,71.7 527.6,71.2 529.6,70.9 531.6,70.5 533.6,70.3 535.6,70.0 537.5,69.8 539.5,69.6 541.5,69.4" stroke="#008000"/>
<polyline points="343.5,160.2 345.5,160.1 347.5,160.1 349.4,160.0 351.4,160.0 353.4,159.9 355.4,159.9 357.4,159.8 359.3,159.7 361.3,159.7 363.3,159.6 365.3,159.5 367.3,159.4 369.2,159.3 371.2,159.3 373.2,159.1 375.2,159.0 377.2,158.9 379.1,158.8 381.1,158.7 383.1,158.5 385.1,158.4 387.1,158.2 389.0,158.1 391.0,157.9 393.0,157.7 395.0,157.5 397.0,157.3 398.9,157.1 400.9,157.0 402.9,156.8 404.9,156.5 406.9,156.3 408.8,156.1 410.8,155.9 412.8,155.7 414.8,155.5 416.8,155.2 418.7,155.0 420.7,154.7 422.7,154.4 424.7,154.1 426.7,153.8 428.6,153.4 430.6,153.1 432.6,152.6 434.6,152.2 436.6,151.7 438.5,151.1 440.5,150.6 442.5,149.9 444.5,149.2 446.5,148.4 448.4,147.5 450.4,146.5 452.4,145.4 454.4,144.2 456.4,142.8 458.3,141.2 460.3,139.4 462.3,137.3 464.3,135.1 466.3,132.5 468.2,129.8 470.2,127.0 472.2,124.0 474.2,120.9 476.2,117.8 478.1,114.6 480.1,111.5 482.1,108.5 484.1,105.5 486.1,102.7 488.0,99.9 490.0,97.3 492.0,94.8 494.0,92.4 496.0,90.2 497.9,88.1 499.9,86.2 501.9,84.3 503.9,82.7 505.9,81.1 507.8,79.7 509.8,78.4 511.8,77.2 513.8,76.2 515.8,75.3 517.7,74.5 519.7,73.7 521.7,73.1 523.7,72.6 525.7,72.1 527.6,71.7 529.6,71.3 531.6,71.0 533.6,70.7 535.6,70.5 537.5,70.3 539.5,70.1 541.5,69.9" stroke="#008080"/>
</g>
<rect x="343.5" y="11.5" width="198.0" height="153.0" fill="none" stroke="#000" stroke-width="1.2"/>
<path d="M343.50,164.5v-3.5 M368.25,164.5v-2.2 M393.00,164.5v-3.5 M417.75,164.5v-2.2 M442.50,164.5v-3.5 M467.25,164.5v-2.2 M492.00,164.5v-3.5 M516.75,164.5v-2.2 M541.50,164.5v-3.5 M343.5,161.77h2.2 M343.5,148.11h3.5 M343.5,134.45h2.2 M343.5,120.79h3.5 M343.5,107.12h2.2 M343.5,93.46h3.5 M343.5,79.80h2.2 M343.5,66.14h3.5 M343.5,52.48h2.2 M343.5,38.82h3.5 M343.5,25.16h2.2 M343.5,11.50h3.5" stroke="#000" stroke-width="1.3" fill="none"/>
<text transform="translate(343.50,177.90) scale(1.03,1)" font-size="12" font-weight="bold" text-anchor="middle">-2</text>
<text transform="translate(393.00,177.90) scale(1.03,1)" font-size="12" font-weight="bold" text-anchor="middle">-1</text>
<text transform="translate(442.50,177.90) scale(1.03,1)" font-size="12" font-weight="bold" text-anchor="middle">0</text>
<text transform="translate(492.00,177.90) scale(1.03,1)" font-size="12" font-weight="bold" text-anchor="middle">1</text>
<text transform="translate(541.50,177.90) scale(1.03,1)" font-size="12" font-weight="bold" text-anchor="middle">2</text>
<text transform="translate(338.90,152.41) scale(1.08,1)" font-size="12" font-weight="bold" text-anchor="end">0.5</text>
<text transform="translate(338.90,125.09) scale(1.08,1)" font-size="12" font-weight="bold" text-anchor="end">1.0</text>
<text transform="translate(338.90,97.76) scale(1.08,1)" font-size="12" font-weight="bold" text-anchor="end">1.5</text>
<text transform="translate(338.90,70.44) scale(1.08,1)" font-size="12" font-weight="bold" text-anchor="end">2.0</text>
<text transform="translate(338.90,43.12) scale(1.08,1)" font-size="12" font-weight="bold" text-anchor="end">2.5</text>
<text transform="translate(338.90,15.80) scale(1.08,1)" font-size="12" font-weight="bold" text-anchor="end">3.0</text>
<g fill="none" stroke-width="1.9" stroke-linejoin="round" stroke-linecap="round">
<polyline points="67.5,305.8 69.5,306.3 71.5,306.9 73.4,307.4 75.4,308.0 77.4,308.5 79.4,309.0 81.4,309.6 83.3,310.1 85.3,310.7 87.3,311.2 89.3,311.8 91.3,312.3 93.2,312.8 95.2,313.4 97.2,313.9 99.2,314.4 101.2,315.0 103.1,315.5 105.1,316.1 107.1,316.6 109.1,317.1 111.1,317.7 113.0,318.2 115.0,318.7 117.0,319.2 119.0,319.8 121.0,320.3 122.9,320.8 124.9,321.3 126.9,321.7 128.9,322.2 130.9,322.6 132.8,323.1 134.8,323.5 136.8,323.9 138.8,324.3 140.8,324.6 142.7,325.0 144.7,325.3 146.7,325.6 148.7,325.8 150.7,326.1 152.6,326.3 154.6,326.4 156.6,326.5 158.6,326.6 160.6,326.7 162.5,326.7 164.5,326.6 166.5,326.5 168.5,326.4 170.5,326.2 172.4,325.9 174.4,325.6 176.4,325.2 178.4,324.7 180.4,324.2 182.3,323.5 184.3,322.8 186.3,322.1 188.3,321.2 190.3,320.3 192.2,319.3 194.2,318.2 196.2,317.1 198.2,316.0 200.2,314.8 202.1,313.5 204.1,312.3 206.1,311.0 208.1,309.7 210.1,308.3 212.0,307.0 214.0,305.7 216.0,304.4 218.0,303.1 220.0,301.8 221.9,300.6 223.9,299.4 225.9,298.2 227.9,297.1 229.9,296.0 231.8,295.0 233.8,294.0 235.8,293.0 237.8,292.1 239.8,291.3 241.7,290.5 243.7,289.7 245.7,288.9 247.7,288.2 249.7,287.5 251.6,286.9 253.6,286.3 255.6,285.7 257.6,285.1 259.6,284.6 261.5,284.0 263.5,283.5 265.5,282.9" stroke="#800000"/>
<polyline points="67.5,309.5 69.5,310.0 71.5,310.5 73.4,310.9 75.4,311.4 77.4,311.9 79.4,312.4 81.4,312.8 83.3,313.3 85.3,313.8 87.3,314.3 89.3,314.7 91.3,315.2 93.2,315.7 95.2,316.2 97.2,316.6 99.2,317.1 101.2,317.6 103.1,318.1 105.1,318.5 107.1,319.0 109.1,319.5 111.1,320.0 113.0,320.4 115.0,320.9 117.0,321.4 119.0,321.8 121.0,322.3 122.9,322.7 124.9,323.1 126.9,323.6 128.9,324.0 130.9,324.4 132.8,324.7 134.8,325.1 136.8,325.4 138.8,325.8 140.8,326.1 142.7,326.4 144.7,326.6 146.7,326.9 148.7,327.1 150.7,327.3 152.6,327.5 154.6,327.6 156.6,327.7 158.6,327.8 160.6,327.8 162.5,327.8 164.5,327.7 166.5,327.6 168.5,327.5 170.5,327.2 172.4,326.9 174.4,326.6 176.4,326.2 178.4,325.7 180.4,325.1 182.3,324.5 184.3,323.8 186.3,323.0 188.3,322.1 190.3,321.2 192.2,320.2 194.2,319.1 196.2,318.0 198.2,316.8 200.2,315.6 202.1,314.3 204.1,313.0 206.1,311.7 208.1,310.4 210.1,309.1 212.0,307.7 214.0,306.4 216.0,305.1 218.0,303.8 220.0,302.5 221.9,301.3 223.9,300.0 225.9,298.9 227.9,297.7 229.9,296.6 231.8,295.6 233.8,294.6 235.8,293.6 237.8,292.7 239.8,291.9 241.7,291.0 243.7,290.2 245.7,289.5 247.7,288.8 249.7,288.1 251.6,287.5 253.6,286.8 255.6,286.2 257.6,285.7 259.6,285.1 261.5,284.5 263.5,284.0 265.5,283.5" stroke="#008000"/>
<polyline points="67.5,314.7 69.5,315.1 71.5,315.4 73.4,315.8 75.4,316.2 77.4,316.6 79.4,316.9 81.4,317.3 83.3,317.7 85.3,318.1 87.3,318.4 89.3,318.8 91.3,319.2 93.2,319.6 95.2,319.9 97.2,320.3 99.2,320.7 101.2,321.0 103.1,321.4 105.1,321.8 107.1,322.2 109.1,322.5 111.1,322.9 113.0,323.3 115.0,323.6 117.0,324.0 119.0,324.4 121.0,324.7 122.9,325.1 124.9,325.4 126.9,325.7 128.9,326.0 130.9,326.4 132.8,326.6 134.8,326.9 136.8,327.2 138.8,327.5 140.8,327.7 142.7,327.9 144.7,328.1 146.7,328.3 148.7,328.5 150.7,328.6 152.6,328.7 154.6,328.8 156.6,328.9 158.6,328.9 160.6,328.9 162.5,328.9 164.5,328.8 166.5,328.7 168.5,328.5 170.5,328.3 172.4,328.0 174.4,327.6 176.4,327.2 178.4,326.7 180.4,326.1 182.3,325.5 184.3,324.7 186.3,323.9 188.3,323.0 190.3,322.1 192.2,321.1 194.2,320.0 196.2,318.8 198.2,317.6 200.2,316.4 202.1,315.1 204.1,313.8 206.1,312.5 208.1,311.2 210.1,309.8 212.0,308.5 214.0,307.1 216.0,305.8 218.0,304.5 220.0,303.2 221.9,301.9 223.9,300.7 225.9,299.5 227.9,298.4 229.9,297.3 231.8,296.2 233.8,295.2 235.8,294.3 237.8,293.3 239.8,292.5 241.7,291.6 243.7,290.8 245.7,290.1 247.7,289.3 249.7,288.7 251.6,288.0 253.6,287.4 255.6,286.8 257.6,286.2 259.6,285.6 261.5,285.1 263.5,284.5 265.5,284.0" stroke="#008080"/>
<polyline points="67.5,319.8 69.5,320.1 71.5,320.3 73.4,320.6 75.4,320.9 77.4,321.2 79.4,321.4 81.4,321.7 83.3,322.0 85.3,322.3 87.3,322.5 89.3,322.8 91.3,323.1 93.2,323.3 95.2,323.6 97.2,323.9 99.2,324.2 101.2,324.4 103.1,324.7 105.1,325.0 107.1,325.3 109.1,325.5 111.1,325.8 113.0,326.1 115.0,326.3 117.0,326.6 119.0,326.9 121.0,327.1 122.9,327.4 124.9,327.6 126.9,327.9 128.9,328.1 130.9,328.3 132.8,328.6 134.8,328.8 136.8,328.9 138.8,329.1 140.8,329.3 142.7,329.5 144.7,329.6 146.7,329.7 148.7,329.8 150.7,329.9 152.6,330.0 154.6,330.1 156.6,330.1 158.6,330.1 160.6,330.1 162.5,330.0 164.5,329.9 166.5,329.8 168.5,329.6 170.5,329.3 172.4,329.0 174.4,328.6 176.4,328.2 178.4,327.7 180.4,327.1 182.3,326.4 184.3,325.7 186.3,324.8 188.3,323.9 190.3,323.0 192.2,321.9 194.2,320.8 196.2,319.7 198.2,318.5 200.2,317.2 202.1,315.9 204.1,314.6 206.1,313.3 208.1,311.9 210.1,310.6 212.0,309.2 214.0,307.8 216.0,306.5 218.0,305.2 220.0,303.9 221.9,302.6 223.9,301.4 225.9,300.2 227.9,299.0 229.9,297.9 231.8,296.8 233.8,295.8 235.8,294.9 237.8,293.9 239.8,293.0 241.7,292.2 243.7,291.4 245.7,290.6 247.7,289.9 249.7,289.2 251.6,288.6 253.6,287.9 255.6,287.3 257.6,286.7 259.6,286.2 261.5,285.6 263.5,285.0 265.5,284.5" stroke="#0000A0"/>
<polyline points="67.5,324.9 69.5,325.1 71.5,325.2 73.4,325.4 75.4,325.6 77.4,325.8 79.4,325.9 81.4,326.1 83.3,326.3 85.3,326.4 87.3,326.6 89.3,326.8 91.3,327.0 93.2,327.1 95.2,327.3 97.2,327.5 99.2,327.7 101.2,327.8 103.1,328.0 105.1,328.2 107.1,328.4 109.1,328.5 111.1,328.7 113.0,328.9 115.0,329.1 117.0,329.2 119.0,329.4 121.0,329.6 122.9,329.7 124.9,329.9 126.9,330.0 128.9,330.2 130.9,330.3 132.8,330.5 134.8,330.6 136.8,330.7 138.8,330.8 140.8,330.9 142.7,331.0 144.7,331.1 146.7,331.1 148.7,331.2 150.7,331.2 152.6,331.3 154.6,331.3 156.6,331.3 158.6,331.2 160.6,331.2 162.5,331.1 164.5,331.0 166.5,330.9 168.5,330.7 170.5,330.4 172.4,330.0 174.4,329.6 176.4,329.2 178.4,328.6 180.4,328.0 182.3,327.4 184.3,326.6 186.3,325.8 188.3,324.9 190.3,323.9 192.2,322.8 194.2,321.7 196.2,320.5 198.2,319.3 200.2,318.0 202.1,316.7 204.1,315.4 206.1,314.0 208.1,312.7 210.1,311.3 212.0,309.9 214.0,308.6 216.0,307.2 218.0,305.9 220.0,304.6 221.9,303.3 223.9,302.0 225.9,300.8 227.9,299.7 229.9,298.5 231.8,297.5 233.8,296.4 235.8,295.5 237.8,294.5 239.8,293.6 241.7,292.8 243.7,292.0 245.7,291.2 247.7,290.5 249.7,289.8 251.6,289.1 253.6,288.5 255.6,287.9 257.6,287.3 259.6,286.7 261.5,286.1 263.5,285.6 265.5,285.0" stroke="#FF8000"/>
<polyline points="67.5,329.5 69.5,329.6 71.5,329.7 73.4,329.7 75.4,329.8 77.4,329.9 79.4,330.0 81.4,330.0 83.3,330.1 85.3,330.2 87.3,330.3 89.3,330.3 91.3,330.4 93.2,330.5 95.2,330.6 97.2,330.7 99.2,330.7 101.2,330.8 103.1,330.9 105.1,331.0 107.1,331.1 109.1,331.2 111.1,331.3 113.0,331.4 115.0,331.5 117.0,331.6 119.0,331.6 121.0,331.7 122.9,331.8 124.9,331.9 126.9,332.0 128.9,332.1 130.9,332.1 132.8,332.2 134.8,332.3 136.8,332.3 138.8,332.4 140.8,332.4 142.7,332.5 144.7,332.5 146.7,332.5 148.7,332.5 150.7,332.5 152.6,332.5 154.6,332.5 156.6,332.4 158.6,332.4 160.6,332.3 162.5,332.2 164.5,332.1 166.5,332.0 168.5,331.7 170.5,331.4 172.4,331.1 174.4,330.7 176.4,330.2 178.4,329.6 180.4,329.0 182.3,328.3 184.3,327.5 186.3,326.7 188.3,325.8 190.3,324.8 192.2,323.7 194.2,322.5 196.2,321.3 198.2,320.1 200.2,318.8 202.1,317.5 204.1,316.2 206.1,314.8 208.1,313.4 210.1,312.0 212.0,310.7 214.0,309.3 216.0,307.9 218.0,306.6 220.0,305.2 221.9,303.9 223.9,302.7 225.9,301.5 227.9,300.3 229.9,299.2 231.8,298.1 233.8,297.1 235.8,296.1 237.8,295.1 239.8,294.2 241.7,293.4 243.7,292.5 245.7,291.8 247.7,291.0 249.7,290.3 251.6,289.7 253.6,289.0 255.6,288.4 257.6,287.8 259.6,287.2 261.5,286.6 263.5,286.1 265.5,285.5" stroke="#8000FF"/>
<polyline points="67.5,336.9 69.5,336.9 71.5,336.9 73.4,336.8 75.4,336.8 77.4,336.8 79.4,336.8 81.4,336.8 83.3,336.8 85.3,336.7 87.3,336.7 89.3,336.7 91.3,336.7 93.2,336.7 95.2,336.6 97.2,336.6 99.2,336.5 101.2,336.5 103.1,336.4 105.1,336.4 107.1,336.3 109.1,336.2 111.1,336.1 113.0,336.0 115.0,336.0 117.0,335.9 119.0,335.8 121.0,335.7 122.9,335.6 124.9,335.5 126.9,335.4 128.9,335.2 130.9,335.1 132.8,335.0 134.8,334.9 136.8,334.8 138.8,334.7 140.8,334.6 142.7,334.5 144.7,334.3 146.7,334.2 148.7,334.1 150.7,334.0 152.6,333.9 154.6,333.8 156.6,333.7 158.6,333.6 160.6,333.5 162.5,333.4 164.5,333.2 166.5,333.0 168.5,332.8 170.5,332.5 172.4,332.1 174.4,331.7 176.4,331.2 178.4,330.6 180.4,330.0 182.3,329.3 184.3,328.5 186.3,327.6 188.3,326.7 190.3,325.6 192.2,324.6 194.2,323.4 196.2,322.2 198.2,320.9 200.2,319.6 202.1,318.3 204.1,316.9 206.1,315.6 208.1,314.2 210.1,312.8 212.0,311.4 214.0,310.0 216.0,308.6 218.0,307.3 220.0,305.9 221.9,304.6 223.9,303.3 225.9,302.1 227.9,300.9 229.9,299.8 231.8,298.7 233.8,297.7 235.8,296.7 237.8,295.7 239.8,294.8 241.7,293.9 243.7,293.1 245.7,292.3 247.7,291.6 249.7,290.9 251.6,290.2 253.6,289.6 255.6,288.9 257.6,288.3 259.6,287.7 261.5,287.2 263.5,286.6 265.5,286.0" stroke="#FF0080"/>
<polyline points="67.5,342.0 69.5,342.0 71.5,342.0 73.4,342.0 75.4,342.0 77.4,342.0 79.4,341.9 81.4,341.9 83.3,341.9 85.3,341.9 87.3,341.9 89.3,341.9 91.3,341.9 93.2,341.9 95.2,341.8 97.2,341.7 99.2,341.7 101.2,341.5 103.1,341.4 105.1,341.2 107.1,341.1 109.1,340.9 111.1,340.7 113.0,340.4 115.0,340.2 117.0,340.0 119.0,339.7 121.0,339.4 122.9,339.2 124.9,338.9 126.9,338.6 128.9,338.4 130.9,338.1 132.8,337.8 134.8,337.5 136.8,337.2 138.8,337.0 140.8,336.7 142.7,336.5 144.7,336.2 146.7,336.0 148.7,335.7 150.7,335.5 152.6,335.3 154.6,335.1 156.6,334.9 158.6,334.8 160.6,334.6 162.5,334.5 164.5,334.3 166.5,334.1 168.5,333.9 170.5,333.5 172.4,333.1 174.4,332.7 176.4,332.2 178.4,331.6 180.4,331.0 182.3,330.2 184.3,329.4 186.3,328.5 188.3,327.6 190.3,326.5 192.2,325.4 194.2,324.3 196.2,323.0 198.2,321.8 200.2,320.4 202.1,319.1 204.1,317.7 206.1,316.3 208.1,314.9 210.1,313.5 212.0,312.1 214.0,310.7 216.0,309.3 218.0,307.9 220.0,306.6 221.9,305.3 223.9,304.0 225.9,302.8 227.9,301.6 229.9,300.4 231.8,299.3 233.8,298.3 235.8,297.3 237.8,296.3 239.8,295.4 241.7,294.5 243.7,293.7 245.7,292.9 247.7,292.2 249.7,291.4 251.6,290.8 253.6,290.1 255.6,289.5 257.6,288.9 259.6,288.3 261.5,287.7 263.5,287.1 265.5,286.6" stroke="#FFFFFF"/>
<polyline points="67.5,347.2 69.5,347.2 71.5,347.2 73.4,347.2 75.4,347.2 77.4,347.1 79.4,347.1 81.4,347.1 83.3,347.1 85.3,347.1 87.3,347.1 89.3,347.1 91.3,347.1 93.2,347.0 95.2,347.0 97.2,346.8 99.2,346.7 101.2,346.5 103.1,346.3 105.1,346.0 107.1,345.7 109.1,345.4 111.1,345.1 113.0,344.7 115.0,344.4 117.0,344.0 119.0,343.6 121.0,343.1 122.9,342.7 124.9,342.3 126.9,341.8 128.9,341.4 130.9,341.0 132.8,340.5 134.8,340.1 136.8,339.7 138.8,339.2 140.8,338.8 142.7,338.4 144.7,338.0 146.7,337.7 148.7,337.3 150.7,337.0 152.6,336.7 154.6,336.4 156.6,336.2 158.6,336.0 160.6,335.8 162.5,335.6 164.5,335.4 166.5,335.2 168.5,334.9 170.5,334.6 172.4,334.2 174.4,333.7 176.4,333.2 178.4,332.6 180.4,331.9 182.3,331.2 184.3,330.4 186.3,329.5 188.3,328.5 190.3,327.4 192.2,326.3 194.2,325.1 196.2,323.9 198.2,322.6 200.2,321.3 202.1,319.9 204.1,318.5 206.1,317.1 208.1,315.7 210.1,314.3 212.0,312.8 214.0,311.4 216.0,310.0 218.0,308.6 220.0,307.3 221.9,305.9 223.9,304.7 225.9,303.4 227.9,302.2 229.9,301.1 231.8,300.0 233.8,298.9 235.8,297.9 237.8,296.9 239.8,296.0 241.7,295.1 243.7,294.3 245.7,293.5 247.7,292.7 249.7,292.0 251.6,291.3 253.6,290.7 255.6,290.0 257.6,289.4 259.6,288.8 261.5,288.2 263.5,287.7 265.5,287.1" stroke="#C0C0C0"/>
<polyline points="67.5,350.0 69.5,350.0 71.5,350.0 73.4,350.0 75.4,350.0 77.4,349.9 79.4,349.9 81.4,349.9 83.3,349.9 85.3,349.9 87.3,349.9 89.3,349.9 91.3,349.9 93.2,349.8 95.2,349.7 97.2,349.6 99.2,349.4 101.2,349.2 103.1,348.9 105.1,348.6 107.1,348.3 109.1,348.0 111.1,347.6 113.0,347.2 115.0,346.7 117.0,346.3 119.0,345.8 121.0,345.4 122.9,344.9 124.9,344.4 126.9,343.9 128.9,343.4 130.9,342.8 132.8,342.3 134.8,341.8 136.8,341.3 138.8,340.9 140.8,340.4 142.7,339.9 144.7,339.5 146.7,339.1 148.7,338.7 150.7,338.3 152.6,338.0 154.6,337.7 156.6,337.4 158.6,337.1 160.6,336.9 162.5,336.7 164.5,336.5 166.5,336.3 168.5,336.0 170.5,335.6 172.4,335.2 174.4,334.7 176.4,334.2 178.4,333.6 180.4,332.9 182.3,332.1 184.3,331.3 186.3,330.4 188.3,329.4 190.3,328.3 192.2,327.2 194.2,326.0 196.2,324.7 198.2,323.4 200.2,322.1 202.1,320.7 204.1,319.3 206.1,317.9 208.1,316.4 210.1,315.0 212.0,313.6 214.0,312.1 216.0,310.7 218.0,309.3 220.0,308.0 221.9,306.6 223.9,305.3 225.9,304.1 227.9,302.8 229.9,301.7 231.8,300.6 233.8,299.5 235.8,298.5 237.8,297.5 239.8,296.6 241.7,295.7 243.7,294.8 245.7,294.0 247.7,293.3 249.7,292.6 251.6,291.9 253.6,291.2 255.6,290.6 257.6,289.9 259.6,289.3 261.5,288.8 263.5,288.2 265.5,287.6" stroke="#808080"/>
<polyline points="67.5,352.8 69.5,352.8 71.5,352.8 73.4,352.8 75.4,352.7 77.4,352.7 79.4,352.7 81.4,352.7 83.3,352.7 85.3,352.7 87.3,352.7 89.3,352.7 91.3,352.6 93.2,352.6 95.2,352.5 97.2,352.4 99.2,352.2 101.2,351.9 103.1,351.6 105.1,351.3 107.1,350.9 109.1,350.5 111.1,350.1 113.0,349.6 115.0,349.1 117.0,348.6 119.0,348.1 121.0,347.6 122.9,347.0 124.9,346.4 126.9,345.9 128.9,345.3 130.9,344.7 132.8,344.2 134.8,343.6 136.8,343.0 138.8,342.5 140.8,342.0 142.7,341.4 144.7,341.0 146.7,340.5 148.7,340.0 150.7,339.6 152.6,339.2 154.6,338.9 156.6,338.6 158.6,338.3 160.6,338.0 162.5,337.8 164.5,337.6 166.5,337.4 168.5,337.1 170.5,336.7 172.4,336.3 174.4,335.8 176.4,335.2 178.4,334.6 180.4,333.9 182.3,333.1 184.3,332.3 186.3,331.3 188.3,330.3 190.3,329.2 192.2,328.1 194.2,326.8 196.2,325.6 198.2,324.2 200.2,322.9 202.1,321.5 204.1,320.1 206.1,318.6 208.1,317.2 210.1,315.7 212.0,314.3 214.0,312.9 216.0,311.4 218.0,310.0 220.0,308.6 221.9,307.3 223.9,306.0 225.9,304.7 227.9,303.5 229.9,302.3 231.8,301.2 233.8,300.1 235.8,299.1 237.8,298.1 239.8,297.2 241.7,296.3 243.7,295.4 245.7,294.6 247.7,293.8 249.7,293.1 251.6,292.4 253.6,291.7 255.6,291.1 257.6,290.5 259.6,289.9 261.5,289.3 263.5,288.7 265.5,288.1" stroke="#FFFF80"/>
<polyline points="67.5,355.1 69.5,355.1 71.5,355.1 73.4,355.1 75.4,355.0 77.4,355.0 79.4,355.0 81.4,355.0 83.3,355.0 85.3,355.0 87.3,355.0 89.3,355.0 91.3,354.9 93.2,354.9 95.2,354.8 97.2,354.6 99.2,354.4 101.2,354.1 103.1,353.8 105.1,353.5 107.1,353.1 109.1,352.6 111.1,352.2 113.0,351.7 115.0,351.1 117.0,350.6 119.0,350.0 121.0,349.5 122.9,348.9 124.9,348.3 126.9,347.6 128.9,347.0 130.9,346.4 132.8,345.8 134.8,345.2 136.8,344.6 138.8,344.0 140.8,343.4 142.7,342.9 144.7,342.3 146.7,341.8 148.7,341.3 150.7,340.9 152.6,340.5 154.6,340.1 156.6,339.8 158.6,339.4 160.6,339.2 162.5,339.0 164.5,338.7 166.5,338.4 168.5,338.1 170.5,337.7 172.4,337.3 174.4,336.8 176.4,336.2 178.4,335.6 180.4,334.8 182.3,334.1 184.3,333.2 186.3,332.2 188.3,331.2 190.3,330.1 192.2,328.9 194.2,327.7 196.2,326.4 198.2,325.1 200.2,323.7 202.1,322.3 204.1,320.9 206.1,319.4 208.1,317.9 210.1,316.5 212.0,315.0 214.0,313.6 216.0,312.1 218.0,310.7 220.0,309.3 221.9,308.0 223.9,306.6 225.9,305.4 227.9,304.1 229.9,302.9 231.8,301.8 233.8,300.7 235.8,299.7 237.8,298.7 239.8,297.8 241.7,296.9 243.7,296.0 245.7,295.2 247.7,294.4 249.7,293.7 251.6,293.0 253.6,292.3 255.6,291.6 257.6,291.0 259.6,290.4 261.5,289.8 263.5,289.2 265.5,288.6" stroke="#80FFFF"/>
<polyline points="67.5,356.3 69.5,356.3 71.5,356.3 73.4,356.3 75.4,356.2 77.4,356.2 79.4,356.2 81.4,356.2 83.3,356.2 85.3,356.2 87.3,356.2 89.3,356.1 91.3,356.1 93.2,356.1 95.2,356.0 97.2,355.8 99.2,355.6 101.2,355.3 103.1,355.0 105.1,354.6 107.1,354.3 109.1,353.8 111.1,353.4 113.0,352.9 115.0,352.3 117.0,351.8 119.0,351.2 121.0,350.7 122.9,350.1 124.9,349.5 126.9,348.9 128.9,348.2 130.9,347.6 132.8,347.0 134.8,346.4 136.8,345.8 138.8,345.2 140.8,344.6 142.7,344.1 144.7,343.5 146.7,343.0 148.7,342.5 150.7,342.1 152.6,341.7 154.6,341.3 156.6,340.9 158.6,340.6 160.6,340.3 162.5,340.1 164.5,339.8 166.5,339.5 168.5,339.2 170.5,338.8 172.4,338.3 174.4,337.8 176.4,337.2 178.4,336.5 180.4,335.8 182.3,335.0 184.3,334.1 186.3,333.2 188.3,332.1 190.3,331.0 192.2,329.8 194.2,328.6 196.2,327.3 198.2,325.9 200.2,324.5 202.1,323.1 204.1,321.6 206.1,320.2 208.1,318.7 210.1,317.2 212.0,315.7 214.0,314.3 216.0,312.8 218.0,311.4 220.0,310.0 221.9,308.6 223.9,307.3 225.9,306.0 227.9,304.8 229.9,303.6 231.8,302.4 233.8,301.3 235.8,300.3 237.8,299.3 239.8,298.3 241.7,297.4 243.7,296.6 245.7,295.7 247.7,295.0 249.7,294.2 251.6,293.5 253.6,292.8 255.6,292.2 257.6,291.6 259.6,290.9 261.5,290.3 263.5,289.7 265.5,289.2" stroke="#FF80FF"/>
<polyline points="67.5,357.0 69.5,357.0 71.5,357.0 73.4,356.9 75.4,356.9 77.4,356.9 79.4,356.9 81.4,356.9 83.3,356.9 85.3,356.9 87.3,356.8 89.3,356.8 91.3,356.8 93.2,356.8 95.2,356.7 97.2,356.5 99.2,356.3 101.2,356.0 103.1,355.7 105.1,355.4 107.1,355.0 109.1,354.6 111.1,354.1 113.0,353.7 115.0,353.2 117.0,352.7 119.0,352.1 121.0,351.6 122.9,351.0 124.9,350.4 126.9,349.8 128.9,349.2 130.9,348.6 132.8,348.0 134.8,347.5 136.8,346.9 138.8,346.3 140.8,345.7 142.7,345.2 144.7,344.7 146.7,344.2 148.7,343.7 150.7,343.2 152.6,342.8 154.6,342.4 156.6,342.1 158.6,341.7 160.6,341.4 162.5,341.2 164.5,340.9 166.5,340.6 168.5,340.3 170.5,339.8 172.4,339.4 174.4,338.8 176.4,338.2 178.4,337.5 180.4,336.8 182.3,336.0 184.3,335.1 186.3,334.1 188.3,333.0 190.3,331.9 192.2,330.7 194.2,329.4 196.2,328.1 198.2,326.7 200.2,325.3 202.1,323.9 204.1,322.4 206.1,320.9 208.1,319.5 210.1,318.0 212.0,316.5 214.0,315.0 216.0,313.5 218.0,312.1 220.0,310.7 221.9,309.3 223.9,308.0 225.9,306.7 227.9,305.4 229.9,304.2 231.8,303.1 233.8,302.0 235.8,300.9 237.8,299.9 239.8,298.9 241.7,298.0 243.7,297.1 245.7,296.3 247.7,295.5 249.7,294.8 251.6,294.1 253.6,293.4 255.6,292.7 257.6,292.1 259.6,291.5 261.5,290.9 263.5,290.3 265.5,289.7" stroke="#404040"/>
<polyline points="67.5,357.5 69.5,357.5 71.5,357.5 73.4,357.4 75.4,357.4 77.4,357.4 79.4,357.4 81.4,357.4 83.3,357.4 85.3,357.3 87.3,357.3 89.3,357.3 91.3,357.3 93.2,357.2 95.2,357.1 97.2,357.0 99.2,356.8 101.2,356.6 103.1,356.3 105.1,355.9 107.1,355.6 109.1,355.2 111.1,354.8 113.0,354.3 115.0,353.9 117.0,353.4 119.0,352.9 121.0,352.3 122.9,351.8 124.9,351.2 126.9,350.7 128.9,350.1 130.9,349.6 132.8,349.0 134.8,348.4 136.8,347.9 138.8,347.3 140.8,346.8 142.7,346.3 144.7,345.8 146.7,345.3 148.7,344.8 150.7,344.4 152.6,344.0 154.6,343.6 156.6,343.2 158.6,342.9 160.6,342.6 162.5,342.3 164.5,342.0 166.5,341.7 168.5,341.3 170.5,340.9 172.4,340.4 174.4,339.8 176.4,339.2 178.4,338.5 180.4,337.8 182.3,336.9 184.3,336.0 186.3,335.0 188.3,333.9 190.3,332.8 192.2,331.6 194.2,330.3 196.2,328.9 198.2,327.6 200.2,326.1 202.1,324.7 204.1,323.2 206.1,321.7 208.1,320.2 210.1,318.7 212.0,317.2 214.0,315.7 216.0,314.2 218.0,312.8 220.0,311.4 221.9,310.0 223.9,308.6 225.9,307.3 227.9,306.0 229.9,304.8 231.8,303.7 233.8,302.6 235.8,301.5 237.8,300.5 239.8,299.5 241.7,298.6 243.7,297.7 245.7,296.9 247.7,296.1 249.7,295.3 251.6,294.6 253.6,293.9 255.6,293.3 257.6,292.6 259.6,292.0 261.5,291.4 263.5,290.8 265.5,290.2" stroke="#000000"/>
<polyline points="67.5,358.0 69.5,358.0 71.5,358.0 73.4,357.9 75.4,357.9 77.4,357.9 79.4,357.9 81.4,357.9 83.3,357.8 85.3,357.8 87.3,357.8 89.3,357.8 91.3,357.8 93.2,357.7 95.2,357.6 97.2,357.5 99.2,357.3 101.2,357.1 103.1,356.8 105.1,356.5 107.1,356.2 109.1,355.8 111.1,355.4 113.0,355.0 115.0,354.5 117.0,354.1 119.0,353.6 121.0,353.1 122.9,352.6 124.9,352.1 126.9,351.6 128.9,351.0 130.9,350.5 132.8,349.9 134.8,349.4 136.8,348.9 138.8,348.4 140.8,347.9 142.7,347.4 144.7,346.9 146.7,346.4 148.7,345.9 150.7,345.5 152.6,345.1 154.6,344.7 156.6,344.4 158.6,344.0 160.6,343.7 162.5,343.4 164.5,343.1 166.5,342.8 168.5,342.4 170.5,341.9 172.4,341.4 174.4,340.9 176.4,340.2 178.4,339.5 180.4,338.7 182.3,337.9 184.3,337.0 186.3,335.9 188.3,334.8 190.3,333.7 192.2,332.4 194.2,331.1 196.2,329.8 198.2,328.4 200.2,326.9 202.1,325.5 204.1,324.0 206.1,322.5 208.1,321.0 210.1,319.4 212.0,317.9 214.0,316.4 216.0,314.9 218.0,313.5 220.0,312.0 221.9,310.6 223.9,309.3 225.9,308.0 227.9,306.7 229.9,305.5 231.8,304.3 233.8,303.2 235.8,302.1 237.8,301.1 239.8,300.1 241.7,299.2 243.7,298.3 245.7,297.5 247.7,296.7 249.7,295.9 251.6,295.2 253.6,294.5 255.6,293.8 257.6,293.2 259.6,292.5 261.5,291.9 263.5,291.3 265.5,290.7" stroke="#FF0000"/>
<polyline points="67.5,358.4 69.5,358.4 71.5,358.4 73.4,358.3 75.4,358.3 77.4,358.3 79.4,358.3 81.4,358.3 83.3,358.2 85.3,358.2 87.3,358.2 89.3,358.2 91.3,358.2 93.2,358.1 95.2,358.0 97.2,357.9 99.2,357.7 101.2,357.5 103.1,357.3 105.1,357.0 107.1,356.7 109.1,356.3 111.1,356.0 113.0,355.6 115.0,355.2 117.0,354.7 119.0,354.3 121.0,353.8 122.9,353.3 124.9,352.9 126.9,352.4 128.9,351.9 130.9,351.4 132.8,350.9 134.8,350.4 136.8,349.9 138.8,349.4 140.8,348.9 142.7,348.4 144.7,347.9 146.7,347.5 148.7,347.1 150.7,346.6 152.6,346.2 154.6,345.9 156.6,345.5 158.6,345.2 160.6,344.8 162.5,344.5 164.5,344.2 166.5,343.9 168.5,343.5 170.5,343.0 172.4,342.5 174.4,341.9 176.4,341.2 178.4,340.5 180.4,339.7 182.3,338.8 184.3,337.9 186.3,336.9 188.3,335.8 190.3,334.6 192.2,333.3 194.2,332.0 196.2,330.6 198.2,329.2 200.2,327.8 202.1,326.3 204.1,324.8 206.1,323.2 208.1,321.7 210.1,320.2 212.0,318.7 214.0,317.1 216.0,315.6 218.0,314.2 220.0,312.7 221.9,311.3 223.9,309.9 225.9,308.6 227.9,307.3 229.9,306.1 231.8,304.9 233.8,303.8 235.8,302.7 237.8,301.7 239.8,300.7 241.7,299.8 243.7,298.9 245.7,298.0 247.7,297.2 249.7,296.4 251.6,295.7 253.6,295.0 255.6,294.3 257.6,293.7 259.6,293.1 261.5,292.4 263.5,291.8 265.5,291.2" stroke="#00FF00"/>
<polyline points="67.5,358.7 69.5,358.7 71.5,358.7 73.4,358.6 75.4,358.6 77.4,358.6 79.4,358.6 81.4,358.5 83.3,358.5 85.3,358.5 87.3,358.5 89.3,358.5 91.3,358.5 93.2,358.4 95.2,358.3 97.2,358.2 99.2,358.0 101.2,357.8 103.1,357.6 105.1,357.4 107.1,357.1 109.1,356.8 111.1,356.4 113.0,356.1 115.0,355.7 117.0,355.3 119.0,354.9 121.0,354.5 122.9,354.0 124.9,353.6 126.9,353.1 128.9,352.7 130.9,352.2 132.8,351.7 134.8,351.3 136.8,350.8 138.8,350.4 140.8,349.9 142.7,349.5 144.7,349.0 146.7,348.6 148.7,348.2 150.7,347.8 152.6,347.4 154.6,347.0 156.6,346.6 158.6,346.3 160.6,346.0 162.5,345.6 164.5,345.3 166.5,344.9 168.5,344.5 170.5,344.0 172.4,343.5 174.4,342.9 176.4,342.2 178.4,341.5 180.4,340.7 182.3,339.8 184.3,338.8 186.3,337.8 188.3,336.7 190.3,335.5 192.2,334.2 194.2,332.9 196.2,331.5 198.2,330.0 200.2,328.6 202.1,327.1 204.1,325.6 206.1,324.0 208.1,322.5 210.1,320.9 212.0,319.4 214.0,317.9 216.0,316.3 218.0,314.9 220.0,313.4 221.9,312.0 223.9,310.6 225.9,309.3 227.9,308.0 229.9,306.7 231.8,305.5 233.8,304.4 235.8,303.3 237.8,302.3 239.8,301.3 241.7,300.3 243.7,299.4 245.7,298.6 247.7,297.8 249.7,297.0 251.6,296.3 253.6,295.6 255.6,294.9 257.6,294.2 259.6,293.6 261.5,293.0 263.5,292.4 265.5,291.7" stroke="#0000FF"/>
<polyline points="67.5,359.0 69.5,359.0 71.5,359.0 73.4,358.9 75.4,358.9 77.4,358.9 79.4,358.9 81.4,358.8 83.3,358.8 85.3,358.8 87.3,358.8 89.3,358.8 91.3,358.7 93.2,358.7 95.2,358.6 97.2,358.5 99.2,358.4 101.2,358.2 103.1,358.0 105.1,357.7 107.1,357.5 109.1,357.2 111.1,356.9 113.0,356.6 115.0,356.2 117.0,355.9 119.0,355.5 121.0,355.1 122.9,354.7 124.9,354.3 126.9,353.9 128.9,353.5 130.9,353.1 132.8,352.6 134.8,352.2 136.8,351.8 138.8,351.3 140.8,350.9 142.7,350.5 144.7,350.1 146.7,349.7 148.7,349.3 150.7,348.9 152.6,348.5 154.6,348.1 156.6,347.8 158.6,347.4 160.6,347.1 162.5,346.8 164.5,346.4 166.5,346.0 168.5,345.6 170.5,345.1 172.4,344.5 174.4,343.9 176.4,343.2 178.4,342.5 180.4,341.7 182.3,340.8 184.3,339.8 186.3,338.7 188.3,337.6 190.3,336.4 192.2,335.1 194.2,333.7 196.2,332.3 198.2,330.9 200.2,329.4 202.1,327.9 204.1,326.3 206.1,324.8 208.1,323.2 210.1,321.7 212.0,320.1 214.0,318.6 216.0,317.1 218.0,315.6 220.0,314.1 221.9,312.6 223.9,311.3 225.9,309.9 227.9,308.6 229.9,307.4 231.8,306.2 233.8,305.0 235.8,303.9 237.8,302.9 239.8,301.9 241.7,300.9 243.7,300.0 245.7,299.2 247.7,298.3 249.7,297.6 251.6,296.8 253.6,296.1 255.6,295.4 257.6,294.8 259.6,294.1 261.5,293.5 263.5,292.9 265.5,292.3" stroke="#00FFFF"/>
<polyline points="67.5,359.2 69.5,359.2 71.5,359.1 73.4,359.1 75.4,359.1 77.4,359.1 79.4,359.1 81.4,359.0 83.3,359.0 85.3,359.0 87.3,359.0 89.3,359.0 91.3,358.9 93.2,358.9 95.2,358.8 97.2,358.7 99.2,358.6 101.2,358.4 103.1,358.2 105.1,358.0 107.1,357.8 109.1,357.5 111.1,357.3 113.0,357.0 115.0,356.7 117.0,356.4 119.0,356.0 121.0,355.7 122.9,355.3 124.9,355.0 126.9,354.6 128.9,354.2 130.9,353.9 132.8,353.5 134.8,353.1 136.8,352.7 138.8,352.3 140.8,351.9 142.7,351.5 144.7,351.1 146.7,350.7 148.7,350.4 150.7,350.0 152.6,349.6 154.6,349.3 156.6,348.9 158.6,348.6 160.6,348.2 162.5,347.9 164.5,347.5 166.5,347.1 168.5,346.6 170.5,346.1 172.4,345.6 174.4,344.9 176.4,344.2 178.4,343.5 180.4,342.6 182.3,341.7 184.3,340.7 186.3,339.6 188.3,338.5 190.3,337.2 192.2,335.9 194.2,334.6 196.2,333.2 198.2,331.7 200.2,330.2 202.1,328.7 204.1,327.1 206.1,325.6 208.1,324.0 210.1,322.4 212.0,320.8 214.0,319.3 216.0,317.8 218.0,316.2 220.0,314.8 221.9,313.3 223.9,311.9 225.9,310.6 227.9,309.2 229.9,308.0 231.8,306.8 233.8,305.6 235.8,304.5 237.8,303.5 239.8,302.5 241.7,301.5 243.7,300.6 245.7,299.7 247.7,298.9 249.7,298.1 251.6,297.4 253.6,296.7 255.6,296.0 257.6,295.3 259.6,294.7 261.5,294.0 263.5,293.4 265.5,292.8" stroke="#FF00FF"/>
<polyline points="67.5,359.4 69.5,359.4 71.5,359.3 73.4,359.3 75.4,359.3 77.4,359.3 79.4,359.2 81.4,359.2 83.3,359.2 85.3,359.2 87.3,359.2 89.3,359.1 91.3,359.1 93.2,359.1 95.2,359.0 97.2,358.9 99.2,358.8 101.2,358.7 103.1,358.5 105.1,358.3 107.1,358.1 109.1,357.9 111.1,357.7 113.0,357.4 115.0,357.1 117.0,356.9 119.0,356.6 121.0,356.3 122.9,356.0 124.9,355.7 126.9,355.3 128.9,355.0 130.9,354.7 132.8,354.3 134.8,354.0 136.8,353.6 138.8,353.2 140.8,352.9 142.7,352.5 144.7,352.2 146.7,351.8 148.7,351.5 150.7,351.1 152.6,350.8 154.6,350.4 156.6,350.1 158.6,349.7 160.6,349.4 162.5,349.0 164.5,348.6 166.5,348.2 168.5,347.7 170.5,347.2 172.4,346.6 174.4,345.9 176.4,345.2 178.4,344.4 180.4,343.6 182.3,342.7 184.3,341.7 186.3,340.6 188.3,339.4 190.3,338.1 192.2,336.8 194.2,335.4 196.2,334.0 198.2,332.5 200.2,331.0 202.1,329.5 204.1,327.9 206.1,326.3 208.1,324.7 210.1,323.1 212.0,321.6 214.0,320.0 216.0,318.5 218.0,316.9 220.0,315.4 221.9,314.0 223.9,312.6 225.9,311.2 227.9,309.9 229.9,308.6 231.8,307.4 233.8,306.2 235.8,305.1 237.8,304.1 239.8,303.1 241.7,302.1 243.7,301.2 245.7,300.3 247.7,299.5 249.7,298.7 251.6,297.9 253.6,297.2 255.6,296.5 257.6,295.8 259.6,295.2 261.5,294.6 263.5,293.9 265.5,293.3" stroke="#FFFF00"/>
<polyline points="67.5,359.6 69.5,359.6 71.5,359.5 73.4,359.5 75.4,359.5 77.4,359.5 79.4,359.4 81.4,359.4 83.3,359.4 85.3,359.4 87.3,359.3 89.3,359.3 91.3,359.3 93.2,359.3 95.2,359.2 97.2,359.1 99.2,359.0 101.2,358.9 103.1,358.8 105.1,358.6 107.1,358.4 109.1,358.2 111.1,358.0 113.0,357.8 115.0,357.6 117.0,357.4 119.0,357.1 121.0,356.9 122.9,356.6 124.9,356.3 126.9,356.0 128.9,355.7 130.9,355.5 132.8,355.1 134.8,354.8 136.8,354.5 138.8,354.2 140.8,353.9 142.7,353.6 144.7,353.2 146.7,352.9 148.7,352.6 150.7,352.2 152.6,351.9 154.6,351.5 156.6,351.2 158.6,350.8 160.6,350.5 162.5,350.1 164.5,349.7 166.5,349.3 168.5,348.8 170.5,348.2 172.4,347.6 174.4,347.0 176.4,346.2 178.4,345.4 180.4,344.6 182.3,343.6 184.3,342.6 186.3,341.5 188.3,340.3 190.3,339.0 192.2,337.7 194.2,336.3 196.2,334.9 198.2,333.4 200.2,331.8 202.1,330.3 204.1,328.7 206.1,327.1 208.1,325.5 210.1,323.9 212.0,322.3 214.0,320.7 216.0,319.2 218.0,317.6 220.0,316.1 221.9,314.7 223.9,313.2 225.9,311.9 227.9,310.5 229.9,309.3 231.8,308.0 233.8,306.9 235.8,305.7 237.8,304.7 239.8,303.6 241.7,302.7 243.7,301.7 245.7,300.9 247.7,300.0 249.7,299.2 251.6,298.5 253.6,297.7 255.6,297.1 257.6,296.4 259.6,295.7 261.5,295.1 263.5,294.4 265.5,293.8" stroke="#808000"/>
<polyline points="67.5,359.8 69.5,359.8 71.5,359.7 73.4,359.7 75.4,359.7 77.4,359.7 79.4,359.6 81.4,359.6 83.3,359.6 85.3,359.6 87.3,359.5 89.3,359.5 91.3,359.5 93.2,359.5 95.2,359.4 97.2,359.3 99.2,359.3 101.2,359.1 103.1,359.0 105.1,358.9 107.1,358.7 109.1,358.6 111.1,358.4 113.0,358.2 115.0,358.1 117.0,357.9 119.0,357.7 121.0,357.4 122.9,357.2 124.9,357.0 126.9,356.8 128.9,356.5 130.9,356.3 132.8,356.0 134.8,355.7 136.8,355.4 138.8,355.2 140.8,354.9 142.7,354.6 144.7,354.3 146.7,354.0 148.7,353.7 150.7,353.3 152.6,353.0 154.6,352.7 156.6,352.3 158.6,352.0 160.6,351.6 162.5,351.2 164.5,350.8 166.5,350.4 168.5,349.8 170.5,349.3 172.4,348.7 174.4,348.0 176.4,347.2 178.4,346.4 180.4,345.5 182.3,344.6 184.3,343.5 186.3,342.4 188.3,341.2 190.3,339.9 192.2,338.6 194.2,337.2 196.2,335.7 198.2,334.2 200.2,332.6 202.1,331.1 204.1,329.5 206.1,327.9 208.1,326.2 210.1,324.6 212.0,323.0 214.0,321.4 216.0,319.9 218.0,318.3 220.0,316.8 221.9,315.3 223.9,313.9 225.9,312.5 227.9,311.2 229.9,309.9 231.8,308.6 233.8,307.5 235.8,306.3 237.8,305.3 239.8,304.2 241.7,303.2 243.7,302.3 245.7,301.4 247.7,300.6 249.7,299.8 251.6,299.0 253.6,298.3 255.6,297.6 257.6,296.9 259.6,296.3 261.5,295.6 263.5,295.0 265.5,294.3" stroke="#000080"/>
<polyline points="67.5,360.0 69.5,360.0 71.5,359.9 73.4,359.9 75.4,359.9 77.4,359.8 79.4,359.8 81.4,359.8 83.3,359.7 85.3,359.7 87.3,359.7 89.3,359.7 91.3,359.6 93.2,359.6 95.2,359.6 97.2,359.5 99.2,359.4 101.2,359.3 103.1,359.2 105.1,359.1 107.1,359.0 109.1,358.9 111.1,358.8 113.0,358.6 115.0,358.5 117.0,358.3 119.0,358.2 121.0,358.0 122.9,357.8 124.9,357.6 126.9,357.4 128.9,357.2 130.9,357.0 132.8,356.8 134.8,356.6 136.8,356.3 138.8,356.1 140.8,355.8 142.7,355.6 144.7,355.3 146.7,355.0 148.7,354.7 150.7,354.4 152.6,354.1 154.6,353.8 156.6,353.5 158.6,353.1 160.6,352.7 162.5,352.3 164.5,351.9 166.5,351.4 168.5,350.9 170.5,350.3 172.4,349.7 174.4,349.0 176.4,348.2 178.4,347.4 180.4,346.5 182.3,345.5 184.3,344.5 186.3,343.3 188.3,342.1 190.3,340.8 192.2,339.5 194.2,338.0 196.2,336.5 198.2,335.0 200.2,333.4 202.1,331.9 204.1,330.2 206.1,328.6 208.1,327.0 210.1,325.4 212.0,323.8 214.0,322.1 216.0,320.6 218.0,319.0 220.0,317.5 221.9,316.0 223.9,314.6 225.9,313.2 227.9,311.8 229.9,310.5 231.8,309.3 233.8,308.1 235.8,306.9 237.8,305.9 239.8,304.8 241.7,303.8 243.7,302.9 245.7,302.0 247.7,301.1 249.7,300.3 251.6,299.6 253.6,298.8 255.6,298.1 257.6,297.4 259.6,296.8 261.5,296.1 263.5,295.5 265.5,294.9" stroke="#800080"/>
<polyline points="67.5,360.2 69.5,360.2 71.5,360.1 73.4,360.1 75.4,360.0 77.4,360.0 79.4,360.0 81.4,359.9 83.3,359.9 85.3,359.9 87.3,359.8 89.3,359.8 91.3,359.8 93.2,359.7 95.2,359.7 97.2,359.6 99.2,359.6 101.2,359.5 103.1,359.4 105.1,359.3 107.1,359.3 109.1,359.2 111.1,359.1 113.0,359.0 115.0,358.9 117.0,358.8 119.0,358.6 121.0,358.5 122.9,358.4 124.9,358.2 126.9,358.1 128.9,357.9 130.9,357.8 132.8,357.6 134.8,357.4 136.8,357.2 138.8,357.0 140.8,356.8 142.7,356.6 144.7,356.3 146.7,356.1 148.7,355.8 150.7,355.5 152.6,355.3 154.6,354.9 156.6,354.6 158.6,354.2 160.6,353.9 162.5,353.5 164.5,353.0 166.5,352.5 168.5,352.0 170.5,351.4 172.4,350.7 174.4,350.0 176.4,349.2 178.4,348.4 180.4,347.5 182.3,346.5 184.3,345.4 186.3,344.3 188.3,343.0 190.3,341.7 192.2,340.3 194.2,338.9 196.2,337.4 198.2,335.8 200.2,334.3 202.1,332.7 204.1,331.0 206.1,329.4 208.1,327.7 210.1,326.1 212.0,324.5 214.0,322.9 216.0,321.3 218.0,319.7 220.0,318.2 221.9,316.7 223.9,315.2 225.9,313.8 227.9,312.4 229.9,311.1 231.8,309.9 233.8,308.7 235.8,307.5 237.8,306.5 239.8,305.4 241.7,304.4 243.7,303.5 245.7,302.6 247.7,301.7 249.7,300.9 251.6,300.1 253.6,299.4 255.6,298.7 257.6,298.0 259.6,297.3 261.5,296.7 263.5,296.0 265.5,295.4" stroke="#800000"/>
<polyline points="67.5,360.3 69.5,360.3 71.5,360.2 73.4,360.2 75.4,360.1 77.4,360.1 79.4,360.0 81.4,360.0 83.3,360.0 85.3,359.9 87.3,359.9 89.3,359.8 91.3,359.8 93.2,359.8 95.2,359.7 97.2,359.7 99.2,359.6 101.2,359.6 103.1,359.5 105.1,359.5 107.1,359.4 109.1,359.4 111.1,359.3 113.0,359.3 115.0,359.2 117.0,359.1 119.0,359.1 121.0,359.0 122.9,358.9 124.9,358.8 126.9,358.7 128.9,358.6 130.9,358.5 132.8,358.4 134.8,358.2 136.8,358.1 138.8,357.9 140.8,357.8 142.7,357.6 144.7,357.4 146.7,357.1 148.7,356.9 150.7,356.6 152.6,356.4 154.6,356.1 156.6,355.7 158.6,355.4 160.6,355.0 162.5,354.6 164.5,354.1 166.5,353.6 168.5,353.0 170.5,352.4 172.4,351.8 174.4,351.0 176.4,350.2 178.4,349.4 180.4,348.5 182.3,347.4 184.3,346.4 186.3,345.2 188.3,343.9 190.3,342.6 192.2,341.2 194.2,339.7 196.2,338.2 198.2,336.7 200.2,335.1 202.1,333.5 204.1,331.8 206.1,330.2 208.1,328.5 210.1,326.8 212.0,325.2 214.0,323.6 216.0,322.0 218.0,320.4 220.0,318.8 221.9,317.3 223.9,315.9 225.9,314.5 227.9,313.1 229.9,311.8 231.8,310.5 233.8,309.3 235.8,308.2 237.8,307.0 239.8,306.0 241.7,305.0 243.7,304.0 245.7,303.1 247.7,302.3 249.7,301.5 251.6,300.7 253.6,299.9 255.6,299.2 257.6,298.5 259.6,297.8 261.5,297.2 263.5,296.5 265.5,295.9" stroke="#008000"/>
</g>
<rect x="67.5" y="210.5" width="198.0" height="152.0" fill="none" stroke="#000" stroke-width="1.2"/>
<path d="M67.50,362.5v-3.5 M87.30,362.5v-2.2 M107.10,362.5v-3.5 M126.90,362.5v-2.2 M146.70,362.5v-3.5 M166.50,362.5v-2.2 M186.30,362.5v-3.5 M206.10,362.5v-2.2 M225.90,362.5v-3.5 M245.70,362.5v-2.2 M265.50,362.5v-3.5 M67.5,359.79h2.2 M67.5,346.21h3.5 M67.5,332.64h2.2 M67.5,319.07h3.5 M67.5,305.50h2.2 M67.5,291.93h3.5 M67.5,278.36h2.2 M67.5,264.79h3.5 M67.5,251.21h2.2 M67.5,237.64h3.5 M67.5,224.07h2.2 M67.5,210.50h3.5" stroke="#000" stroke-width="1.3" fill="none"/>
<text transform="translate(67.50,375.90) scale(1.03,1)" font-size="12" font-weight="bold" text-anchor="middle">-2</text>
<text transform="translate(107.10,375.90) scale(1.03,1)" font-size="12" font-weight="bold" text-anchor="middle">-1</text>
<text transform="translate(146.70,375.90) scale(1.03,1)" font-size="12" font-weight="bold" text-anchor="middle">0</text>
<text transform="translate(186.30,375.90) scale(1.03,1)" font-size="12" font-weight="bold" text-anchor="middle">1</text>
<text transform="translate(225.90,375.90) scale(1.03,1)" font-size="12" font-weight="bold" text-anchor="middle">2</text>
<text transform="translate(265.50,375.90) scale(1.03,1)" font-size="12" font-weight="bold" text-anchor="middle">3</text>
<text transform="translate(62.90,350.51) scale(1.08,1)" font-size="12" font-weight="bold" text-anchor="end">0.5</text>
<text transform="translate(62.90,323.37) scale(1.08,1)" font-size="12" font-weight="bold" text-anchor="end">1.0</text>
<text transform="translate(62.90,296.23) scale(1.08,1)" font-size="12" font-weight="bold" text-anchor="end">1.5</text>
<text transform="translate(62.90,269.09) scale(1.08,1)" font-size="12" font-weight="bold" text-anchor="end">2.0</text>
<text transform="translate(62.90,241.94) scale(1.08,1)" font-size="12" font-weight="bold" text-anchor="end">2.5</text>
<text transform="translate(62.90,214.80) scale(1.08,1)" font-size="12" font-weight="bold" text-anchor="end">3.0</text>
<g fill="none" stroke-width="1.9" stroke-linejoin="round" stroke-linecap="round">
<polyline points="341.5,280.3 343.5,280.8 345.4,281.3 347.4,281.8 349.4,282.3 351.4,282.8 353.3,283.4 355.3,283.9 357.3,284.5 359.2,285.1 361.2,285.8 363.2,286.5 365.1,287.2 367.1,287.9 369.1,288.7 371.1,289.6 373.0,290.4 375.0,291.3 377.0,292.3 378.9,293.2 380.9,294.2 382.9,295.2 384.8,296.2 386.8,297.3 388.8,298.4 390.8,299.4 392.7,300.5 394.7,301.7 396.7,302.8 398.6,303.9 400.6,305.0 402.6,306.2 404.5,307.3 406.5,308.4 408.5,309.5 410.4,310.7 412.4,311.8 414.4,312.9 416.4,314.0 418.3,315.1 420.3,316.1 422.3,317.1 424.2,318.1 426.2,319.1 428.2,320.0 430.1,320.8 432.1,321.6 434.1,322.3 436.1,322.9 438.0,323.4 440.0,323.8 442.0,324.1 443.9,324.2 445.9,324.2 447.9,324.2 449.9,324.1 451.8,323.7 453.8,323.1 455.8,322.2 457.7,321.2 459.7,319.9 461.7,318.5 463.6,316.9 465.6,315.2 467.6,313.2 469.6,311.2 471.5,309.0 473.5,306.7 475.5,304.3 477.4,301.9 479.4,299.5 481.4,297.1 483.3,294.7 485.3,292.4 487.3,290.2 489.2,288.0 491.2,285.9 493.2,283.9 495.2,282.1 497.1,280.3 499.1,278.7 501.1,277.2 503.0,275.7 505.0,274.5 507.0,273.3 508.9,272.2 510.9,271.2 512.9,270.3 514.9,269.5 516.8,268.8 518.8,268.1 520.8,267.4 522.7,266.8 524.7,266.2 526.7,265.6 528.6,265.1 530.6,264.6 532.6,264.1 534.6,263.6 536.5,263.1 538.5,262.6" stroke="#800000"/>
<polyline points="341.5,283.5 343.5,284.0 345.4,284.4 347.4,284.9 349.4,285.4 351.4,285.9 353.3,286.4 355.3,287.0 357.3,287.5 359.2,288.1 361.2,288.7 363.2,289.4 365.1,290.1 367.1,290.8 369.1,291.6 371.1,292.3 373.0,293.2 375.0,294.0 377.0,294.9 378.9,295.8 380.9,296.8 382.9,297.8 384.8,298.7 386.8,299.7 388.8,300.8 390.8,301.8 392.7,302.8 394.7,303.9 396.7,305.0 398.6,306.0 400.6,307.1 402.6,308.2 404.5,309.3 406.5,310.4 408.5,311.4 410.4,312.5 412.4,313.6 414.4,314.6 416.4,315.7 418.3,316.7 420.3,317.7 422.3,318.7 424.2,319.6 426.2,320.5 428.2,321.4 430.1,322.2 432.1,322.9 434.1,323.5 436.1,324.1 438.0,324.6 440.0,325.0 442.0,325.2 443.9,325.3 445.9,325.3 447.9,325.2 449.9,325.1 451.8,324.7 453.8,324.0 455.8,323.2 457.7,322.1 459.7,320.9 461.7,319.5 463.6,317.9 465.6,316.1 467.6,314.1 469.6,312.1 471.5,309.9 473.5,307.6 475.5,305.2 477.4,302.8 479.4,300.4 481.4,298.0 483.3,295.6 485.3,293.3 487.3,291.0 489.2,288.8 491.2,286.7 493.2,284.7 495.2,282.8 497.1,281.1 499.1,279.4 501.1,277.9 503.0,276.4 505.0,275.1 507.0,273.9 508.9,272.8 510.9,271.8 512.9,270.9 514.9,270.1 516.8,269.3 518.8,268.6 520.8,267.9 522.7,267.3 524.7,266.7 526.7,266.1 528.6,265.6 530.6,265.0 532.6,264.5 534.6,264.0 536.5,263.6 538.5,263.1" stroke="#008000"/>
<polyline points="341.5,287.6 343.5,288.0 345.4,288.5 347.4,288.9 349.4,289.4 351.4,289.9 353.3,290.3 355.3,290.9 357.3,291.4 359.2,291.9 361.2,292.5 363.2,293.1 365.1,293.7 367.1,294.4 369.1,295.1 371.1,295.9 373.0,296.6 375.0,297.4 377.0,298.3 378.9,299.1 380.9,300.0 382.9,300.9 384.8,301.8 386.8,302.7 388.8,303.7 390.8,304.7 392.7,305.6 394.7,306.6 396.7,307.6 398.6,308.6 400.6,309.6 402.6,310.6 404.5,311.6 406.5,312.6 408.5,313.6 410.4,314.6 412.4,315.6 414.4,316.6 416.4,317.6 418.3,318.5 420.3,319.5 422.3,320.4 424.2,321.2 426.2,322.1 428.2,322.8 430.1,323.6 432.1,324.2 434.1,324.8 436.1,325.4 438.0,325.8 440.0,326.1 442.0,326.3 443.9,326.4 445.9,326.3 447.9,326.2 449.9,326.1 451.8,325.7 453.8,325.0 455.8,324.1 457.7,323.1 459.7,321.8 461.7,320.4 463.6,318.8 465.6,317.0 467.6,315.0 469.6,313.0 471.5,310.7 473.5,308.4 475.5,306.1 477.4,303.7 479.4,301.3 481.4,298.8 483.3,296.5 485.3,294.1 487.3,291.8 489.2,289.6 491.2,287.5 493.2,285.5 495.2,283.6 497.1,281.8 499.1,280.1 501.1,278.6 503.0,277.1 505.0,275.8 507.0,274.6 508.9,273.5 510.9,272.4 512.9,271.5 514.9,270.7 516.8,269.9 518.8,269.1 520.8,268.4 522.7,267.8 524.7,267.2 526.7,266.6 528.6,266.0 530.6,265.5 532.6,265.0 534.6,264.5 536.5,264.0 538.5,263.5" stroke="#008080"/>
<polyline points="341.5,292.0 343.5,292.4 345.4,292.8 347.4,293.2 349.4,293.7 351.4,294.1 353.3,294.5 355.3,295.0 357.3,295.5 359.2,296.0 361.2,296.5 363.2,297.1 365.1,297.6 367.1,298.3 369.1,298.9 371.1,299.6 373.0,300.3 375.0,301.0 377.0,301.8 378.9,302.6 380.9,303.4 382.9,304.2 384.8,305.1 386.8,305.9 388.8,306.8 390.8,307.7 392.7,308.6 394.7,309.5 396.7,310.4 398.6,311.3 400.6,312.2 402.6,313.2 404.5,314.1 406.5,315.0 408.5,315.9 410.4,316.8 412.4,317.7 414.4,318.6 416.4,319.5 418.3,320.4 420.3,321.3 422.3,322.1 424.2,322.9 426.2,323.6 428.2,324.4 430.1,325.0 432.1,325.6 434.1,326.2 436.1,326.6 438.0,327.0 440.0,327.3 442.0,327.5 443.9,327.5 445.9,327.4 447.9,327.3 449.9,327.1 451.8,326.6 453.8,326.0 455.8,325.1 457.7,324.0 459.7,322.7 461.7,321.3 463.6,319.7 465.6,317.9 467.6,315.9 469.6,313.8 471.5,311.6 473.5,309.3 475.5,307.0 477.4,304.6 479.4,302.1 481.4,299.7 483.3,297.3 485.3,295.0 487.3,292.7 489.2,290.5 491.2,288.3 493.2,286.3 495.2,284.4 497.1,282.6 499.1,280.9 501.1,279.3 503.0,277.8 505.0,276.5 507.0,275.2 508.9,274.1 510.9,273.1 512.9,272.1 514.9,271.2 516.8,270.4 518.8,269.7 520.8,269.0 522.7,268.3 524.7,267.7 526.7,267.1 528.6,266.5 530.6,266.0 532.6,265.4 534.6,264.9 536.5,264.4 538.5,263.9" stroke="#0000A0"/>
<polyline points="341.5,296.9 343.5,297.3 345.4,297.6 347.4,298.0 349.4,298.4 351.4,298.8 353.3,299.2 355.3,299.6 357.3,300.0 359.2,300.5 361.2,301.0 363.2,301.5 365.1,302.0 367.1,302.5 369.1,303.1 371.1,303.7 373.0,304.4 375.0,305.0 377.0,305.7 378.9,306.4 380.9,307.1 382.9,307.9 384.8,308.7 386.8,309.4 388.8,310.2 390.8,311.0 392.7,311.8 394.7,312.6 396.7,313.4 398.6,314.3 400.6,315.1 402.6,315.9 404.5,316.7 406.5,317.6 408.5,318.4 410.4,319.2 412.4,320.0 414.4,320.8 416.4,321.6 418.3,322.4 420.3,323.2 422.3,323.9 424.2,324.6 426.2,325.3 428.2,325.9 430.1,326.5 432.1,327.0 434.1,327.5 436.1,327.9 438.0,328.2 440.0,328.5 442.0,328.6 443.9,328.6 445.9,328.5 447.9,328.3 449.9,328.1 451.8,327.6 453.8,326.9 455.8,326.0 457.7,324.9 459.7,323.7 461.7,322.2 463.6,320.6 465.6,318.8 467.6,316.8 469.6,314.7 471.5,312.5 473.5,310.2 475.5,307.9 477.4,305.4 479.4,303.0 481.4,300.6 483.3,298.2 485.3,295.8 487.3,293.5 489.2,291.3 491.2,289.1 493.2,287.1 495.2,285.2 497.1,283.3 499.1,281.6 501.1,280.0 503.0,278.5 505.0,277.2 507.0,275.9 508.9,274.7 510.9,273.7 512.9,272.7 514.9,271.8 516.8,271.0 518.8,270.2 520.8,269.5 522.7,268.8 524.7,268.2 526.7,267.6 528.6,267.0 530.6,266.4 532.6,265.9 534.6,265.4 536.5,264.9 538.5,264.3" stroke="#FF8000"/>
<polyline points="341.5,301.5 343.5,301.8 345.4,302.0 347.4,302.3 349.4,302.6 351.4,303.0 353.3,303.3 355.3,303.6 357.3,304.0 359.2,304.4 361.2,304.8 363.2,305.2 365.1,305.7 367.1,306.1 369.1,306.6 371.1,307.2 373.0,307.7 375.0,308.3 377.0,308.9 378.9,309.5 380.9,310.2 382.9,310.8 384.8,311.5 386.8,312.2 388.8,312.9 390.8,313.6 392.7,314.3 394.7,315.1 396.7,315.8 398.6,316.6 400.6,317.3 402.6,318.1 404.5,318.8 406.5,319.6 408.5,320.3 410.4,321.1 412.4,321.8 414.4,322.6 416.4,323.3 418.3,324.0 420.3,324.7 422.3,325.4 424.2,326.1 426.2,326.7 428.2,327.3 430.1,327.8 432.1,328.3 434.1,328.8 436.1,329.1 438.0,329.4 440.0,329.6 442.0,329.7 443.9,329.6 445.9,329.5 447.9,329.4 449.9,329.1 451.8,328.6 453.8,327.9 455.8,327.0 457.7,325.9 459.7,324.6 461.7,323.1 463.6,321.5 465.6,319.7 467.6,317.7 469.6,315.6 471.5,313.4 473.5,311.1 475.5,308.7 477.4,306.3 479.4,303.9 481.4,301.5 483.3,299.1 485.3,296.7 487.3,294.4 489.2,292.1 491.2,290.0 493.2,287.9 495.2,285.9 497.1,284.1 499.1,282.4 501.1,280.7 503.0,279.2 505.0,277.8 507.0,276.5 508.9,275.4 510.9,274.3 512.9,273.3 514.9,272.4 516.8,271.5 518.8,270.7 520.8,270.0 522.7,269.3 524.7,268.7 526.7,268.0 528.6,267.5 530.6,266.9 532.6,266.3 534.6,265.8 536.5,265.3 538.5,264.8" stroke="#8000FF"/>
<polyline points="341.5,310.6 343.5,310.7 345.4,310.9 347.4,311.0 349.4,311.2 351.4,311.4 353.3,311.6 355.3,311.8 357.3,312.0 359.2,312.3 361.2,312.5 363.2,312.8 365.1,313.1 367.1,313.4 369.1,313.8 371.1,314.1 373.0,314.5 375.0,314.9 377.0,315.3 378.9,315.8 380.9,316.2 382.9,316.7 384.8,317.2 386.8,317.7 388.8,318.2 390.8,318.7 392.7,319.2 394.7,319.8 396.7,320.3 398.6,320.9 400.6,321.5 402.6,322.0 404.5,322.6 406.5,323.2 408.5,323.7 410.4,324.3 412.4,324.9 414.4,325.5 416.4,326.0 418.3,326.6 420.3,327.1 422.3,327.7 424.2,328.2 426.2,328.7 428.2,329.1 430.1,329.5 432.1,329.9 434.1,330.2 436.1,330.5 438.0,330.7 440.0,330.8 442.0,330.8 443.9,330.7 445.9,330.6 447.9,330.4 449.9,330.1 451.8,329.6 453.8,328.8 455.8,327.9 457.7,326.8 459.7,325.5 461.7,324.0 463.6,322.4 465.6,320.6 467.6,318.6 469.6,316.5 471.5,314.3 473.5,312.0 475.5,309.6 477.4,307.2 479.4,304.8 481.4,302.3 483.3,299.9 485.3,297.5 487.3,295.2 489.2,292.9 491.2,290.8 493.2,288.7 495.2,286.7 497.1,284.8 499.1,283.1 501.1,281.4 503.0,279.9 505.0,278.5 507.0,277.2 508.9,276.0 510.9,274.9 512.9,273.9 514.9,272.9 516.8,272.1 518.8,271.3 520.8,270.5 522.7,269.8 524.7,269.2 526.7,268.5 528.6,267.9 530.6,267.3 532.6,266.8 534.6,266.2 536.5,265.7 538.5,265.2" stroke="#FF0080"/>
<polyline points="341.5,318.0 343.5,318.1 345.4,318.1 347.4,318.2 349.4,318.3 351.4,318.4 353.3,318.5 355.3,318.7 357.3,318.8 359.2,318.9 361.2,319.1 363.2,319.3 365.1,319.5 367.1,319.7 369.1,319.9 371.1,320.1 373.0,320.4 375.0,320.6 377.0,320.9 378.9,321.2 380.9,321.5 382.9,321.9 384.8,322.2 386.8,322.5 388.8,322.9 390.8,323.3 392.7,323.6 394.7,324.0 396.7,324.4 398.6,324.8 400.6,325.2 402.6,325.6 404.5,326.0 406.5,326.4 408.5,326.9 410.4,327.3 412.4,327.7 414.4,328.1 416.4,328.6 418.3,329.0 420.3,329.4 422.3,329.8 424.2,330.2 426.2,330.5 428.2,330.8 430.1,331.1 432.1,331.4 434.1,331.6 436.1,331.8 438.0,331.9 440.0,332.0 442.0,332.0 443.9,331.8 445.9,331.7 447.9,331.4 449.9,331.1 451.8,330.6 453.8,329.8 455.8,328.9 457.7,327.7 459.7,326.4 461.7,325.0 463.6,323.3 465.6,321.5 467.6,319.5 469.6,317.4 471.5,315.2 473.5,312.9 475.5,310.5 477.4,308.1 479.4,305.6 481.4,303.2 483.3,300.8 485.3,298.4 487.3,296.0 489.2,293.8 491.2,291.6 493.2,289.5 495.2,287.5 497.1,285.6 499.1,283.8 501.1,282.2 503.0,280.6 505.0,279.2 507.0,277.8 508.9,276.6 510.9,275.5 512.9,274.5 514.9,273.5 516.8,272.6 518.8,271.8 520.8,271.0 522.7,270.3 524.7,269.6 526.7,269.0 528.6,268.4 530.6,267.8 532.6,267.2 534.6,266.7 536.5,266.2 538.5,265.6" stroke="#FFFFFF"/>
<polyline points="341.5,326.3 343.5,326.3 345.4,326.3 347.4,326.4 349.4,326.4 351.4,326.5 353.3,326.5 355.3,326.6 357.3,326.6 359.2,326.7 361.2,326.7 363.2,326.8 365.1,326.9 367.1,327.0 369.1,327.1 371.1,327.2 373.0,327.4 375.0,327.5 377.0,327.6 378.9,327.8 380.9,327.9 382.9,328.1 384.8,328.3 386.8,328.4 388.8,328.6 390.8,328.8 392.7,329.0 394.7,329.2 396.7,329.4 398.6,329.6 400.6,329.8 402.6,330.0 404.5,330.2 406.5,330.5 408.5,330.7 410.4,330.9 412.4,331.1 414.4,331.4 416.4,331.6 418.3,331.8 420.3,332.0 422.3,332.3 424.2,332.5 426.2,332.6 428.2,332.8 430.1,332.9 432.1,333.1 434.1,333.2 436.1,333.2 438.0,333.2 440.0,333.2 442.0,333.1 443.9,332.9 445.9,332.7 447.9,332.5 449.9,332.1 451.8,331.6 453.8,330.8 455.8,329.8 457.7,328.7 459.7,327.4 461.7,325.9 463.6,324.2 465.6,322.4 467.6,320.4 469.6,318.3 471.5,316.1 473.5,313.8 475.5,311.4 477.4,309.0 479.4,306.5 481.4,304.1 483.3,301.6 485.3,299.2 487.3,296.9 489.2,294.6 491.2,292.4 493.2,290.3 495.2,288.3 497.1,286.4 499.1,284.6 501.1,282.9 503.0,281.3 505.0,279.8 507.0,278.5 508.9,277.3 510.9,276.1 512.9,275.1 514.9,274.1 516.8,273.2 518.8,272.3 520.8,271.6 522.7,270.8 524.7,270.1 526.7,269.5 528.6,268.9 530.6,268.3 532.6,267.7 534.6,267.1 536.5,266.6 538.5,266.0" stroke="#C0C0C0"/>
<polyline points="341.5,333.5 343.5,333.5 345.4,333.5 347.4,333.5 349.4,333.5 351.4,333.5 353.3,333.5 355.3,333.5 357.3,333.5 359.2,333.5 361.2,333.6 363.2,333.6 365.1,333.6 367.1,333.6 369.1,333.6 371.1,333.7 373.0,333.7 375.0,333.7 377.0,333.7 378.9,333.8 380.9,333.8 382.9,333.8 384.8,333.9 386.8,333.9 388.8,334.0 390.8,334.0 392.7,334.0 394.7,334.1 396.7,334.1 398.6,334.2 400.6,334.2 402.6,334.3 404.5,334.3 406.5,334.3 408.5,334.4 410.4,334.4 412.4,334.5 414.4,334.5 416.4,334.6 418.3,334.6 420.3,334.7 422.3,334.7 424.2,334.7 426.2,334.7 428.2,334.7 430.1,334.7 432.1,334.7 434.1,334.7 436.1,334.6 438.0,334.5 440.0,334.4 442.0,334.2 443.9,334.0 445.9,333.8 447.9,333.5 449.9,333.1 451.8,332.5 453.8,331.7 455.8,330.8 457.7,329.6 459.7,328.3 461.7,326.8 463.6,325.1 465.6,323.3 467.6,321.3 469.6,319.2 471.5,317.0 473.5,314.7 475.5,312.3 477.4,309.9 479.4,307.4 481.4,304.9 483.3,302.5 485.3,300.1 487.3,297.7 489.2,295.4 491.2,293.2 493.2,291.1 495.2,289.0 497.1,287.1 499.1,285.3 501.1,283.6 503.0,282.0 505.0,280.5 507.0,279.1 508.9,277.9 510.9,276.7 512.9,275.6 514.9,274.7 516.8,273.7 518.8,272.9 520.8,272.1 522.7,271.3 524.7,270.6 526.7,270.0 528.6,269.3 530.6,268.7 532.6,268.1 534.6,267.6 536.5,267.0 538.5,266.5" stroke="#808080"/>
<polyline points="341.5,340.0 343.5,340.0 345.4,340.0 347.4,340.0 349.4,340.0 351.4,339.9 353.3,339.9 355.3,339.9 357.3,339.9 359.2,339.8 361.2,339.8 363.2,339.7 365.1,339.7 367.1,339.7 369.1,339.6 371.1,339.5 373.0,339.5 375.0,339.4 377.0,339.4 378.9,339.3 380.9,339.2 382.9,339.1 384.8,339.0 386.8,339.0 388.8,338.9 390.8,338.8 392.7,338.7 394.7,338.6 396.7,338.5 398.6,338.4 400.6,338.3 402.6,338.2 404.5,338.1 406.5,338.0 408.5,337.8 410.4,337.7 412.4,337.6 414.4,337.5 416.4,337.4 418.3,337.3 420.3,337.2 422.3,337.1 424.2,337.0 426.2,336.8 428.2,336.7 430.1,336.5 432.1,336.4 434.1,336.2 436.1,336.1 438.0,335.9 440.0,335.6 442.0,335.4 443.9,335.2 445.9,334.9 447.9,334.6 449.9,334.1 451.8,333.5 453.8,332.7 455.8,331.7 457.7,330.6 459.7,329.2 461.7,327.7 463.6,326.0 465.6,324.2 467.6,322.2 469.6,320.1 471.5,317.9 473.5,315.6 475.5,313.2 477.4,310.7 479.4,308.3 481.4,305.8 483.3,303.4 485.3,300.9 487.3,298.6 489.2,296.2 491.2,294.0 493.2,291.9 495.2,289.8 497.1,287.9 499.1,286.0 501.1,284.3 503.0,282.7 505.0,281.2 507.0,279.8 508.9,278.5 510.9,277.3 512.9,276.2 514.9,275.2 516.8,274.3 518.8,273.4 520.8,272.6 522.7,271.8 524.7,271.1 526.7,270.4 528.6,269.8 530.6,269.2 532.6,268.6 534.6,268.0 536.5,267.5 538.5,266.9" stroke="#FFFF80"/>
<polyline points="341.5,344.8 343.5,344.8 345.4,344.8 347.4,344.8 349.4,344.8 351.4,344.7 353.3,344.7 355.3,344.6 357.3,344.6 359.2,344.5 361.2,344.4 363.2,344.3 365.1,344.2 367.1,344.1 369.1,344.0 371.1,343.8 373.0,343.7 375.0,343.6 377.0,343.4 378.9,343.3 380.9,343.1 382.9,342.9 384.8,342.8 386.8,342.6 388.8,342.4 390.8,342.2 392.7,342.0 394.7,341.9 396.7,341.7 398.6,341.5 400.6,341.3 402.6,341.1 404.5,340.8 406.5,340.6 408.5,340.4 410.4,340.2 412.4,340.0 414.4,339.8 416.4,339.6 418.3,339.4 420.3,339.2 422.3,339.1 424.2,338.9 426.2,338.6 428.2,338.4 430.1,338.2 432.1,338.0 434.1,337.8 436.1,337.5 438.0,337.3 440.0,337.0 442.0,336.7 443.9,336.4 445.9,336.0 447.9,335.6 449.9,335.2 451.8,334.5 453.8,333.7 455.8,332.7 457.7,331.5 459.7,330.1 461.7,328.6 463.6,327.0 465.6,325.1 467.6,323.1 469.6,321.0 471.5,318.8 473.5,316.5 475.5,314.1 477.4,311.6 479.4,309.2 481.4,306.7 483.3,304.2 485.3,301.8 487.3,299.4 489.2,297.1 491.2,294.8 493.2,292.7 495.2,290.6 497.1,288.6 499.1,286.8 501.1,285.0 503.0,283.4 505.0,281.9 507.0,280.5 508.9,279.1 510.9,277.9 512.9,276.8 514.9,275.8 516.8,274.8 518.8,274.0 520.8,273.1 522.7,272.4 524.7,271.6 526.7,270.9 528.6,270.3 530.6,269.6 532.6,269.0 534.6,268.5 536.5,267.9 538.5,267.3" stroke="#80FFFF"/>
<polyline points="341.5,349.8 343.5,349.8 345.4,349.8 347.4,349.8 349.4,349.8 351.4,349.7 353.3,349.7 355.3,349.6 357.3,349.5 359.2,349.3 361.2,349.2 363.2,349.1 365.1,348.9 367.1,348.7 369.1,348.5 371.1,348.3 373.0,348.1 375.0,347.9 377.0,347.7 378.9,347.5 380.9,347.2 382.9,347.0 384.8,346.7 386.8,346.4 388.8,346.1 390.8,345.9 392.7,345.6 394.7,345.3 396.7,345.0 398.6,344.7 400.6,344.4 402.6,344.1 404.5,343.8 406.5,343.5 408.5,343.1 410.4,342.8 412.4,342.5 414.4,342.2 416.4,341.9 418.3,341.7 420.3,341.4 422.3,341.1 424.2,340.8 426.2,340.5 428.2,340.2 430.1,339.9 432.1,339.6 434.1,339.3 436.1,339.0 438.0,338.6 440.0,338.3 442.0,337.9 443.9,337.5 445.9,337.1 447.9,336.7 449.9,336.2 451.8,335.5 453.8,334.6 455.8,333.6 457.7,332.4 459.7,331.1 461.7,329.5 463.6,327.9 465.6,326.0 467.6,324.0 469.6,321.9 471.5,319.7 473.5,317.4 475.5,315.0 477.4,312.5 479.4,310.0 481.4,307.6 483.3,305.1 485.3,302.6 487.3,300.2 489.2,297.9 491.2,295.6 493.2,293.5 495.2,291.4 497.1,289.4 499.1,287.5 501.1,285.7 503.0,284.1 505.0,282.5 507.0,281.1 508.9,279.8 510.9,278.5 512.9,277.4 514.9,276.4 516.8,275.4 518.8,274.5 520.8,273.6 522.7,272.9 524.7,272.1 526.7,271.4 528.6,270.7 530.6,270.1 532.6,269.5 534.6,268.9 536.5,268.3 538.5,267.7" stroke="#FF80FF"/>
<polyline points="341.5,353.3 343.5,353.3 345.4,353.3 347.4,353.3 349.4,353.2 351.4,353.2 353.3,353.1 355.3,353.0 357.3,352.9 359.2,352.8 361.2,352.6 363.2,352.4 365.1,352.2 367.1,352.0 369.1,351.8 371.1,351.5 373.0,351.3 375.0,351.0 377.0,350.7 378.9,350.5 380.9,350.2 382.9,349.9 384.8,349.5 386.8,349.2 388.8,348.9 390.8,348.5 392.7,348.2 394.7,347.8 396.7,347.5 398.6,347.1 400.6,346.7 402.6,346.4 404.5,346.0 406.5,345.6 408.5,345.3 410.4,344.9 412.4,344.5 414.4,344.2 416.4,343.8 418.3,343.5 420.3,343.1 422.3,342.8 424.2,342.4 426.2,342.1 428.2,341.8 430.1,341.4 432.1,341.1 434.1,340.7 436.1,340.3 438.0,339.9 440.0,339.5 442.0,339.1 443.9,338.7 445.9,338.2 447.9,337.8 449.9,337.2 451.8,336.5 453.8,335.6 455.8,334.6 457.7,333.4 459.7,332.0 461.7,330.5 463.6,328.8 465.6,326.9 467.6,324.9 469.6,322.8 471.5,320.6 473.5,318.2 475.5,315.8 477.4,313.4 479.4,310.9 481.4,308.4 483.3,305.9 485.3,303.5 487.3,301.1 489.2,298.7 491.2,296.4 493.2,294.2 495.2,292.1 497.1,290.1 499.1,288.3 501.1,286.5 503.0,284.8 505.0,283.2 507.0,281.8 508.9,280.4 510.9,279.2 512.9,278.0 514.9,276.9 516.8,275.9 518.8,275.0 520.8,274.2 522.7,273.4 524.7,272.6 526.7,271.9 528.6,271.2 530.6,270.6 532.6,269.9 534.6,269.3 536.5,268.8 538.5,268.2" stroke="#404040"/>
<polyline points="341.5,354.5 343.5,354.5 345.4,354.5 347.4,354.5 349.4,354.4 351.4,354.4 353.3,354.3 355.3,354.2 357.3,354.1 359.2,354.0 361.2,353.8 363.2,353.6 365.1,353.4 367.1,353.2 369.1,353.0 371.1,352.7 373.0,352.5 375.0,352.2 377.0,352.0 378.9,351.7 380.9,351.4 382.9,351.1 384.8,350.7 386.8,350.4 388.8,350.1 390.8,349.7 392.7,349.4 394.7,349.0 396.7,348.7 398.6,348.3 400.6,347.9 402.6,347.6 404.5,347.2 406.5,346.8 408.5,346.5 410.4,346.1 412.4,345.7 414.4,345.4 416.4,345.0 418.3,344.7 420.3,344.3 422.3,344.0 424.2,343.6 426.2,343.3 428.2,343.0 430.1,342.6 432.1,342.2 434.1,341.9 436.1,341.5 438.0,341.1 440.0,340.7 442.0,340.2 443.9,339.8 445.9,339.3 447.9,338.8 449.9,338.2 451.8,337.5 453.8,336.6 455.8,335.5 457.7,334.3 459.7,332.9 461.7,331.4 463.6,329.7 465.6,327.8 467.6,325.8 469.6,323.7 471.5,321.5 473.5,319.1 475.5,316.7 477.4,314.3 479.4,311.8 481.4,309.3 483.3,306.8 485.3,304.3 487.3,301.9 489.2,299.6 491.2,297.3 493.2,295.0 495.2,292.9 497.1,290.9 499.1,289.0 501.1,287.2 503.0,285.5 505.0,283.9 507.0,282.4 508.9,281.0 510.9,279.8 512.9,278.6 514.9,277.5 516.8,276.5 518.8,275.6 520.8,274.7 522.7,273.9 524.7,273.1 526.7,272.4 528.6,271.7 530.6,271.0 532.6,270.4 534.6,269.8 536.5,269.2 538.5,268.6" stroke="#000000"/>
<polyline points="341.5,355.8 343.5,355.8 345.4,355.8 347.4,355.8 349.4,355.7 351.4,355.7 353.3,355.6 355.3,355.5 357.3,355.4 359.2,355.2 361.2,355.1 363.2,354.9 365.1,354.7 367.1,354.5 369.1,354.3 371.1,354.0 373.0,353.8 375.0,353.5 377.0,353.2 378.9,353.0 380.9,352.7 382.9,352.3 384.8,352.0 386.8,351.7 388.8,351.4 390.8,351.0 392.7,350.7 394.7,350.3 396.7,350.0 398.6,349.6 400.6,349.2 402.6,348.8 404.5,348.5 406.5,348.1 408.5,347.7 410.4,347.4 412.4,347.0 414.4,346.6 416.4,346.3 418.3,345.9 420.3,345.6 422.3,345.2 424.2,344.9 426.2,344.5 428.2,344.2 430.1,343.8 432.1,343.4 434.1,343.0 436.1,342.6 438.0,342.2 440.0,341.8 442.0,341.4 443.9,340.9 445.9,340.4 447.9,339.8 449.9,339.2 451.8,338.5 453.8,337.5 455.8,336.5 457.7,335.2 459.7,333.8 461.7,332.3 463.6,330.6 465.6,328.7 467.6,326.7 469.6,324.6 471.5,322.4 473.5,320.0 475.5,317.6 477.4,315.2 479.4,312.7 481.4,310.2 483.3,307.7 485.3,305.2 487.3,302.8 489.2,300.4 491.2,298.1 493.2,295.8 495.2,293.7 497.1,291.7 499.1,289.7 501.1,287.9 503.0,286.2 505.0,284.6 507.0,283.1 508.9,281.7 510.9,280.4 512.9,279.2 514.9,278.1 516.8,277.1 518.8,276.1 520.8,275.2 522.7,274.4 524.7,273.6 526.7,272.9 528.6,272.2 530.6,271.5 532.6,270.8 534.6,270.2 536.5,269.6 538.5,269.0" stroke="#FF0000"/>
<polyline points="341.5,356.6 343.5,356.6 345.4,356.6 347.4,356.6 349.4,356.5 351.4,356.5 353.3,356.4 355.3,356.3 357.3,356.2 359.2,356.1 361.2,355.9 363.2,355.7 365.1,355.5 367.1,355.3 369.1,355.1 371.1,354.9 373.0,354.6 375.0,354.4 377.0,354.1 378.9,353.9 380.9,353.6 382.9,353.3 384.8,353.0 386.8,352.6 388.8,352.3 390.8,352.0 392.7,351.6 394.7,351.3 396.7,350.9 398.6,350.6 400.6,350.2 402.6,349.9 404.5,349.5 406.5,349.1 408.5,348.8 410.4,348.4 412.4,348.1 414.4,347.7 416.4,347.4 418.3,347.0 420.3,346.7 422.3,346.3 424.2,346.0 426.2,345.6 428.2,345.3 430.1,344.9 432.1,344.6 434.1,344.2 436.1,343.8 438.0,343.3 440.0,342.9 442.0,342.4 443.9,342.0 445.9,341.4 447.9,340.9 449.9,340.2 451.8,339.4 453.8,338.5 455.8,337.4 457.7,336.2 459.7,334.8 461.7,333.2 463.6,331.5 465.6,329.7 467.6,327.6 469.6,325.5 471.5,323.3 473.5,320.9 475.5,318.5 477.4,316.0 479.4,313.5 481.4,311.0 483.3,308.5 485.3,306.1 487.3,303.6 489.2,301.2 491.2,298.9 493.2,296.6 495.2,294.5 497.1,292.4 499.1,290.5 501.1,288.6 503.0,286.9 505.0,285.2 507.0,283.7 508.9,282.3 510.9,281.0 512.9,279.8 514.9,278.7 516.8,277.6 518.8,276.6 520.8,275.7 522.7,274.9 524.7,274.1 526.7,273.3 528.6,272.6 530.6,272.0 532.6,271.3 534.6,270.7 536.5,270.1 538.5,269.4" stroke="#00FF00"/>
<polyline points="341.5,357.3 343.5,357.3 345.4,357.3 347.4,357.3 349.4,357.2 351.4,357.2 353.3,357.1 355.3,357.0 357.3,356.9 359.2,356.8 361.2,356.6 363.2,356.5 365.1,356.3 367.1,356.1 369.1,355.9 371.1,355.7 373.0,355.4 375.0,355.2 377.0,354.9 378.9,354.7 380.9,354.4 382.9,354.1 384.8,353.8 386.8,353.5 388.8,353.2 390.8,352.9 392.7,352.6 394.7,352.2 396.7,351.9 398.6,351.5 400.6,351.2 402.6,350.8 404.5,350.5 406.5,350.1 408.5,349.8 410.4,349.5 412.4,349.1 414.4,348.8 416.4,348.4 418.3,348.1 420.3,347.8 422.3,347.4 424.2,347.1 426.2,346.8 428.2,346.4 430.1,346.0 432.1,345.7 434.1,345.3 436.1,344.9 438.0,344.5 440.0,344.0 442.0,343.5 443.9,343.0 445.9,342.5 447.9,341.9 449.9,341.2 451.8,340.4 453.8,339.5 455.8,338.4 457.7,337.1 459.7,335.7 461.7,334.1 463.6,332.4 465.6,330.6 467.6,328.5 469.6,326.4 471.5,324.2 473.5,321.8 475.5,319.4 477.4,316.9 479.4,314.4 481.4,311.9 483.3,309.4 485.3,306.9 487.3,304.4 489.2,302.0 491.2,299.7 493.2,297.4 495.2,295.2 497.1,293.2 499.1,291.2 501.1,289.3 503.0,287.6 505.0,285.9 507.0,284.4 508.9,282.9 510.9,281.6 512.9,280.4 514.9,279.2 516.8,278.2 518.8,277.2 520.8,276.2 522.7,275.4 524.7,274.6 526.7,273.8 528.6,273.1 530.6,272.4 532.6,271.8 534.6,271.1 536.5,270.5 538.5,269.9" stroke="#0000FF"/>
<polyline points="341.5,357.7 343.5,357.7 345.4,357.7 347.4,357.6 349.4,357.6 351.4,357.6 353.3,357.5 355.3,357.4 357.3,357.3 359.2,357.2 361.2,357.1 363.2,356.9 365.1,356.7 367.1,356.6 369.1,356.4 371.1,356.2 373.0,356.0 375.0,355.7 377.0,355.5 378.9,355.3 380.9,355.0 382.9,354.7 384.8,354.5 386.8,354.2 388.8,353.9 390.8,353.6 392.7,353.3 394.7,353.0 396.7,352.7 398.6,352.3 400.6,352.0 402.6,351.7 404.5,351.4 406.5,351.0 408.5,350.7 410.4,350.4 412.4,350.0 414.4,349.7 416.4,349.4 418.3,349.1 420.3,348.8 422.3,348.5 424.2,348.1 426.2,347.8 428.2,347.5 430.1,347.1 432.1,346.8 434.1,346.4 436.1,346.0 438.0,345.6 440.0,345.1 442.0,344.6 443.9,344.1 445.9,343.5 447.9,342.9 449.9,342.2 451.8,341.4 453.8,340.4 455.8,339.3 457.7,338.1 459.7,336.6 461.7,335.1 463.6,333.3 465.6,331.5 467.6,329.4 469.6,327.3 471.5,325.1 473.5,322.7 475.5,320.3 477.4,317.8 479.4,315.3 481.4,312.8 483.3,310.3 485.3,307.8 487.3,305.3 489.2,302.9 491.2,300.5 493.2,298.2 495.2,296.0 497.1,293.9 499.1,291.9 501.1,290.0 503.0,288.3 505.0,286.6 507.0,285.0 508.9,283.6 510.9,282.2 512.9,281.0 514.9,279.8 516.8,278.7 518.8,277.7 520.8,276.8 522.7,275.9 524.7,275.1 526.7,274.3 528.6,273.6 530.6,272.9 532.6,272.2 534.6,271.6 536.5,270.9 538.5,270.3" stroke="#00FFFF"/>
<polyline points="341.5,358.0 343.5,358.0 345.4,358.0 347.4,357.9 349.4,357.9 351.4,357.9 353.3,357.8 355.3,357.7 357.3,357.6 359.2,357.5 361.2,357.4 363.2,357.3 365.1,357.1 367.1,357.0 369.1,356.8 371.1,356.6 373.0,356.4 375.0,356.2 377.0,356.0 378.9,355.8 380.9,355.5 382.9,355.3 384.8,355.0 386.8,354.8 388.8,354.5 390.8,354.2 392.7,353.9 394.7,353.7 396.7,353.4 398.6,353.1 400.6,352.8 402.6,352.5 404.5,352.2 406.5,351.9 408.5,351.6 410.4,351.3 412.4,351.0 414.4,350.7 416.4,350.4 418.3,350.1 420.3,349.8 422.3,349.5 424.2,349.2 426.2,348.9 428.2,348.5 430.1,348.2 432.1,347.8 434.1,347.5 436.1,347.1 438.0,346.6 440.0,346.2 442.0,345.7 443.9,345.2 445.9,344.6 447.9,344.0 449.9,343.2 451.8,342.4 453.8,341.4 455.8,340.3 457.7,339.0 459.7,337.6 461.7,336.0 463.6,334.2 465.6,332.4 467.6,330.3 469.6,328.2 471.5,325.9 473.5,323.6 475.5,321.2 477.4,318.7 479.4,316.2 481.4,313.7 483.3,311.1 485.3,308.6 487.3,306.1 489.2,303.7 491.2,301.3 493.2,299.0 495.2,296.8 497.1,294.7 499.1,292.7 501.1,290.8 503.0,289.0 505.0,287.3 507.0,285.7 508.9,284.2 510.9,282.8 512.9,281.5 514.9,280.4 516.8,279.3 518.8,278.2 520.8,277.3 522.7,276.4 524.7,275.6 526.7,274.8 528.6,274.0 530.6,273.3 532.6,272.7 534.6,272.0 536.5,271.4 538.5,270.7" stroke="#FF00FF"/>
<polyline points="341.5,358.2 343.5,358.2 345.4,358.2 347.4,358.1 349.4,358.1 351.4,358.1 353.3,358.0 355.3,358.0 357.3,357.9 359.2,357.8 361.2,357.7 363.2,357.5 365.1,357.4 367.1,357.2 369.1,357.1 371.1,356.9 373.0,356.8 375.0,356.6 377.0,356.4 378.9,356.2 380.9,356.0 382.9,355.8 384.8,355.5 386.8,355.3 388.8,355.1 390.8,354.8 392.7,354.6 394.7,354.3 396.7,354.0 398.6,353.8 400.6,353.5 402.6,353.2 404.5,352.9 406.5,352.7 408.5,352.4 410.4,352.1 412.4,351.8 414.4,351.5 416.4,351.3 418.3,351.0 420.3,350.7 422.3,350.5 424.2,350.2 426.2,349.9 428.2,349.6 430.1,349.2 432.1,348.9 434.1,348.5 436.1,348.1 438.0,347.7 440.0,347.3 442.0,346.8 443.9,346.2 445.9,345.6 447.9,345.0 449.9,344.2 451.8,343.4 453.8,342.4 455.8,341.2 457.7,339.9 459.7,338.5 461.7,336.9 463.6,335.2 465.6,333.3 467.6,331.2 469.6,329.1 471.5,326.8 473.5,324.5 475.5,322.1 477.4,319.6 479.4,317.1 481.4,314.5 483.3,312.0 485.3,309.5 487.3,307.0 489.2,304.5 491.2,302.1 493.2,299.8 495.2,297.6 497.1,295.4 499.1,293.4 501.1,291.5 503.0,289.7 505.0,287.9 507.0,286.3 508.9,284.8 510.9,283.4 512.9,282.1 514.9,280.9 516.8,279.8 518.8,278.8 520.8,277.8 522.7,276.9 524.7,276.1 526.7,275.3 528.6,274.5 530.6,273.8 532.6,273.1 534.6,272.4 536.5,271.8 538.5,271.1" stroke="#FFFF00"/>
<polyline points="341.5,358.4 343.5,358.4 345.4,358.4 347.4,358.3 349.4,358.3 351.4,358.3 353.3,358.2 355.3,358.2 357.3,358.1 359.2,358.0 361.2,357.9 363.2,357.8 365.1,357.7 367.1,357.5 369.1,357.4 371.1,357.3 373.0,357.1 375.0,357.0 377.0,356.8 378.9,356.6 380.9,356.4 382.9,356.2 384.8,356.0 386.8,355.8 388.8,355.6 390.8,355.4 392.7,355.2 394.7,354.9 396.7,354.7 398.6,354.5 400.6,354.2 402.6,354.0 404.5,353.7 406.5,353.5 408.5,353.2 410.4,352.9 412.4,352.7 414.4,352.4 416.4,352.2 418.3,351.9 420.3,351.7 422.3,351.4 424.2,351.2 426.2,350.9 428.2,350.6 430.1,350.3 432.1,350.0 434.1,349.6 436.1,349.2 438.0,348.8 440.0,348.3 442.0,347.8 443.9,347.3 445.9,346.7 447.9,346.0 449.9,345.3 451.8,344.4 453.8,343.3 455.8,342.2 457.7,340.9 459.7,339.4 461.7,337.8 463.6,336.1 465.6,334.2 467.6,332.1 469.6,330.0 471.5,327.7 473.5,325.4 475.5,322.9 477.4,320.5 479.4,317.9 481.4,315.4 483.3,312.8 485.3,310.3 487.3,307.8 489.2,305.3 491.2,302.9 493.2,300.6 495.2,298.4 497.1,296.2 499.1,294.1 501.1,292.2 503.0,290.3 505.0,288.6 507.0,287.0 508.9,285.5 510.9,284.0 512.9,282.7 514.9,281.5 516.8,280.4 518.8,279.3 520.8,278.3 522.7,277.4 524.7,276.6 526.7,275.7 528.6,275.0 530.6,274.3 532.6,273.6 534.6,272.9 536.5,272.2 538.5,271.6" stroke="#808000"/>
<polyline points="341.5,358.6 343.5,358.6 345.4,358.6 347.4,358.5 349.4,358.5 351.4,358.5 353.3,358.4 355.3,358.4 357.3,358.3 359.2,358.2 361.2,358.2 363.2,358.1 365.1,358.0 367.1,357.9 369.1,357.7 371.1,357.6 373.0,357.5 375.0,357.4 377.0,357.2 378.9,357.1 380.9,356.9 382.9,356.7 384.8,356.6 386.8,356.4 388.8,356.2 390.8,356.0 392.7,355.8 394.7,355.6 396.7,355.4 398.6,355.2 400.6,355.0 402.6,354.7 404.5,354.5 406.5,354.3 408.5,354.1 410.4,353.8 412.4,353.6 414.4,353.4 416.4,353.1 418.3,352.9 420.3,352.7 422.3,352.5 424.2,352.2 426.2,351.9 428.2,351.7 430.1,351.4 432.1,351.0 434.1,350.7 436.1,350.3 438.0,349.9 440.0,349.4 442.0,348.9 443.9,348.4 445.9,347.7 447.9,347.0 449.9,346.3 451.8,345.4 453.8,344.3 455.8,343.1 457.7,341.8 459.7,340.3 461.7,338.7 463.6,337.0 465.6,335.1 467.6,333.0 469.6,330.9 471.5,328.6 473.5,326.3 475.5,323.8 477.4,321.3 479.4,318.8 481.4,316.3 483.3,313.7 485.3,311.2 487.3,308.6 489.2,306.2 491.2,303.7 493.2,301.4 495.2,299.1 497.1,297.0 499.1,294.9 501.1,292.9 503.0,291.0 505.0,289.3 507.0,287.6 508.9,286.1 510.9,284.7 512.9,283.3 514.9,282.1 516.8,280.9 518.8,279.8 520.8,278.8 522.7,277.9 524.7,277.0 526.7,276.2 528.6,275.5 530.6,274.7 532.6,274.0 534.6,273.3 536.5,272.7 538.5,272.0" stroke="#000080"/>
<polyline points="341.5,358.8 343.5,358.8 345.4,358.8 347.4,358.7 349.4,358.7 351.4,358.7 353.3,358.6 355.3,358.6 357.3,358.5 359.2,358.5 361.2,358.4 363.2,358.3 365.1,358.3 367.1,358.2 369.1,358.1 371.1,358.0 373.0,357.9 375.0,357.8 377.0,357.7 378.9,357.5 380.9,357.4 382.9,357.3 384.8,357.1 386.8,357.0 388.8,356.8 390.8,356.6 392.7,356.5 394.7,356.3 396.7,356.1 398.6,355.9 400.6,355.7 402.6,355.5 404.5,355.3 406.5,355.1 408.5,354.9 410.4,354.7 412.4,354.5 414.4,354.3 416.4,354.1 418.3,353.9 420.3,353.7 422.3,353.5 424.2,353.2 426.2,353.0 428.2,352.7 430.1,352.4 432.1,352.1 434.1,351.8 436.1,351.4 438.0,351.0 440.0,350.5 442.0,350.0 443.9,349.4 445.9,348.8 447.9,348.1 449.9,347.3 451.8,346.3 453.8,345.3 455.8,344.1 457.7,342.7 459.7,341.3 461.7,339.6 463.6,337.9 465.6,336.0 467.6,334.0 469.6,331.8 471.5,329.5 473.5,327.2 475.5,324.7 477.4,322.2 479.4,319.7 481.4,317.1 483.3,314.6 485.3,312.0 487.3,309.5 489.2,307.0 491.2,304.6 493.2,302.2 495.2,299.9 497.1,297.7 499.1,295.6 501.1,293.6 503.0,291.7 505.0,290.0 507.0,288.3 508.9,286.7 510.9,285.3 512.9,283.9 514.9,282.6 516.8,281.5 518.8,280.4 520.8,279.4 522.7,278.4 524.7,277.5 526.7,276.7 528.6,275.9 530.6,275.2 532.6,274.5 534.6,273.8 536.5,273.1 538.5,272.4" stroke="#800080"/>
<polyline points="341.5,359.0 343.5,359.0 345.4,359.0 347.4,358.9 349.4,358.9 351.4,358.9 353.3,358.8 355.3,358.8 357.3,358.8 359.2,358.7 361.2,358.7 363.2,358.6 365.1,358.5 367.1,358.5 369.1,358.4 371.1,358.3 373.0,358.3 375.0,358.2 377.0,358.1 378.9,358.0 380.9,357.9 382.9,357.8 384.8,357.7 386.8,357.5 388.8,357.4 390.8,357.3 392.7,357.1 394.7,357.0 396.7,356.8 398.6,356.7 400.6,356.5 402.6,356.3 404.5,356.2 406.5,356.0 408.5,355.8 410.4,355.6 412.4,355.4 414.4,355.3 416.4,355.1 418.3,354.9 420.3,354.7 422.3,354.5 424.2,354.3 426.2,354.0 428.2,353.8 430.1,353.5 432.1,353.2 434.1,352.8 436.1,352.5 438.0,352.0 440.0,351.6 442.0,351.1 443.9,350.5 445.9,349.8 447.9,349.1 449.9,348.3 451.8,347.3 453.8,346.2 455.8,345.0 457.7,343.7 459.7,342.2 461.7,340.6 463.6,338.8 465.6,336.9 467.6,334.9 469.6,332.7 471.5,330.4 473.5,328.1 475.5,325.6 477.4,323.1 479.4,320.6 481.4,318.0 483.3,315.4 485.3,312.9 487.3,310.3 489.2,307.8 491.2,305.4 493.2,303.0 495.2,300.7 497.1,298.5 499.1,296.4 501.1,294.3 503.0,292.4 505.0,290.6 507.0,288.9 508.9,287.4 510.9,285.9 512.9,284.5 514.9,283.2 516.8,282.0 518.8,280.9 520.8,279.9 522.7,278.9 524.7,278.0 526.7,277.2 528.6,276.4 530.6,275.6 532.6,274.9 534.6,274.2 536.5,273.5 538.5,272.8" stroke="#800000"/>
<polyline points="341.5,359.2 343.5,359.2 345.4,359.2 347.4,359.1 349.4,359.1 351.4,359.1 353.3,359.1 355.3,359.0 357.3,359.0 359.2,358.9 361.2,358.9 363.2,358.9 365.1,358.8 367.1,358.8 369.1,358.7 371.1,358.7 373.0,358.6 375.0,358.5 377.0,358.5 378.9,358.4 380.9,358.3 382.9,358.2 384.8,358.1 386.8,358.0 388.8,357.9 390.8,357.8 392.7,357.7 394.7,357.6 396.7,357.4 398.6,357.3 400.6,357.2 402.6,357.0 404.5,356.9 406.5,356.7 408.5,356.6 410.4,356.4 412.4,356.3 414.4,356.1 416.4,356.0 418.3,355.8 420.3,355.6 422.3,355.5 424.2,355.3 426.2,355.0 428.2,354.8 430.1,354.5 432.1,354.2 434.1,353.9 436.1,353.5 438.0,353.1 440.0,352.7 442.0,352.1 443.9,351.5 445.9,350.9 447.9,350.1 449.9,349.3 451.8,348.3 453.8,347.2 455.8,346.0 457.7,344.6 459.7,343.1 461.7,341.5 463.6,339.7 465.6,337.8 467.6,335.8 469.6,333.6 471.5,331.3 473.5,328.9 475.5,326.5 477.4,324.0 479.4,321.4 481.4,318.9 483.3,316.3 485.3,313.7 487.3,311.2 489.2,308.6 491.2,306.2 493.2,303.8 495.2,301.5 497.1,299.2 499.1,297.1 501.1,295.1 503.0,293.1 505.0,291.3 507.0,289.6 508.9,288.0 510.9,286.5 512.9,285.1 514.9,283.8 516.8,282.6 518.8,281.5 520.8,280.4 522.7,279.4 524.7,278.5 526.7,277.7 528.6,276.9 530.6,276.1 532.6,275.4 534.6,274.6 536.5,274.0 538.5,273.3" stroke="#008000"/>
</g>
<rect x="341.5" y="210.5" width="197.0" height="153.0" fill="none" stroke="#000" stroke-width="1.2"/>
<path d="M341.50,363.5v-3.5 M366.12,363.5v-2.2 M390.75,363.5v-3.5 M415.38,363.5v-2.2 M440.00,363.5v-3.5 M464.62,363.5v-2.2 M489.25,363.5v-3.5 M513.88,363.5v-2.2 M538.50,363.5v-3.5 M341.5,360.77h2.2 M341.5,347.11h3.5 M341.5,333.45h2.2 M341.5,319.79h3.5 M341.5,306.12h2.2 M341.5,292.46h3.5 M341.5,278.80h2.2 M341.5,265.14h3.5 M341.5,251.48h2.2 M341.5,237.82h3.5 M341.5,224.16h2.2 M341.5,210.50h3.5" stroke="#000" stroke-width="1.3" fill="none"/>
<text transform="translate(341.50,376.90) scale(1.03,1)" font-size="12" font-weight="bold" text-anchor="middle">-2</text>
<text transform="translate(390.75,376.90) scale(1.03,1)" font-size="12" font-weight="bold" text-anchor="middle">-1</text>
<text transform="translate(440.00,376.90) scale(1.03,1)" font-size="12" font-weight="bold" text-anchor="middle">0</text>
<text transform="translate(489.25,376.90) scale(1.03,1)" font-size="12" font-weight="bold" text-anchor="middle">1</text>
<text transform="translate(538.50,376.90) scale(1.03,1)" font-size="12" font-weight="bold" text-anchor="middle">2</text>
<text transform="translate(336.90,351.41) scale(1.08,1)" font-size="12" font-weight="bold" text-anchor="end">0.5</text>
<text transform="translate(336.90,324.09) scale(1.08,1)" font-size="12" font-weight="bold" text-anchor="end">1.0</text>
<text transform="translate(336.90,296.76) scale(1.08,1)" font-size="12" font-weight="bold" text-anchor="end">1.5</text>
<text transform="translate(336.90,269.44) scale(1.08,1)" font-size="12" font-weight="bold" text-anchor="end">2.0</text>
<text transform="translate(336.90,242.12) scale(1.08,1)" font-size="12" font-weight="bold" text-anchor="end">2.5</text>
<text transform="translate(336.90,214.80) scale(1.08,1)" font-size="12" font-weight="bold" text-anchor="end">3.0</text>
<text transform="translate(79.00,28.80) scale(1.06,1)" font-size="12.5" font-weight="bold" text-anchor="start">Ti</text>
<text transform="translate(350.00,26.00) scale(1.06,1)" font-size="12.5" font-weight="bold" text-anchor="start">Mo</text>
<text transform="translate(76.30,225.30) scale(1.06,1)" font-size="12.5" font-weight="bold" text-anchor="start">Pd</text>
<text transform="translate(348.00,225.30) scale(1.06,1)" font-size="12.5" font-weight="bold" text-anchor="start">Ni</text>
<text transform="translate(183.10,29.00) scale(0.99,1)" font-size="15.5" font-weight="normal" text-anchor="start" style="stroke-width:0.2px">1 kHz</text>
<text transform="translate(218.10,105.00) scale(0.99,1)" font-size="15.5" font-weight="normal" text-anchor="start" style="stroke-width:0.2px">1 MHz</text>
<text transform="translate(468.10,39.80) scale(0.99,1)" font-size="15.5" font-weight="normal" text-anchor="start" style="stroke-width:0.2px">1 kHz</text>
<text transform="translate(496.30,112.80) scale(0.99,1)" font-size="15.5" font-weight="normal" text-anchor="start" style="stroke-width:0.2px">1 MHz</text>
<text transform="translate(216.10,269.20) scale(0.99,1)" font-size="15.5" font-weight="normal" text-anchor="start" style="stroke-width:0.2px">1 kHz</text>
<text transform="translate(221.40,330.50) scale(0.99,1)" font-size="15.5" font-weight="normal" text-anchor="start" style="stroke-width:0.2px">1 MHz</text>
<text transform="translate(483.90,251.30) scale(0.99,1)" font-size="15.5" font-weight="normal" text-anchor="start" style="stroke-width:0.2px">1 kHz</text>
<text transform="translate(493.60,320.70) scale(0.99,1)" font-size="15.5" font-weight="normal" text-anchor="start" style="stroke-width:0.2px">1 MHz</text>
<text transform="translate(258.80,148.40) scale(1.05,1)" font-size="17.7" font-weight="bold" text-anchor="end">(a)</text>
<text transform="translate(537.40,148.60) scale(1.05,1)" font-size="17.7" font-weight="bold" text-anchor="end">(b)</text>
<text transform="translate(239.80,355.60) scale(1.05,1)" font-size="17.7" font-weight="bold" text-anchor="end">(c)</text>
<text transform="translate(536.80,354.00) scale(1.05,1)" font-size="17.7" font-weight="bold" text-anchor="end">(d)</text>
<text transform="translate(165.50,203.80) scale(1.1,1)" font-size="16.8" font-weight="bold" text-anchor="middle">Voltage (V)</text>
<text transform="translate(442.80,203.80) scale(1.1,1)" font-size="16.8" font-weight="bold" text-anchor="middle">Voltage (V)</text>
<text transform="translate(167.00,402.80) scale(1.1,1)" font-size="16.8" font-weight="bold" text-anchor="middle">Voltage (V)</text>
<text transform="translate(440.20,402.80) scale(1.1,1)" font-size="16.8" font-weight="bold" text-anchor="middle">Voltage (V)</text>
<text transform="translate(24.2,102.8) rotate(-90) scale(1.075,1)" font-size="16.3" font-weight="bold" text-anchor="middle">Capacitance (μF/cm<tspan font-size="11.5" dy="-7.5">2</tspan><tspan dy="7.5">)</tspan></text>
<text transform="translate(301.5,104.0) rotate(-90) scale(1.075,1)" font-size="16.3" font-weight="bold" text-anchor="middle">Capacitance (μF/cm<tspan font-size="11.5" dy="-7.5">2</tspan><tspan dy="7.5">)</tspan></text>
<text transform="translate(26.0,302.1) rotate(-90) scale(1.075,1)" font-size="16.3" font-weight="bold" text-anchor="middle">Capacitance (μF/cm<tspan font-size="11.5" dy="-7.5">2</tspan><tspan dy="7.5">)</tspan></text>
<text transform="translate(299.5,302.5) rotate(-90) scale(1.075,1)" font-size="16.3" font-weight="bold" text-anchor="middle">Capacitance (μF/cm<tspan font-size="11.5" dy="-7.5">2</tspan><tspan dy="7.5">)</tspan></text>
<path d="M216.40,33.40L238.75,79.29" stroke="#000" stroke-width="1.8" fill="none"/><path d="M242.60,87.20L234.33,78.44L238.53,78.84L240.80,75.28Z" fill="#000"/>
<path d="M504.40,48.75L519.92,86.12" stroke="#000" stroke-width="1.8" fill="none"/><path d="M523.30,94.25L515.56,85.01L519.73,85.66L522.21,82.25Z" fill="#000"/>
<path d="M244.50,274.50L255.57,308.43" stroke="#000" stroke-width="1.8" fill="none"/><path d="M258.30,316.80L251.31,306.98L255.42,307.96L258.16,304.75Z" fill="#000"/>
<path d="M516.40,258.00L529.19,290.70" stroke="#000" stroke-width="1.8" fill="none"/><path d="M532.40,298.90L524.86,289.50L529.01,290.24L531.56,286.88Z" fill="#000"/>
<g fill="none" stroke="#0000FF" stroke-width="2" stroke-dasharray="4 3">
<ellipse cx="425.5" cy="132.5" rx="18" ry="30.5" transform="rotate(4 425.5 132.5)"/>
<ellipse cx="531.5" cy="64.7" rx="8.5" ry="17"/>
</g>

</svg></body></html>
